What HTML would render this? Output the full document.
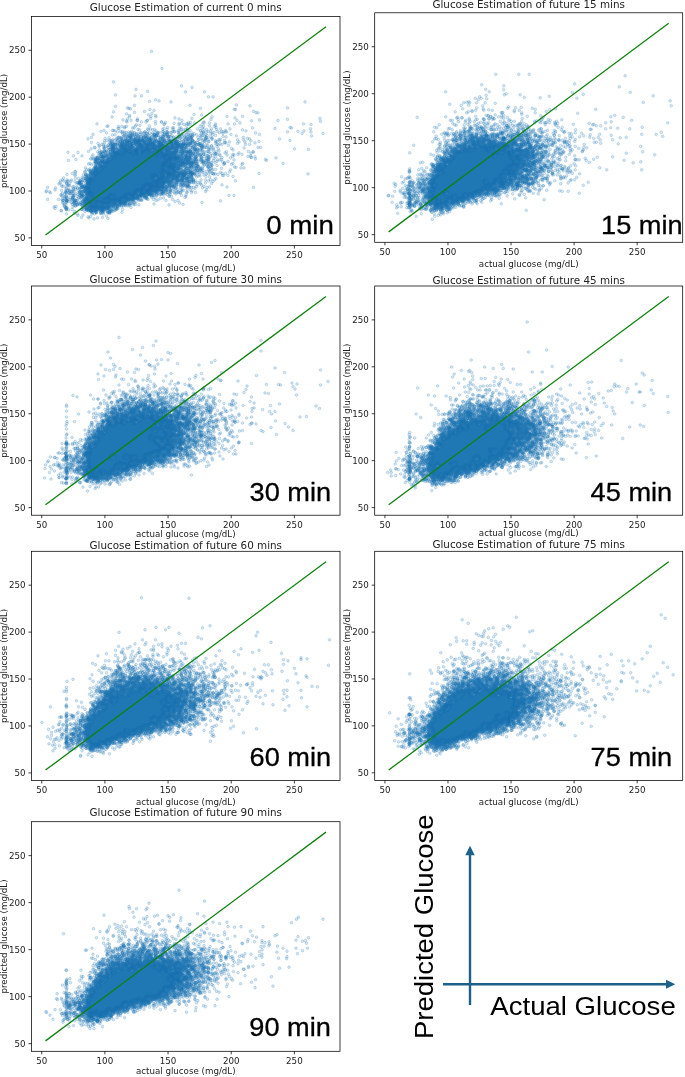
<!DOCTYPE html>
<html><head><meta charset="utf-8"><title>Glucose Estimation</title>
<style>html,body{margin:0;padding:0;background:#fff;width:685px;height:1077px;overflow:hidden}svg{display:block}</style>
</head><body>
<svg width="685" height="1077" viewBox="0 0 685 1077">
<defs><marker id="m" markerUnits="userSpaceOnUse" markerWidth="8" markerHeight="8" refX="4" refY="4" overflow="visible"><circle cx="4" cy="4" r="2.7" fill="#1f77b4" fill-opacity=".17" stroke="#1f77b4" stroke-opacity=".36" stroke-width="1.2"/></marker></defs>
<g transform="translate(31.5 16.4)"><path d="M132 165 131 165 130 170 131 170ZM135 155 136 158 138 159 138 157ZM136 149 138 152 142 152 142 150 141 150 140 148ZM139 141 135 142 134 140 136 139 136 138 132 138 129 136 130 133 129 133 128 131 126 132 122 131 122 133 120 135 116 132 114 132 111 134 109 137 107 137 106 136 106 134 104 134 104 136 102 137 99 135 97 135 95 133 93 133 93 136 91 138 89 137 83 137 83 141 74 146 74 149 72 151 70 151 70 153 68 155 65 154 65 157 63 159 63 161 58 164 57 166 57 170 56 171 57 173 57 177 60 177 61 178 60 181 58 183 56 183 56 184 59 186 59 191 66 191 65 189 65 186 66 185 70 187 78 187 78 185 79 184 87 184 89 185 89 183 92 181 95 181 95 179 96 178 99 178 102 180 106 174 109 174 110 175 110 177 111 177 111 173 113 171 113 169 114 168 116 168 118 170 118 172 117 173 115 173 115 175 120 174 120 171 121 170 123 171 127 170 126 167 130 162 132 162 132 158 131 157 132 150 137 144 139 144ZM73 184 74 183 77 183 78 185 77 186 74 186ZM78 182 78 180 79 179 82 179 83 180 81 183 79 183ZM121 168 122 167 124 167 125 169 124 170 122 170ZM123 159 125 160 125 162 124 163 122 163 121 162ZM126 137 127 136 129 136 130 137 130 139 129 140 127 140 126 139Z" fill="#1f77b4"/><g transform="scale(.5)"><path d="M240 70l21 34-97 27 136 8 21 3 25 9-38 0-76-1-12 9-11-13-2 13-39-2 68 13 12-3 7 2 24 2 75-10 9 0 184 10-35 12-68 7-7-11-27-2-2 9-2 0-68-2-21-6-72 10-8-2-11 4-20 2 0-14-8 7-3-1-3-1-24-3-4 11-3 10 22 6 7-12 2 10 4-4 0-3 16 7 22-8 4 7 1-4 2-6 7 4 1 3 38 2 8 2 26-1 4-8 15 1 19 9 2-5 30-1 16 3 15-3 27-8 4 1 3 14 37 1 19-2 65-2 1 6-19 6-15-1-24 8-3-1-75 1-2-14-23 4-6-5-5 7-13 0-24 7-1-4 0-3-2 5-10-7 0 6-11-8 0 2-1 7-2 3-1-7-4 4-11-7-8-1-1 5-3-4-1 3-2-2-1 4-5-2-4-8-1 6-1 9-4-9 0 3-10-3-1 9-2 0-10-1-4-10-2 3-1 1-5-5 0 0-12-1 0 5-12 4-4-11-1 0-2 3-9 0-3 7-5-10-1 0-1 9-2 2-3 4-3 0-3-15-8 3-1 9 0-11-3 12-1 2-5-3-6 4-1-4-21-1-2 1-20-5-8 21 16-6 6-2 5 5 12-5 0 9 2-9 3 1 0 8 5-6 1-7 5 6 3 2 1 3 0-5 2 10 1-1 0 0 1-7 1 3 2-3 1 6 1-1 3-6 1 7 1-4 0 6 0-1 2-6 0 6 1-4 1 2 0-7 1 7 1 1 0-6 0 7 1-2 3-4 0 0 0 4 2 3 2-3 0-2 2 3 1-4 0-8 3 1 1 9 1-3 0 7 2-7 3 6 1-5 2 0 0-3 1 0 1 7 1 0 1 2 0-6 2 1 0-4 0-6 1 12 1-11 2 7 0 6 2-14 3 11 1-9 0 6 1 6 2-3 1 0 0 3 0-2 0-11 0 11 1-5 1 8 1-11 0 9 0 1 1 0 1-1 0-1 0-3 1 1 1-3 0 1 2 6 1-7 6-6 0 9 1 5 0-9 0-1 2 7 0-13 1 9 0 3 2 1 1-6 0 9 2-8 0-6 0 12 0-2 1-1 0-4 0 6 1-4 4 7 1-1 0-7 2 0 1 6 2-12 0 4 3 1 0-1 7-1 1 3 0 8 1-4 0-2 0-5 1 11 0-16 0 16 3-14 1 10 1 1 0-7 3 7 0-10 4-1 1 7 1 3 0 4 1-15 0 4 1-4 1 3 2 6 0 2 1 3 1-11 2 10 2-5 0 7 1-4 0 4 1-2 3-3 4 2 2-12 5 13 1-9 0-1 2 10 0-5 3 5 0-5 1-1 0-1 0-5 2 13 3-3 1-10 0 5 1 7 2-8 5 4 0-5 2-4 1 8 1 4 3-5 3 6 2-12 2 4 4 3 2-8 2 5 3 4 0-3 5-3 0 3 2 0 7-6 2 11 11 3 12-12 7 2 19 4 8 3 31-12 25 7 21-1 8 4 4-5 13-4 1 6 1 8 23-5-66 14-21-3-41 5-8 3-8-4-3-4-4-1-5 7-3-4 0-5-9 9-3 3 0-7-16 4-7-10 0 12-2-1-1-4 0 5-3-13-2 16-3-10-1 9-1-6-1-3-4 4-2 1-1-2 0 5-7-10 0-1 0 3-4-5-2 9-1 1-1-4-2-4-2-1 0 0 0 2-1 1 0 3-1 2-1-1-2-3-2 2 0 5-3-8 0-4-1 14-1-1-1 1-1 0 0-9-2 2 0-6-2 10-3 1-1 1 0 1-1-4-1 0-2-2-1 4 0-5 0-1-1 0-1 6 0-10-1-1 0 2 0 6 0 3 0-6-1 7 0-1 0 0-1-10 0-2-1 14-1 0-1-10 0 3-1-2 0 1 0 4-1-10 0 5 0 4-1 4-1-11 0 12-1 0 0-12-1 6 0 5-1-8-1 9 0-7 0-7-1 8 0 6 0-12-1 12 0-5 0 5-2 1-2-5 0 2 0-7-1-5-1 2 0 13-1-8-2 4-2 2 0-4 0-8 0 9 0 4-1-9 0 7 0 2 0-12-2 10 0-4 0 2 0 1 0-11-1 11 0-5 0 7 0 2 0-5-1-2 0 5 0-9-1 10 0-7 0 7 0-2-1-6-1 8 0-7 0 4-1-10 0 7 0-7 0 12-2-9 0 4 0 7-1 0 0-8 0 2 0 1 0 3-1 1 0-2-1 1 0-3 0 4 0-1 0 0-1 0 0-3 0-1-1 0 0-2 0 3 0-2-2-8 0 9 0-4 0 9 0-10 0 4-1-8-1 0 0 9-1-8-1 6 0 5 0 3-1-1-1-2 0 0-1 0-1-6 0 2-1 0 0-3-1 4-1-8 0 8 0 5 0-15 0 7 0 6-1-9 0 5-1-3 0 9 0-5 0-10-1 15 0-12 0 9 0 4-1 0 0-2-1-7 0-2 0 10-1-10 0 0 0 8 0-12-1 15 0-1 0-2 0-1 0 0-1 2 0-3 0 1-1-2 0 5 0-8 0 8 0-13-1 11 0-4-1 3-1-1 0 1-2-2 0-2-1 3 0-3-1-3 0 0 0 11-1-8-1 3 0-9-1 11 0-5 0 7 0-4 0-10 0 12-1-7 0 7-1 2-1-6 0 4 0 2 0-7 0 6-1 0-1-9 0-3 0 13-1-12 0 11 0-7 0 4-1-1 0 4 0 2 0-4 0-6-1 5 0-3 0 7 0-11 0 1-1-2 0 10 0-5 0-3 0 5 0-3-1 8 0-8-1 0 0 9 0-1 0 0 0-2-1 3-1 0 0-14 0 6 0 2 0 2-1-9 0 6-1-5 0 2 0 5 0-7 0 8 0-9-2 9 0-12 0 9-1 6 0-1 0-2-1-1 0-10 0 10 0-2 0-4-1 7 0-5 0 7-1-1 0-11 0 1 0 3 0-5-1 7 0 2 0 0 0 5-1-7-1-1 0 2 0-5 0 4-1-2 0-6-1 9 0 1-1 3 0-7 0 9 0 1-1-6-1 4 0-6 0-4 0 7 0 4-1-9 0 4 0-7 0 5 0 6 0-6 0 4 0-3-1-9 0 3 0 7 0-9 0 7-1 2 0 1 0-1-1 3 0-2-1-3 0-3 0 7 0-5-1 9 0-8 0 5 0-1-1 3 0-1-1-5 0 3 0 2 0-4 0-5 0 7 0-2 0-2 0-8 0 4 0-2-1 10 0 3 0-9-1 2 0-2-1 3 0-2 0-2-1 10 0-4-1-2 0 5-1-4-1 4 0-9 0 5 0 5 0 0-1-2 0-10 0-1-1 2 0 5 0-3-1 10 0-14 0 3 0 11-1-14 0 11 0-1-1-8 0 4 0 4 0-1-1-2 0 1 0 3-1-4 0-7-1 7-1 6 0 1 0-8 0-7 0 9-1 3 0-12 0 6 0 7 0 1-1-5 0 0 0 2-1 3 0 0 0-11 0 11 0-8-1 0 0-3-1 7 0-2-1 2-1-1-1-4 0 9 0 0-1 1 0-3-1-5 0 4 0-2 0 6 0-7 0 6-1-10 0 10 0-2-1 3 0-1-1-11 0-2 0 2 0 3-1 4-1 1 0-1 0-1-1-8 0 14 0-1-2-13-1 5 0 1 0-6-1 14 0-2 0-5-1-5-2 2 0 7-2 3-1-2 0-6-3 6 0-7-1 5 0 3-1-1-1-6-1 3 0 5-1-8 0 6-2-6 0 5-1-10-4 5-4-4-1 9 0-4-5 7-8-2-13-2 0-10-7 3-20 27 21-2 5-5 7-3 1 1 5 8 3-11 1 7 0-9 4 13 0 0 4-14 1 3 0 9 0-6 0 2 1 5 0-7 0 7 2-10 0 12 1-4 1 2 2-11 1 3 0 9 1-8 0-6 0 11 3-2 0 5 0-13 0 8 1-9 0 9 0 5 1-12 2 7 0-2 0-2 0 0 0 2 0 3 0-6 1 5 0-6 0 9 0-10 1 11 0-9 1 6 0 3 0-14 0 2 0 4 0-1 0 6 0 5 0-10 1 2 0-7 0 2 0 5 1 4 0 4 1-3 0-3 1-4 0-4 0 8 0-4 0-6 2 9 0 7 0-16 1 7 1 4 0-9 0 11 1-2 0-4 0 6 1 2 0-6 0 5 2-3 0 2 1-4 0 6 0-12 0 9 0-10 0 14 1-9 0 5 0-7 1 8 0-8 0 6 0 5 0-5 0-8 0-1 0 2 0 11 0-13 1 10 0-4 0 3 0-5 1-2 0 0 0 3 1-3 0 4 0 4 1-6 0-3 0 3 0 2 1 6 0 1 0 0 0-7 0 2 0-5 0 3 0-2 0 10 1-1 0-4 0-9 0 8 0 1 0-9 0 8 0 2 1-10 0 13 0-5 0 5 0-4 1-7 0 2 0-3 0 7 1-4 0 1 0-3 0 0 1 7 0 1 0-4 1-6 0 9 1-5 0 2 0-8 0 11 0-6 0 7 0-2 0 1 0-7 1 8 0-1 0-4 0 6 0-12 1 5 0 5 1 2 0 2 1-12 0 9 0 3 0-11 0-2 0 7 0 4 0 0 1-7 0 0 0 4 0-7 0 0 1 5 0-8 0 8 1 2 0-4 0 4 0 3 0-6 0 7 0-1 0-2 1-4 0-1 0 8 0-3 0-9 0 2 1 1 0 9 0-12 0 13 0-9 0-4 1 9 0-6 0-1 0 8 1-6 0 8 0-4 0 6 1-14 0 4 0 10 1-8 0 6 0 2 1-1 0-13 0 9 0-3 0 2 1-8 0 9 0-2 1 6 1-2 0-2 0 3 0-9 0 8 0 0 0 1 0-3 0 3 0 1 1-11 0 8 0 1 0-1 0 1 0-3 1-6 0 7 0 2 0-3 0 5 0 0 0-1 0 1 0-5 1 5 0-14 0 14 1-9 0 3 0 1 0 3 0-3 0-1 0-3 0 9 0-5 1-1 0-4 0-2 1 7 0 4 0-12 0 2 0-3 0 8 0 5 0-4 1-6 0 5 0-8 1 0 0 13 1-13 0 6 0 8 0-14 1 0 0 12 0-9 0 1 0 6 1-5 0-5 0 6 0 5 0-5 0 3 0-2 1-7 0 11 0-9 0 12 0-7 0-3 0-2 0 3 0 2 0 8 1-5 0 4 0-13 0 14 0-2 0-11 0-1 0 5 0-7 1 11 0-7 0 4 0-1 0-3 0 10 0 0 1-14 0 14 0-10 0 2 0-2 0 5 2 2 1 0 0-9 0 7 0-1 1 1 0-5 0 3 0 2 0-1 1-5 0 4 0-7 1 6 0-5 0 8 0-1 0-6 0 5 0 0 1-6 0 1 1-2 0 10 0-5 1 4 0-3 0-2 0 2 0 1 0-6 0 8 0-6 1 5 0-7 0 2 0 0 0 10 1-4 0-2 0-2 0 5 1 1 0-1 0 1 0-8 0 5 1 3 0-1 0-4 0-1 1 7 0-9 0-2 0 12 1-3 0-9 0 2 0 10 0-4 0-8 0 10 1-8 0 6 1-3 1-5 0 8 0 0 0 1 0-4 1-6 0 6 0 7 0-12 0 11 0-7 0 2 0 3 1-10 0 4 1 2 0 1 1-7 0 4 0-2 0 1 0 5 0-4 1 2 0-1 0 2 1-6 0 1 0 6 1-2 0 2 1-3 0-3 0 1 1 1 1 0 1 12 0 0 0-10 0 0 1 9 0-13 0 6 0-2 0-2 1 11 0-10 0 9 0 2 0-14 0 14 1-3 0-8 0 6 0 2 1-7 0-5 0 4 0 10 0-9 0-5 0 13 0-9 0 4 0 3 0-11 1 8 0-8 0 1 0 1 0 12 0-1 0-2 1-1 0-1 0 4 0-7 0 3 1-5 0 6 0-8 0 7 0 1 0 0 0-6 1 10 0-14 0 13 0-2 0-2 1-7 0 4 0-5 0 1 0 6 0 5 0-5 0-7 1 5 0 3 0 1 0-4 0 8 0-2 0-4 1-6 0 7 1-4 0-3 0 1 0 12 0-13 0 0 0 11 1-8 0-3 0 12 1-9 0 3 1 1 0-3 0-4 0 10 1-3 0 0 0-6 1 2 0 5 0 0 1 3 0-7 0 4 1-2 0 3 0-10 0 4 0 6 0 1 0-8 0 4 0-4 1 5 0 5 0-11 1-3 0 15 0-12 1 7 0-6 0 10 0-3 0-5 0-3 1-1 0 11 0-5 0 0 0 1 0 3 1-7 0 8 0 2 0-8 1 1 0-5 0 3 1-3 0-2 0 5 0 3 0 0 1 2 0 1 1 0 0-9 0 3 1-2 1-1 0 3 0-5 0 8 0-3 1-2 0 3 0-1 0-6 1 2 0 12 0-4 0-6 0 2 1 1 0-4 1 11 0-4 0-6 0 9 1-5 0-7 1 13 0-2 0-7 0 9 0-3 1-1 0-5 0 6 0 2 0-13 1 13 0-6 0 0 0-6 0 6 1 2 0-9 0 15 0-11 0 0 0 10 0-3 0-4 0 2 0 2 0-11 1 5 0-4 1 2 0-1 0-1 1-2 0 0 0 15 1-13 0 13 0-1 0-8 0 2 1-3 0 2 0-5 1-1 0 3 1-1 0 0 1 12 0-15 0 13 0-5 0 2 0 4 1-1 0-11 0 5 0 3 1 5 0-10 0 2 0-2 0 1 1-6 0 4 1-2 0 10 0 4 0-3 0-11 0 7 1 0 0 6 0-15 0 8 1 5 1 3 0-7 0-4 0 7 1-8 0 11 1-14 0 6 0-6 1 14 0-12 0 7 0-4 1 0 0 8 1 0 0-8 0 10 1-14 0 13 1-3 1 3 0-15 0 1 1 9 0-8 1 13 1-2 0-11 0 12 1 1 0-2 0-6 1 4 0 4 2-13 0 13 0-9 1 2 1-3 0-1 2 6 0-7 1 6 0 1 0 3 1-6 0 1 1 2 0 0 0-7 1 10 0 1 0-12 1-2 2 9 0 2 0-2 0 6 2-15 0 11 1-10 0 11 2-10 0 0 1 7 1 4 1-7 0-3 0 4 1 6 0-5 0-5 1 9 0-7 1-4 0 1 0 3 2 10 1-9 2 0 1 9 1-15 0 6 2-4 1 12 1-5 0 5 1-8 1 3 2 1 2-7 0 0 3 4 1 2 0 4 6 1 1-10 0-4 3 9 0-8 1 12 15 2 4-13 6 6 3 3 22-4 3-7 6 14 2-14 7 15 1 0 9-9 5 0 68 3 28 1-65 17-19 5-2-2-20-1-1-4-7 1-1 0 0-8-1 5-5 1-12-4-6-3-2 3-8 11 0-10-2-1-1 4-4 3-7-6-4-4-6 9-1 4-3 1 0-9-1-2-4 11-1-11-2-2-1 0 0 7-1-5-1-2-1 10-3-6-3-4-1 6-3 4 0-11 0 8 0 5 0-4-1 4-1-7-1 7-1-8 0 1-1 5 0 0-1 4-4-8 0-4-1 12 0-13 0 1-3 8-1-2 0 4 0 1 0-12-1 6 0 0-1-5 0 10 0-9-2 1-2-3 0 12-1-14-1 2 0 2-1 3-1 7 0-6-1 0 0 6 0-2-1-12 0 10 0-4 0 4-1 4 0-1-1-2 0-8-1 9 0-11-1 5 0-1 0-4-1-1-1 4-1-2-1 7-1-8 0 13 0-3-1-1 0-7 0-2 0-2 0 6-1 1 0 0-1 7 0-7 0 6 0-4 0 1 0-7 0 7 0 2-1 2 0-4-1 5 0 0 0-15-1 0 0 3 0 7-1-4 0-4-1 14 0-2 0 0-1-1 0-4 0 2 0-4 0 0 0 1-1-1 0-2 0 3 0 4 0-2-1 5 0-9 0-3-1 11 0 1 0 0 0-3-1-3-2-2 0 4-1 1 0-9 0 11 0-10-1-3 0 1 0 6-1 0 0 2 0 2 0-9-1 1 0 12 0-10 0 6-1 1-1-10 0 6-1-3 0 4 0 5 0-12 0 11-1-2 0 0 0-4-1 4 0-7 0 10-1-7-1 1 0 4 0-7 0 5-1-1 0 0 0 6 0-10-1 4 0 4 0-2-1-2 0-6 0 8 0-1 0 3 0-11-1 7 0 2 0-1 0-6-1 9 0-11 0 6 0 3 0 1 0-7-1-5 0 14 0-2 0-4 0 6 0-3 0-9 0 6-1 6 0-8 0 5 0-5 0 5 0-7 0-2 0 3 0 0 0-6-1 12 0 2 0-10 0 7-1 3 0-5 0 4 0 0 0-13-1 10 0-2 0-7 0 0-1 2 0-2 0-1-1 7 0 2 0 6 0-10 0 3 0 1 0 2 0-8 0 2 0-5 0 0-1 2 0 2 0 11 0 1 0-13 0 9 0 3-1-4 0-1 0 5 0 0 0-5 0-9 0 7-1 5 0-13 0 7 0 7-1-4 0 0 0-4 0 0 0 7 0-1 0-2-1-9 0 6 0-2 0 3 0 4 0 0 0-11 0 1 0 3-1 10 0-2 0 2 0-13-1 6 0-3 0 3 0 3 0-1 0-3 0-1-1 7 0-4 0-3 0-2 0 12-1-6 0-9 0 5-1-4 0 1-1 1 0 0 0 4 0 1 0 2 0 5 0-15 0-1 0 10 0 3 0-11 0 5-1-5 0 2 0 4-1-2 0-4 0 3-1-2 0-2 0 4 0 0 0 4 0-1 0 1 0-4 0 4-1-1 0-1 0 4 0-4 0-6-1 5 0-1 0 2 0-3 0-1-2 0-1-2 0 1 0 0-1-2 0 3 0-1-1 2 0 2 0 1-1-3 0 1 0-1-1-3 0 4 0 0 0-4-1 5 0-6 0 1 0 7-1-1 0 1 0-7-1 7-1-6 0 6 0 0 0-1 0-6-1 7 0-5 0 2-1-2 0 2 0 0-1 0 0-4 0 0 0 0 0 0 0 5-1-1 0-5 0 6-1-3 0-3-29 1-1-1-1 0-1 0-2 3 0-1-2-1-1 0-1 0 0 0-1-1-1 1-1-1-2 1-2 1 0-1 0 2-3-3-1 1-15-1 0 1 0 2 0-2-2 1 0-2-2 2 0 1 0 0 0 1-1-2 0 3-1-3-1 1-1-2 0 0-1-1-1 2-1 0 0-1-1 0-1 0 0 1-1-1-1-1 0 1 0-1 0 2-1 0-1-1 0 2 0-2-1-1 0 9 0-1 0-7-1 4 0 4 0-6 0-1 0 0 0 6 0-2-1 3 0-6 0-3 0 4-1 4 0 0-1 3 0-11 0 8-1 1 0 0 0 4 0-10 0 2-1 6 0-6 0 1 0-6 0 11 0-11-1 9 0 4 0-2 0-5 0 5-1-6 0 7 0-4-1 6 0 0 0 1 0-14-1 2 0 1 0 0-1 6 0 0 0 3 0-6 0 6-1 0-1-3 0-7-1 11 0 2 0-2 0-9 0 10-1-10 0 9-1-1 0-4 0 0-1-4 0 7 0-4-1-2 0-1-1-5-1 9 0 7 0-10-1 1-1 4 0 0-1-1 0-2 0-5 0 6-1 2 0 2 0-11 0 14-1-14 0 7 0 7 0-7 0-9 0 10-1-1 0 7-1-10-1 2 0-3 0-1 0 4-1-7 0 11-1-11 0 12-1 2 0-9 0 10 0-4-1-11 0 11-2-5-1 4 0-1-1 3 0-2-1 3 0 0-1 0 0 1-1-5 0 2 0 4-2-2-2-1-1-8-2 4 0 4-3 0-17-6-12 7-5-7-10 9-1-16 35 31 6-8 3-1 3 3 5 7 0-10 2 6 0-9 0 12 0-2 1-10 0 8 0-8 1 3 0 8 0-9 0-2 0 9 1-8 0 10 0 1 1-14 0 10 0-3 1-2 0 4 1 6 1-10 0 10 0-11 0-1 1-2 0-2 0 8 0 4 0 3 1-8 1 0 0 5 0 4 0-3 0-1 0-4 0-1 1-2 0 6 0-6 0 10 0-9 1 6 0 2 0-12 1 2 0-3 0 12 0 0 1 0 0-11 1 11 0-3 0 0 0-8 0 7 0 3 0-9 1 7 0 3 0 1 0-10 0 8 0-8 0-1 1 10 0 0 1-11 0 2 0 0 0-1 0 3 0 6 0-10 1 10 0-5 1 1 0-3 0-5 0 1 0 5 0 2 1-4 0 6 0-2 0-1 0 3 1 0 1-8 0-1 0 2 1-2 1 2 0-1 0 0 1 1 0-1 0-1 108 9 0 0 0 4 0-5 1 7 0-2 1 0 0-3 0-1 0 5 0-8 0 4 0-4 0 4 1-5 0 8 0 2 0-8 0 1 0 1 0-1 0 4 0 0 1 3 0-5 0-6 0 1 1 2 0 1 0 5 1-3 0 2 0-3 0-4 0-5 0 5 1 5 0-7 0 10 0-9 0 1 0 1 1 0 0-3 0-2 0 8 0-7 0 9 0-7 0-4 1 0 0 10 0-7 0 7 0-6 1 4 0 4 0-7 0-4 0 10 0-8 1 2 0-6 0 16 0-15 0 13 0-6 1 3 0-2 0 0 0 3 0-3 1-6 0 9 0 3 0-15 0 12 0-3 0-6 0 8 0-10 1 15 0-12 0 2 0 8 0-12 1 13 0-7 0-3 1-4 0 2 0 13 0-15 0 4 0 5 0 5 1-8 0 1 0 2 0-1 0-6 0 3 0 3 0 7 0-8 0 0 1 1 0 1 0 4 0-1 0 2 0-7 0 6 0-13 1 6 0 1 0 7 0-7 0 7 1-13 0 4 0-5 0 6 0 2 1 6 0-6 0 6 0 0 1 0 0-6 0 7 0-11 0 4 0-7 0 2 0 7 1-11 0 16 0-9 0-2 1 10 0-3 0 2 0-3 0-6 0 7 0-5 0 5 1-7 0 7 0 1 0-6 0 5 0-5 0 1 0 5 1-3 0 1 1-11 0 3 0 8 0 5 1-11 0 1 0-4 0 14 0-6 0-1 0-6 0 12 1-14 1 3 0 6 0-5 0 5 0 3 0 3 1-1 0-9 1 8 0-14 0 16 0-6 1 1 0-10 0 1 0 9 0-7 0-4 0 5 0 1 0 0 1 10 0-1 0-3 0-2 0-8 1 9 1-4 0 1 0 2 1 3 0-11 0 2 0 6 0-2 1-6 0 13 0-5 0-7 0 12 0-8 1 3 0-6 1 2 0-5 0 4 0 3 1-5 0-2 0 4 1-2 0 8 0-6 0 4 0-2 0 6 0-5 1-4 0 7 0-11 0 9 0-3 1-1 1 1 1 8 0-13 0 1 1 5 0 7 0-9 1 2 0 1 0 2 0 3 0-1 0-11 1 4 1 0 0 1 1-3 0-2 0 15 0-11 1-4 0 6 0-6 1 2 0 10 0-6 1 9 0-11 1 2 0 5 0 3 0-10 0-1 1 6 0-6 1 6 0-7 0 7 0 6 1-11 0 5 1-4 0 6 0 2 0-14 0 2 0 3 0 7 0-5 1-1 0 1 0 8 1-12 0 7 1-4 0-6 1 4 0 9 0-9 1-1 0 9 0-5 0 4 2-6 0-3 1 4 1-4 0 13 0-5 1 5 0-9 1 1 0 6 0-3 0-6 0 8 2 0 0-1 0-9 0 7 2 4 0 2 4 1 0-15 1 3 2 11 1-12 0 3 0 6 0-10 0 2 1-1 2 6 1-4 1 3 1-5 2 6 0-8 1 12 1-7 0 7 1-7 0 7 0-10 0-2 0 11 2-5 1 9 2-4 0-3 0-4 1 10 0-11 1 6 0-1 3-9 3 4 4 6 0-8 9 14 2-13 2 5 2-1 0-2 0 0 7-3 7 6 3-2 3 7 3 1 10 1 2-7 1-2 3 9 78-9 50 21-98-1-52 6-5-13-2 4-3 7-5-4-4 4-2 0-1-4-3-2-5 4-5-1 0-9-3 9-1 0-2-9 0 8-1 0 0-6-4 3-1-1-1-3-1 8 0-8-5 4 0 4 0 5-4-3-2-9-1 4-1-6 0 4-3-5-1 2 0 12 0-11 0-3-1 11 0-5-3 8 0-11 0 4-1-4 0 0-2-4 0 7-1-6 0 4-1 8-1-9 0 7-1 0 0-10 0 10-1-5-2-3 0 7-1-1 0 1 0 2 0-2-1 2 0-7 0 7 0 0-1-3-1 7 0-7-1 4 0-5 0-3 0 4 0-3-1 7 0-7 0 5 0-1-1-4-1-6-1 4 0 0 0 4-1 4 0-5 0 5-2-2 0 0 0-6-1-4 0 0-1 10 0 1 0-6 0 3-1 2 0-7 0 8 0 3-1-10 0 9 0-10-1 3 0 3 0 3 0-4-1-1 0 8 0-1 0 0 0-4 0 2 0 2-1-1 0-9 0 7 0 3-1-3-1-5 0 10 0-5 0-5-1 6 0-3 0-6-1 0 0 9 0-3 0 5 0-5-1-7 0 7-1 4 0-7 0 9-1-5 0-1 0 0 0 0-1 6-1-5 0-7 0 6 0 7 0-6 0 1 0 0 0 0 0-8-1 11 0-4 0-10 0 14 0-14 0 3-1 5 0 7 0-15 0 15-1-12-1 12 0 0 0-10 0 3 0 6 0-6-1-8 0 10 0 1 0 5 0-10-1 4 0-2 0 6 0-11 0 3-1-2 0 10-1-9 0-5 0 4 0 3-1 1 0-2 0 6 0 2-1-4 0 3 0-10 0 3 0-2 0 9 0-2 0-6 0 5-1 3 0-10 0 3 0 7 0-5 0-5 0 1-1 10 0-9 0-3 0 4 0 9-1-14 0 10 0 3 0-11 0 8 0-9-1 6 0 0 0 5 0-10 0 9-1-1 0-6 0 7-1-10 0 8 0 4 0-4 0 2 0-5 0-7 0 10-1-4 0 8 0-3-1-1 0-8 0 2 0 12 0-13 0 3-1 8 0-4 0-5 0 5 0 4 0-5 0-1-1 5 0-13 0 15 0-5 0 4 0-7-1 7 0-7 0 5 0-3 0 0 0 1 0-7 0 9 0 0 0-4 0-7-1 14 0-3 0 1 0 0 0-6 0-7 0 9 0 2-1 3 0-12 0-1 0 4 0 6 0-1-1-5 0 5 0-4 0 1 0-1 0 5-1-4 0 0 0-3-1 5 0-9 0 6-1 1 0 8 0-7 0-8 0 11 0-8 0 2 0 6-1-7 0 6 0-4 0 0-1 6 0-8 0 12 0-8 0 2 0-7-1 1 0 11 0-11 0-3 0 5-1 8 0-3 0-11 0 8 0-6 0 13 0-12-1 12 0-1 0-1 0-1 0-11 0 13 0-8 0 1 0-3 0 10 0-4-1 5 0-13 0 10 0-9 0 1 0 4 0-2 0-3-1 2 0-5 0 12 0 0 0-2 0 0 0-3 0 1-1 3 0-3 0 0 0 0-1 0 0-1 0-2 0 3-9 6 0 0 0 2 0-1-1-2 0 2-1-1-1-1 0 1 0 2 0-2 0 0-1-3 0 2 0 0-1 2 0-3 0 2 0-1-1 1-1-1-1 0 0 2 0-1-1-1-100-12-1 0 0 1-1 1 0 0 0 0-3 1 0-2 0 3-1-3 0 4 0 1 0-5-1 3 0-3-1 1-1 2-1-1 0 0 0 0 0 6-1-1 0-5-1 3 0-6 0 1 0-1 0 0 0 6 0 5 0-1 0-1-1-5 0-1 0 5 0-3 0-5 0 9 0-7-1 4 0-3-1 9 0 3 0-6 0 4 0-7-1-4 0 7 0 5 0-2-1-3 0-9 0 1 0 9 0-5 0 8 0-3 0-2-1-4 0 4 0 2-1-4-1-2 0 2 0 4 0 5-1-3-1-4 0-1 0-3 0 9-1-5 0 6 0-2 0-2-1-10 0 3 0 2 0 4 0 2 0-7-3-2 0 12-3-2 0 2 0-2-1-10-1 10-1-1 0 2-1-7 0 0-3 6-16-1 0-5-1-1 0 8-5-4-11 2-16 19 2-2 1-4 4-2 2 2 0-6 5 8 1 4 0-2 1-6 1 3 2-1 2 6 3-5 1-3 7 4 1-7 3 8 2 1 1-9 1 8 0 3 1-4 0 2 0 1 0-1 1-5 0 7 0-5 0 2 1-3 2 3 1-10 0 9 0-5 1 3 2-5 2 5 1-8 0 3 1 10 0-6 1-4 0 1 1 2 0-5 1 4 0 4 0-1 1-4 0 9 0 2 0-2 0-2 1 2 0-12 0 13 0-6 0 5 0-11 1 12 0-14 0 8 0 1 0-2 0 5 0-9 0 8 1 3 0-6 0 6 0-4 0-4 0 2 1-4 0 0 0 3 0 2 0-9 1 5 0-1 0-2 2 1 0-3 0 6 0-1 1 0 0 1 0-1 0-1 1 0 0 1 0 0 0-2 0-2 1 1 1 0 1 0 0-3 2 1 1-1 0 2 100 14 2-3 0 2 0-1 0 0 2 1 2 0 0 0 6-1 0 0 0 1 1-14 0-1 0 14 0 1 0-13 1 0 0 2 1-2 0 1 0-1 0 1 1-2 0 14 1 0 0-11 0 9 0-6 0-4 0 1 1 9 0-7 0 6 0-6 0 7 0-9 0 2 0 7 0 0 0-9 1 2 0 5 1-9 1 14 0 0 1 0 0-15 0 12 1-2 0 3 0 0 0-9 0 7 0-8 1-2 0 12 1 0 0 0 0-4 0 0 0 2 0-1 1 1 0 4 0-6 0 4 0-4 0 2 0-6 1 5 0-5 0 3 0-3 0 9 1-5 0-3 0 2 0-2 0 1 0 6 0-5 1 2 0-7 0 7 0-2 0 5 1 1 0-12 0 8 0-6 0 0 0-1 0 7 0 4 1-9 0-1 0 4 0-6 0 13 1-7 0 6 0-11 0 11 1 0 0-3 0-6 1 4 0 3 0-10 0 1 0 2 0-4 0 10 0-1 0 4 1-6 0-1 0-5 0 4 0-3 0-1 1 6 0-7 0 9 0 0 0 1 0 1 0-6 0 4 1 3 0-14 0 14 0-10 0 10 0-2 0 0 0 1 0-9 0 10 0-6 1-2 0-1 0 10 0-12 1 6 0-7 0 4 0 7 0-4 0 3 1-2 0-3 0-2 1 2 0 0 0-6 0 10 1 2 0-10 1 5 0 2 0-3 0-5 0 1 0 8 0-10 0 9 1 0 0-7 0-2 0 0 1 7 0 0 1-5 0-1 0 4 0 3 0-8 0 13 0-2 0-7 1-2 0 7 0-5 0 10 0-14 1 0 0 7 0 5 0-11 0 6 0 0 1-7 0 9 0 5 0-13 0 12 1-1 1-11 0 6 0 4 0 0 1-9 0 3 0 4 0 2 0-3 1-3 1-6 0 9 0-8 0 11 0-6 1-2 0 12 0-5 0-5 0-2 0-1 1 1 1 10 0-11 0-1 0-2 0 16 0-11 0 2 1 3 0-2 0-7 1 3 0 11 0-14 1 4 1-2 0 1 1-3 0 11 0-1 0-10 0 13 0 1 1-12 0 9 0-4 0 0 0-6 0 3 0 1 1 1 0-4 1 0 0-2 0 0 0 10 0-3 1 1 0-1 0 0 1 0 0-8 0 12 1-7 0 4 1-6 0 0 1 3 1 2 1 7 0-3 0-7 0 6 1 5 0-8 0 1 1 0 0-8 0 7 0-2 1 9 0-12 0-2 0 4 0 0 0 0 1 1 0-2 0-4 0 1 0 8 1 7 1-4 1 1 0 1 0-4 0-2 0-6 1 1 1 1 0 8 1-8 1 4 0-7 0 4 0-1 0 0 1 6 1 2 0-5 0 3 1-2 0-3 0-1 0-2 0-1 1 9 0-8 1 11 0 0 0-11 0-2 1 6 0 8 1-3 0-1 1-3 1-6 1 6 0 3 0-3 0-5 1-1 0 11 0-11 0 2 2 4 0 0 1 1 0 5 0-7 0 5 3 1 1-3 2-8 3 11 4 0 1 3 1-8 9 6 0-6 6 2 2-8 2 6 2 7 3-4 3-3 3-3 39 5 36 13-53-1-10-4-25 4-5 1-1 5-2 3-3-10-3 3-2-6-9 0-1 3-3 4-3-2-3 7-1-7-3 5 0-5-2-3 0 2-2-3 0 1 0 1-2 12 0-11 0 4 0-8 0 0 0 14-1-12-1 0-1-1-4 10 0-11 0 3-1-2-2 8 0-6 0 9-3-13 0 3 0 3 0 6 0 4-5-16 0 15-1-5-2-8 0 11 0-13 0 5-1 3-2-4 0 3-2 8 0-12 0 2 0 5-1-3-1-3 0-1-1 0-1-1-1 2 0 0-1 8 0-2-1 4 0 2-1-15 0 10 0-6 0 6 0-8-1 0 0 11 0-13 0 4-1 1-2 10 0-15-1 3-1 7 0-1 0-3 0 0-1-2 0 8 0-13 0 4-1 1 0 5 0 1-1-6 0 8 0-7-1 3 0-8-2 1 0 0 0 8-1-3 0 7 0-1 0 3 0-7 0 5-1-8 0-4 0 9 0-6 0 0 0 0-1 0 0-2 0 0 0 8-1-9 0-2 0 15 0-1 0-8 0-1 0 3-1-6 0 2 0 2 0 8 0-10-1 6 0-6 0 6-1 1 0-3 0 3-1-8 0 0 0 1 0 2-1 6 0-6 0 2 0 2 0-6 0 0 0 8-1-8 0 4-1 3 0-6 0 4 0-6 0 10 0-10 0 1-1 4-1-6 0 6 0 5 0-10 0 8 0-4 0-3 0-3 0 8 0-5 0 6-1-3 0 7 0-4-1 1 0-11 0 1 0 2 0 0 0 6 0-7-1 12 0-12 0 10 0-7 0 11 0-12 0 5-1 5 0-11 0 0-1 10 0 1 0-9 0 9 0-8 0 2 0-2 0 2 0-2 0 7-1-9 0-2 0 5 0-6-1 9 0 3 0-8 0-1 0 5-1 3 0-3 0-3-1 1 0-7 0 4 0 7 0 4 0-4 0-7 0-1 0 0-1-2 0 4 0 8 0-9 0-2 0 1-1 0 0 8 0-8 0 11 0-2-1-12 0 9 0 4 0 2 0-12 0 3-1-3 0 3 0 3 0 0 0 2 0 0 0-5 0 7 0-8-1 9 0-9 0 7 0-4 0 2 0-1 0-5 0 3 0 5 0-6-1 5 0 0 0 2 0-9 0-1 0 2 0-2-1 3 0-2 0 5 0-8 0 11 0-9-1 8 0-9 0 11 0-13 0 1 0 0 0 5 0 1 0 5-1 0 0-6 0-1 0 8 0-12-1 14 0-14 0 4 0 7 0-11 0 8 0-7 0-2 0 11-1 0 0-9 0 11 0-6 0 6 0-1 0-10 0 6 0-8-1 1 0 14 0-7 0 1 0 7 0-3 0-1-1 4 0-6 0 0 0-3 0-5 0-1-1 15 0-1 0-7 0-5 0 11-1-3 0 5 0-4 0-11 0 2-1 7 0-8 0 1 0 12 0-10 0-5 0 6 0 3 0 5-1-11 0 6 0 2 0 2 0-6-1-2 0-1 0 2 0-6 0 3 0-1 0 4-1-5 0 1 0 9 0-7 0 7 0 3 0-9 0 1-1 0 0-3 0 3 0-3 0 2 0 4 0-4 0 10 0-2-1-3 0 4 0-3 0 5-1-7 0 3 0-2 0 4 0-6-1 1 0 4 0 3 0-6 0 6 0-5 0 5 0-4 0 1 0-5 0 5-2 0 0-2-1 5 0-1 0 0-1 1 0-3-1 2 0-4 0 1 0-1-1 1 0-2-1 4 0-3 0-1-1 2 0-2 0-1 0 6 0-2 0-3-1 1 0 0 0 3-1-1-1-1 0 3 0-1 0-2 0 0 0 1 0 2 0 1-1-2 0 1 0-1 0 0 0 1 0-4-1 4-1 0-88 1 0 0 0-1-1 1 0 0-1 0 0 0 0 0-1-7 0 3-1-8 0 7 0-7 0 11 0-6-1 6 0-8 0-2 0 3 0-8 0 12 0-9-1 1 0 4 0 2 0 0 0 0-1-5 0 1 0 1-1 0 0 8 0-13 0 6 0-4 0 6-1-4 0 4 0-4 0 8 0-14-1 8 0 4 0-3 0 6-1-1 0-8-1 6 0-5 0-4 0 1 0 10-1-6 0-4 0 0-1 3 0 0 0 6-1 1 0 1-1-1 0-9-1-5 0 1 0 5-1-4 0 3 0 9 0-11-1-1 0 5-1 3 0-3-1 7-1-5 0 6-2-2-2-6 0 0-1-7-3 7 0 3-3-6 0 9-1-5-1 2 0 3-1-8-1 9-1 2-1-2-3-1 0-10-1 7-1 2 0-10-1-2-1 12-1-9-1 4-1 8 0-6 0 6-1-2-4-9-3 0-1 8 0-11-12 6-1 4-11 4-4-9-2 7-1 2 3 15 6-13 16 13 5-8 0-2 2 10 0-6 1-6 3 6 1 2 0-7 1 10 2 1 0-13 0 0 0 8 1 2 0-3 0-2 1 10 0 0 1-5 3-11 0 2 1 13 1-12 0-1 1 8 1 4 3-8 0 6 0 1 0 1 1-5 0-6 0 7 1 5 0-6 0-2 1-4 0 3 2 9 0 0 2-13 0 14 2-8 2-4 1 7 1 0 1-11 0 2 1 4 0-1 0 1 1 5 1-11 0 0 1 8 0-4 0 9 0-7 0 2 1-4 0 5 1-4 1 1 0 5 0-5 0 0 2 9 1-12 0 6 0 5 1-4 0 6 1-4 0 2 0-1 0-13 1 7 0-2 0-4 0 0 0 10 1 4 0-2 1-4 0-3 0-5 0 5 0 6 0-3 1-5 0 11 0-2 0-3 0 3 0-12 1 3 0 8 0 2 0 1 0-10 1-5 0 0 0 8 0-5 0 0 0 5 1-8 0 14 0-6 0-7 0 11 0-8 0 6 0-9 1 2 0-1 1-2 0 12 0-4 0-6 0 3 0 7 0-7 0 3 1 4 0-3 1 3 0-8 0-2 0 6 0 2 0-7 1 5 0 2 0-1 0-2 1 3 0-7 0 7 0-8 0 0 0 2 0 2 1-2 0 2 0 0 1-5 0 6 0 0 8 8 12-1 0 2 1-2 0-1 1 1 1 1 0 0 0-2 1-1 1 0 0 0 0 3 1-2 0-1 0 2 1 0 0 2 0-3 0 0 1-1 0-1 0 2 1-1 1 3 0-7 0 3 0 1 1 3 0-5 0-1 0 4 0-2 0-1 0 0 1-4 0 2 0 1 0 0 0 6 0-6 1 5 0-5 0-2 0-1 0 8 0 0 1 1 0-6 0-4 0 3 0 5 0-4 1-3 0-1 0 9 0-9 1 5 0-5 0 3 0 0 0-1 1 7 0 1 0-8 0-4 0 11 0 0 0 0 1-8 0-2 0 9 1-1 0 2 0-1 0-4 0 3 0 4 0-2 0-8 0 8 1-9 0 9 0 0 0-7 0 2 0 5 1-1 1-6 0 8 0-7 0 0 0 3 0-2 1-1 0 2 0 6 0-2 0-8 1 8 1 0 1 0 0-1 1 1 1 0 1 2 0-2 2 1 1-3 1 4 0-4 2 1 1 2 0-3 0 2 0-2 0 3 1 0 0-1 0-3 0 5 1-5 0 2 0-3 0 2 1-2 0 0 0 1 1 0 0 0 0-3 0 5 0-4 0-1 1 5 0 3 0-1 2-4 0-3 0 1 0 2 0-1 1-1 0 0 0-1 1 3 0-6 0 6 0-5 0 2 0-2 0 2 0 5 0-9 1 6 0-6 0-1 0 12 0-6 0-1 0 3 0-7 1 11 0-4 0 1 0-7 1 1 0 5 0 4 0-13 0 2 0 10 0 0 1-13 0 1 0 10 0-5 0-4 1 1 0 0 0 9 0-11 0 10 0-2 0 1 0 4 0-4 0-2 0 2 1-6 0 2 0-6 0 1 0 0 1 12 0-10 0 12 0-3 0-1 0-1 0 4 0-2 1-7 0 8 0-9 0-3 1 10 0-9 0-1 0 10 0-8 1 11 0-6 0-5 1 2 0 0 0-3 0 10 0-1 0-7 1 4 0-2 0-1 0 3 0 6 0-6 1 4 0-9 0 3 0-3 1 1 0 5 0-4 0-1 0 10 0-7 0-4 1 3 0 0 0 5 0 2 0 1 0-9 0 7 1-9 0 2 0 8 0-4 0-4 0-1 0 1 1 5 0-9 0 8 0 3 0-3 0-10 0 1 0 4 1-5 0 6 0 6 1-9 0 9 0-10 0 4 0 6 1-11 0 2 0-2 0 4 0 3 1-6 0 9 0-10 0 3 1 7 0-11 0 4 0-2 0 9 1-3 0-7 0 0 0 5 0 5 0 1 1-4 0 5 1-6 0 0 0 1 0 5 0-2 0-6 0 3 1 6 0-7 1 3 1-5 0 2 0-1 1 8 0-9 0-2 0 0 1 1 0 4 0-5 0 1 0 1 1 10 0-15 0 3 0 2 0 4 0-6 0 4 1-5 0 5 0 0 0-1 0-6 0 16 0-12 1-3 0 14 0-15 2 4 0-1 0 6 0-6 1 2 0-4 1 1 0-1 0 1 0 6 0-3 0-3 1 9 0-5 0-4 0 7 1-2 0-1 1-5 0 9 1 0 0 2 1-6 0 1 0-1 1-3 0 9 0-11 0 12 0-4 1-4 1 9 0-11 0-2 1 2 1-1 0 2 1-2 0 2 0-2 0-2 0 5 1 0 1-4 0 2 1-1 0 3 1 2 0-4 0 7 1-9 0 2 0 4 1-2 1 1 1 8 0-14 1 3 0 4 1-7 1 10 0-8 2 14 1-15 0 4 0-1 1 3 2-5 0 13 0-14 3 1 1 3 1 7 1-9 1 1 1-2 1-1 0-1 1 3 1 8 1-7 3-2 2-2 1 4 4 3 1-5 0 6 1-4 3 4 2 6 4-13 3 2 2-3 2 16 2-15 3 0 2 5 7 4 2-5 0 3 11-8 8 0 67 6 10 0-27 11-37 3-38 4-7-3-9-3-12 7-6-9-24 7-30 2 0-9-6 3-1 5-2-4-1 5-1-9 0 5-1-2-1 4-2-6-1 6 0 7-1-12-1 5-1 3 0-3-1 1 0-5-2 8 0-11 0 7-1-3-2-1-1 8 0-9 0-1 0 6-1-4 0 0 0 5 0-7-1 8 0-3 0-3-1 0 0 2 0-4 0 1-1 3 0-4 0 5 0-5 0 8 0-8-1 6 0 4 0-10-1 3 0 0-2 3 0 3-1-4 0 6 0-8 0 2 0-3 0-1-1 3 0-2 0 2 0 0-1 1 0-4-1 6 0 2 0-8 0 1 0-1-1-1 0 4 0 1 0 4 0-3 0-4 0-2-1 1 0 9-1-9 0-2-1 16 0-12 0 3 0 1 0 3-1-11 0 0 0 0 0 12 0 3-1-13 0 8 0-9 0 1-1 8 0 4 0-5 0-4-1 2 0-4 0 5-1 5 0 0 0-12 0 2 0 7 0-9-1 6 0-3 0 1 0 1-1-1 0-2 0 5 0-6-1 3 0-4-1 6 0 3 0-3 0 5 0-9 0-3-1 2 0 9 0-4 0-5 0 10 0-7 0 9 0-7-1 3 0-9 0 0 0 11-1-11 0 6 0 0-1 6 0-3-1-5 0-2-1 2 0-3 0 1 0 9 0-1 0-6-1 3 0 4 0-2 0-10 0 6 0-2 0 0-1-4 0 3 0 2 0 9-1-2 0-8 0 1 0 1-1-3 0 6 0-9 0 5 0 3 0 8 0-3 0-11 0 10-1-4 0 5 0-4 0-7 0 10 0-9 0 10 0-8 0 9-1-7 0-6 0 3 0 8-1 0 0-3 0-2 0 6 0-5 0 7 0-3 0-8 0 1 0 11-1-1 0-11 0 10 0-9 0-2-1 10 0-1 0-11 0 0 0 7 0-2-1-2 0 10 0-10-1 2 0 3 0 7 0-12 0 9 0 1-1-3 0-8 0 2 0 0 0-2 0 1 0 0-1 2 0 5 0-9 0 11 0-13 0 7 0-1-1-6 0 15 0-1 0-2 0 2 0 1 0-9 0 2 0 4-1-6 0-4 0 12-1 1 0-9 0 8 0-3 0-4 0 9-1-9 0 5 0-9 0 0 0 4 0-2 0 6-1-4 0 5 0-3 0 1 0-6 0 8-1 1 0 0 0 3 0 0 0-11 0 7-1 0 0-7 0-1-1 5 0 6 0-10 0-3 0 0 0 4 0 7 0 2 0-3-1-10 0 9 0 0 0 5 0-5 0-8-1 3 0 7 0-4-1 2 0-8-1 12 0-12 0 2 0 6 0-2-1-2 0-7 0 3 0 12 0-6 0 0 0-3 0 6 0 2-1-11 0 1 0 7 0-11 0 13 0-7 0 7 0-12-1 13 0 0 0-1 0-1 0-1 0-6 0-3-1 7 0-6 0 4 0 4 0 3 0-12 0 0 0 1 0 1 0 2-1 5 0-4 0 3 0-1 0-2-1 4 0-8 0 1 0 10-1-2 0 0-1 2 0 0 0 1-1-3 0 3-1-2 0 1-1 0 0-2 0 1-1-1-1 1 0 2 0-2 0 3-1-4 0 1 0 1-1-9 0 3 0 1 0-2 0-2 0 6-1 0 0-9 0 8 0-4 0 3 0-7 0-1 0 15-1-4 0-10 0 13 0-10 0 8-1-10 0 6 0-8 0 4 0 11 0-12 0-2 0 10-1-5 0-7 0 14 0-1 0-4-1 0 0-6-1-2 0 1-1-2 0 8 0-2 0 7 0-9 0 4 0 7 0-5-1-9 0 2 0 12-1 0 0 0 0-10 0 5 0 6 0-14-1 4 0 1 0-4 0 6 0-7-1 1 0 2-1 1 0 2 0-1 0 5 0 1-1 2 0-14 0-1 0 2 0 8-1-8-2 12 0-12 0 9 0-4 0-5-1 8 0-3-1 1-1-4-1 0-1 4-1-2-2 1-2-7 0 8 0 0-1-7 0 8-1-5-1 1-1 6 0-3 0 3-1-11-1 5 0-2 0 1 0-3-1 9 0-4 0-3-2 10-1-5-1-4-1 1-6-3-3-1 0 14-1-15 0 2 0 2 0-4 0 14-1 2 0-2 0-10 0 5-1 6-2-7 0 4-1-1-1-11-1 6 0-6 0 4-1-4-13 12-2 4-2-3 14 7 1 1 9-3 1 9 0-8 0-2 4 2 7-1 5 8 0-4 6 5 1 3 6-12 2 0 0 0 2 11 2-11 2 4 3-3 0 0 0-1 1 0 1 0 1 2 1-1 0-3 0 5 1-4 1 3 1 0 1 1 0-1 0-1 0 13 1-9 0-5 0 3 0 0 1 1 1-5 0 3 0 4 0 3 0-9 1 6 0-4 0-3 0 3 0-1 1 4 2-3 0-3 0 2 1 8 0-10 1 0 0 3 0 1 1 0 0-2 0 0 1 1 0 0 0 5 0-2 0 1 1 0 0-7 0 5 1-3 0-1 2-2 0 2 1 1 1-2 1 1 0 2 1-3 1 0 0 9 0-7 0 4 1-5 0 8 0-2 2-3 0 0 0 0 0-2 0 1 1 5 0-7 0 0 0 5 1-4 0 2 1 6 0-5 1-3 0 4 1-6 0 1 2 0 1 1 1 0 0-2 0 14 2-8 1-7 0 9 0-2 0 1 2-7 0 6 1 3 0-6 0 3 1-5 0 7 0-8 0 7 0-2 1 0 0-4 3 2 0 1 1-3 1 4 2-4 2 2 1-1 1-3 1 2 1-1 10 7 1-6-29 18-11-2-10 1-7 2-10-2-2-2-13 1" fill="none" stroke="none" marker-start="url(#m)" marker-mid="url(#m)" marker-end="url(#m)"/></g></g><line x1="45.52" y1="235.09" x2="325.98" y2="26.81" stroke="#0e820e" stroke-width="1.3"/><rect x="31.5" y="16.4" width="308.5" height="229.1" fill="none" stroke="#000" stroke-width="0.75"/><path d="M41.73 245.5v3M31.5 237.9h-3M104.9 245.5v3M31.5 190.99h-3M168.06 245.5v3M31.5 144.08h-3M231.23 245.5v3M31.5 97.18h-3M294.39 245.5v3M31.5 50.27h-3" stroke="#000" stroke-width="0.75" fill="none"/><g font-family="DejaVu Sans" font-size="8.7" fill="#222"><text x="41.73" y="258.1" text-anchor="middle">50</text><text x="25.6" y="241.1" text-anchor="end">50</text><text x="104.9" y="258.1" text-anchor="middle">100</text><text x="25.6" y="194.19" text-anchor="end">100</text><text x="168.06" y="258.1" text-anchor="middle">150</text><text x="25.6" y="147.28" text-anchor="end">150</text><text x="231.23" y="258.1" text-anchor="middle">200</text><text x="25.6" y="100.38" text-anchor="end">200</text><text x="294.39" y="258.1" text-anchor="middle">250</text><text x="25.6" y="53.47" text-anchor="end">250</text><text x="185.75" y="270.5" text-anchor="middle">actual glucose (mg/dL)</text><text transform="translate(6.6 130.95) rotate(-90)" text-anchor="middle">predicted glucose (mg/dL)</text></g><text x="185.75" y="11" text-anchor="middle" font-family="DejaVu Sans" font-size="10.38" fill="#222">Glucose Estimation of current 0 mins</text>
<g transform="translate(374.7 12.8)"><path d="M144 143 141 143 141 146 140 147 138 147 137 146 137 141 139 140 139 139 138 139 137 141 134 139 132 139 131 138 131 135 133 134 133 133 129 133 129 135 128 136 123 136 121 137 120 136 121 132 115 132 114 134 112 134 111 133 106 134 104 133 103 135 100 133 100 135 98 138 91 138 89 137 88 139 83 139 80 143 78 144 78 146 76 148 74 148 74 151 73 152 72 152 71 151 71 149 70 149 70 154 68 156 66 156 65 157 65 158 67 158 68 160 63 162 62 164 58 167 57 172 59 177 58 178 56 178 56 179 58 180 57 184 62 187 61 189 61 193 63 194 65 191 71 191 72 190 72 188 75 185 76 185 78 187 78 189 79 189 78 187 78 184 79 183 81 184 81 187 83 187 84 186 89 186 89 182 90 181 94 183 95 182 98 182 99 180 108 178 109 176 111 176 111 174 112 173 114 173 115 175 116 175 116 173 118 171 120 171 122 167 124 167 127 172 128 172 129 171 128 169 128 165 127 165 126 163 129 161 129 159 130 158 132 158 133 159 133 161 140 162 140 158 138 158 137 157 137 154 139 152 144 152 144 151 141 151 139 149 140 147 145 148ZM62 188 64 187 65 189 63 190ZM70 180 72 179 73 181 71 182ZM58 172 60 171 61 173 59 174ZM110 169 112 168 113 170 111 171ZM133 155 135 154 136 156 134 157ZM119 142 121 141 122 143 120 144ZM125 139 127 138 128 140 126 141ZM112 136 114 135 115 137 113 138Z" fill="#1f77b4"/><g transform="scale(.5)"><path d="M501 126l-192-3-21 0-46 0-28 21 186-2 111 17-22-11-94 11-137-5 0-8-29 12-7-5-80 5 59 13 6 3 3-6 3 3 10-6 1 7 35-8 4-2 28 2 8 5 32 1 18-3 55 4 13-8 140 3 34 10 2 10-56-7-222 12-22-2-11 1-14-2-2 3-25-10-20-1-5 6-12-6 0 10-14-10-2-2 0 7-4-6-6 1-2 12-3-7-23-2-8 25 19-10 23 2 3-2 7-2 1 1 7-2 0 12 15-15 1 3 5 10 4 1 0 0 1-12 4 13 0 1 3-13 6 9 7 4 5-8 1 6 1-6 1-1 2 6 21-7 0-3 10 0 5 8 0-3 11 7 16-7 0-7 11 13 11-9 7-3 12-2 44 9 36-8 38 12 106 15-72-5-17-6-24 9-1-10-10 12-24 3-9-2-32 2-23-9-8 7-2-4-3 4 0 2-1-4-9-4-2 5-2-6-4 5-1 1-3 0-2-11-2 4-2 2-1 5-2-2-6-2-4 1 0 3-21 2-4-11-1 6-2 4-2 1-2 1-9-6-6 0-1 5-2-8-2 1-3 6 0-12-6 11 0-2-1-7-3 11-1-12-3 7-5 7-5-2-2 2 0-12-1 0-2-2-1 3-6-1-1 8 0-8-3 9-6-3 0-5-1 0 0 8-1-9-5 7-4 2-3 2 0-10-3 1-3 4-8-1-2-6 0 3 0 6-3 3-4-8-1 3-6-8-1 0-7 3 0 5-1-9-2 1-4 14-4-3-1-6-4 0-22 9-44-15 33 29 2-9 4 1 15 10 6-1 2-7 3-1 5 3 8 6 0-15 1 13 8 1 0-3 6 1 0-6 1 6 0-13 1 9 0 6 1-3 0 4 0-10 4 8 2 0 1-2 1-1 0 2 1 1 0-7 0-4 1 6 1-2 0-3 1 2 1 2 1 6 1-6 3-7 3 9 0-9 2 10 1-3 0-3 0-1 2 6 2 3 1-9 1 4 0-1 2-3 1 1 0 2 0 7 1-1 0-6 2 1 0 2 0 3 1 0 2-13 1 4 0 12 0-4 0-6 1 7 0 1 4-14 1 7 5 3 1-7 0 2 1 4 0 1 4 0 0-7 1 7 4-1 3-4 2 5 2-6 2 12 0-2 1-6 0 7 3 0 0 1 1-3 1-6 2 7 0-13 1 10 1-6 2-4 0 11 0-10 1 7 0-4 1-3 0 3 1 8 1-8 0-2 3 4 2 5 0-2 0 6 3-15 2 9 0-6 1 11 3-14 2 12 2-7 0-5 1 11 0 1 1-5 0-6 2 8 1 6 2-10 0-6 2 4 1 5 1 0 0 1 0 4 2-1 0-10 1 12 2-8 1 6 0-2 1-11 2 3 0 3 1 4 1-6 3 6 1 3 5 1 0-3 1-1 10 2 1-3 3 6 1-7 0 0 1 7 2-1 5-1 0-13 5 11 13 0 3 2 1-12 4 4 6 5 2-5 2 8 2 2 1-1 21 2 1-6 29-1 2 0 3-9 7 2 9 0 10 6 10-2 14 1 24 1 25-3 38 10 3 8-13-4-29 0-31 6-12 1-15 4-3-9-22 9-1-11-3 6-9 2-7-7-1 5-12-3-4-5-4 7-9 5-6-5-2-6-2 9-1-4-1-6-8 10-6 4-6 1 0-10-1 8 0 0-7-14 0 14-1-3-1-6 0 0-2-4-3 13-3-5 0 5-3 2-1-4-2-8 0 8-1 3-1-8-2 5-2 4-2-8-2-7-1 6-1 7-1-7-1 8 0-7-1 1 0 6-1-7-1 3-1 4-1-10 0 2-1 9-3-14 0 3-1 1 0-1 0 8-1 3 0-9 0-6-2 12-4-1-1-12-1 1 0 7 0 6-1-7-1 5-1 1-1-11 0 6-1-4-1-3 0 11 0 2 0-8 0 7 0 2-1-11 0 6-1 3 0-5-1-3 0-4-1 5-1-2 0 1-1 8-2-3-1-3 0-3 0 11 0-13-1-1 0 12-1-3 0-4-1 9-1-11 0 1 0 10 0-6 0 4-1 1-1-8 0 3-1-3 0 9-1-6 0-7 0 12-1-4 0-6-1 1 0 8-1-2 0-11 0 10 0-3-1 8 0-14 0 1-1 11 0-11-1 4-1 9-1-3 0-2-1-6 0 9-1 2 0-12 0 4 0 2 0 7-1-12-1 11-1-1 0-10-1 8 0-6 0 3 0 3-1-7-1 9-1-5 0-2 0-6 0 14 0-8 0 3-4-6 0 10-1-9 0 0-1 3-1 3-1-8-2 5 0 5-1 0-1-3-1 5 0-2 0-1 0 0-1 0 0 1 0-2 0-2 0-7 0 9-1 4 0-5 0 1-1-2 0 3-1-11 0 3 0 9-1-9-1 7-1-9 0 12 0-13-2 10-1-3 0 3-1-9-1 3-1 4 0-5 0 4 0-4-1-2 0 3-1 4-1-5 0 12 0-9-1 8-1 0 0-5 0-4-1 6 0-3-1-5 0 10 0-10 0-3-3 10 0-2 0-7-1 6 0-2 0 9 0-11 0 4-1-6 0 9-2-7 0 3-1 9 0-3-1-1 0 2 0-9-2 8 0 3-1-8 0 5 0-2 0-3-1 6 0-13 0 6 0 9-1-10 0 8-1-6 0 5 0-8 0 0-1 1 0 10 0-9 0-3 0 11-1-10 0-3 0 9 0 3-1-3-1-8 0 10 0 0 0-6-1 6 0 0 0-4-1 7 0-3 0-6 0 5-1-5 0 6 0-2 0 4-1-11-2 11 0-9 0 5 0-1 0-7-1 12 0-2 0-5-1 2 0 2 0-4 0 7-1-7 0 4 0-10-3 12 0-1 0-2 0-10-1 14-1-2 0 3 0-4-1-1 0 5 0-2 0-6 0 2-1-6 0-1 0-2 0 4 0 2-1-4 0 6-1 1-1-9 0 11-1-3 0-1 0 1-1 1 0 3-1-6 0 4 0 5-1-5-1-5 0-1 0-3-1 6 0 2 0 5 0-3-1-6 0 10 0-12 0 6 0 3 0-6 0-5-1 12-1-3 0-9 0 4 0 5-1 2 0 1-1-1 0-10 0 3-1 2-1 2-1-7 0 2 0 5-1 5-1 0-2-1-1-4 0-1 0-3-1 9 0 1 0-1 0-6-1 4 0-12 0 13-1-10 0 5-1-4-3-3-1 10 0-4 0-3-1 8-1-6 0-6-1 10 0-6 0 5 0-5 0 8-2-9 0 8-1-10 0 5-3 4 0 4-1 1-1-9 0 8 0-2-1-4 0 7 0-7-1-5-1 0-1 8-1-10 0 0 0 12-1 1 0-8-1 7-1 0-2-12-4 13-2-9 0-2-1-2-1 14-2-14-1 2-2-3 0 14-1-6-5-6-7 10-4-6 0 5-3 0-42 13 38-7 13 12 0-7 2 5 0-9 0 4 9 4 0-1 2-5 1-2 0 13 1-6 1-3 0 4 2-6 2 8 1-3 1 3 1 1 0-5 0 4 3 1 0-7 2 7 1 0 0-12 1 6 0-7 1 15 0-1 1-3 0 4 1-1 1-10 0 3 1 8 0-2 0-10 1 7 0-3 1 1 0-1 0 5 1-4 0 3 2-3 0-1 0 6 0-3 1-6 0 5 0 4 0-13 1 8 0 3 1 2 0 0 1-5 0 5 0-2 0-1 1-7 0-4 0 16 1-8 0 8 1-7 0-4 0 6 0-4 1-2 0 9 0-4 1 5 0-5 1 6 0-5 0-8 0 9 0-6 1 7 0-4 0 1 1 3 0-7 0 10 0-2 0-7 0 0 1-2 0 4 0 3 1-3 0 6 0-11 0 0 1 0 0 0 0 9 1 1 1-5 0 3 0-11 1 2 0 9 0-10 1 5 0 4 1-8 0 9 0-3 0-4 1-1 0 12 0-1 0-2 0-12 0-1 0 13 0-3 1 4 0-13 0 11 0 1 0-5 0 8 1-5 0-3 0 7 0 1 1-2 0-12 1 11 0-8 0 2 1-4 0 9 1-5 0-2 0 2 0-6 0 1 0-2 0 7 1-3 0 3 0-6 1 8 0-1 0 5 0-6 0 6 0-7 0 9 0-2 0-11 1 12 0-7 0-7 0 16 0-6 0 0 0-2 0 1 0-5 0 0 1 7 0 4 0-2 0-12 0 12 1-12 0 1 0 7 0 2 0-2 1 2 0-3 0-3 0 1 0-4 0 1 1-2 0 7 0 3 0-5 1 6 0 0 0 3 1-12 0 4 1 2 0 0 1-8 0 6 0-6 0 10 0-6 0-2 0 4 0 1 0 2 0-5 0 4 1-1 0-6 0 1 1-1 0 2 0 5 0-8 1 5 0 1 0 1 0 2 1-8 1 8 0-7 0 6 1 1 0 3 0-1 0-1 0-2 0 3 1-3 0 2 0-8 0-2 0 11 0-8 0-3 0 4 1 8 0-6 0 5 0-9 1 9 0-9 0 8 0-6 1 6 0-7 0-1 1 7 0-3 0-6 1 9 0-9 0 1 0 1 1 4 0 3 0-1 1 1 0-2 0-8 0 10 0-3 0 3 0 6 1-10 0 9 0-1 1-13 0 13 0-6 0-3 1 11 0-3 1-1 0-1 0 1 0 0 1 2 0-8 0 4 0 4 0-5 0-1 1-1 0-1 0 7 1-8 0 5 0-2 0-6 1 14 0-12 0-1 0 13 0-2 0-11 1 1 0 2 0-5 0 12 0-11 0 7 0 4 1-4 0 0 0 0 0 6 1-8 0-5 0 7 0-7 1 2 0-3 0 7 0-3 1 1 0-1 0 3 1 0 0-7 0 3 1 2 0 3 1-2 0 6 0 2 0-4 1 4 0-14 0 11 0-10 0 0 0 13 0-13 0 5 0-7 1 14 0 1 0-11 0-2 0 5 0 6 0-3 1-2 0 2 0-2 0-4 0 2 1 7 0-6 0 0 0 7 1-8 0 4 1-1 0 3 0-4 0 0 0 1 0-9 0 12 1 3 0-2 0-2 0-7 0 10 1-7 0 6 0-11 0 9 1 1 0-4 0-6 0 5 1 2 0 1 1 1 0 2 0-7 0 8 0-8 1 0 0-3 0 13 0-6 0-2 0 7 0-5 0 2 0-8 0 11 1-13 0 13 0-1 1-2 0 2 0-8 0-1 1 3 1-5 0 12 0 1 0-7 0-1 0-4 1 11 0-3 0 1 0-5 0 2 0-4 1-5 0 1 1 7 0 2 0-9 0 4 0 3 1 0 0 6 0-7 0-2 1-4 0 5 0 8 0-2 0-2 1 3 0-6 0 5 0 2 0-3 0-7 1 2 0 7 0-4 0 1 0-6 0 3 0-3 0 6 0 2 1-7 0 10 0-3 0-2 1-3 0 3 0-5 0 2 1 4 0 0 0-9 0 10 0-3 1 0 0 6 0-13 0 5 1 1 0 3 0-6 0 4 0-1 1 7 0-2 0-14 0 12 0-2 0 1 1 3 0 1 0-4 0-5 0 6 1-1 0-5 0-2 0 6 0 0 0-7 0 9 0-7 1-4 0 0 0 9 0 1 1-9 0 13 1-6 0-2 1 3 0 5 0-14 0 10 1 5 0-9 0 4 0-6 1-1 0 2 0 4 0 6 0-9 1-1 0 6 0-11 1 2 0 9 0-6 0 1 0 8 0 0 1-10 0 4 0-9 0 8 0-6 0 9 0 4 0-14 1 4 0-1 0 7 1-5 0-2 1-2 0 6 0-7 1 2 0 1 0 2 1-3 0 4 0 8 1 0 0-7 0 1 1 1 0-8 0 4 0 8 0-7 0-6 0 7 1 1 1 5 1-6 1 3 0 3 1-6 0-1 0 9 1 0 0-4 0-5 0 7 1-1 0 0 0-6 2-5 0 9 0 4 0 0 0-5 1 0 0-3 0-1 0 2 0-3 0 7 1-2 0-6 0 3 1 4 2-7 0 4 0-7 0 7 1-6 0 10 1-8 0 0 0-3 1 5 0 1 0 3 1-4 0 3 2-1 1 7 0 0 0 0 0-13 1 5 0-6 1 3 0 0 0 10 0-9 0-2 0 1 1-1 1 7 0-6 0 7 1-3 0 5 0 1 1-4 0 0 0-1 0 7 0-3 0-10 0 5 1 4 0 0 0 3 2-9 0 10 0-5 0 3 0-7 1 8 0-14 1-1 0 13 1 1 2-12 0 11 1 3 1-3 0-2 1-1 0 0 0 0 1-9 0 3 1 5 0-6 1 12 1-12 0 1 1 8 0-5 0 4 2-3 0 5 1 0 0 2 1-1 1 2 0-1 0-8 0 5 1-1 1 4 1-9 1 2 0 0 1 2 0-1 1 5 0-11 3 7 1 3 0-2 1 1 0-2 1-6 3-2 0 7 0 3 3-5 3 1 1-8 1 9 1 0 1-6 0 3 0-2 3-1 2 1 1 8 3 2 6-5 6 2 1-8 0-2 0 3 2-2 1 11 1-10 1-2 1 6 1 1 3-8 0 5 0 6 2-1 0 5 9-14 1 10 7 4 10-2 1-6 5 7 15-11 4 0 9 2 35 1 45 5 28 17-24-6-33 3-27 7-59-14-1 2-1 2-15 8-5-12-3 4-1-3-2 8-11-4 0-1-3-4 0 7 0-2-2 5-1-1-1-11-1 1-1 5 0 4-1-2-1-8-1 1-4 2-1 1 0 6 0-3-3 3-3 3-4-12-2 10-1 2 0-6-2 7-1-12-2 5-1 3 0-5 0 2 0-2-1 7-2-7 0 7-2-8 0 11-1 0 0-10 0 5-1 1-1 5 0-8-1 4 0 0 0-5-1 1-2 3-1 4 0-7-2 0-1-2 0-4 0 9 0 3-1-12 0 7 0-6-1 6-1 2 0 1 0 0-2 4 0-1-1-5 0-9-1 9 0-9 0 3-1 10 0-9 0 8 0 1-1 1 0-4 0-7 0 3 0-2 0 5-1-5 0 9 0-8 0 8-1-1 0-8 0 4 0-7 0 8-1-4 0 10-1-9-1 4 0 3 0-6 0 1-1-9 0 11-1 4 0-10 0 0-1 6 0-10 0 13-1-4 0-9 0 6 0 7-1-8 0-3 0 7 0 5 0-5-1-3 0 5 0-7 0 0 0 6 0-5 0-2-1 1 0 10 0-14 0 9-1 2 0 1-1-12 0 7 0 1 0 7 0-9 0-6 0 14 0-12 0 8-1-8 0 6-1 6 0 0 0-12 0 12 0-6 0 5 0-10-1-3 0 9 0-7 0-1 0 1-1 7 0 0 0-2 0-4 0 3 0 9 0-1 0-7-1 4 0 0-1-4 0 6-1 2 0-13 0 1-1 1 0 4 0 6 0-11 0 7 0-3-1 4 0-9 0 0 0 2 0 0 0 5 0 4 0-10 0 1-1 10 0-11 0 8 0-6 0-1 0 10-1 1 0-5 0-2 0 4-1-6 0-1 0-5 0 1 0 3 0 10-1-6 0 3 0 3 0-4-1-6 0 7 0-5 0-4 0 9 0-11-1 14 0-12 0-1 0-1 0 10 0-4 0 6 0-6-1-3 0-2 0 12-1-13 0 14 0-7 0-6 0 8-1-7 0 1 0 8 0 2 0-13 0 11 0 3 0-3-1-9 0 3 0 8 0-10 0 1 0-4-1 0 0 1 0 6 0-7-1 7 0 0 0 4 0 1 0 3-1-2 0-12 0 4 0 7 0 2 0 0-1-10 0 10-1-10 0 9 0-2 0-5 0 6 0-3 0 0-1 6 0-11 0 2 0-2 0-4-1 5 0 1 0 7 0-9 0-1 0 0 0 4-1-6 0 7 0 0 0 0 0 1 0 1 0-3 0 1 0-3 0-3-1 5 0 5 0-9 0 3 0-1-1 10 0-15 0 13 0-2 0 3 0 0-1-12 0-3 0 4 0 5 0 4 0-10-1 11 0-8 0 7 0 0 0-5-1 8 0-14 0 7 0 2-1-6 0 4 0-8 0 4-1-3 0 5-1 1 0-2 0-5 0 5-1 2 0-1 0-2 0 2-1-1 0 1 0-1-2-2 0-3 0 4 0-2 0 3-1-3 0 4 0-4 0 0-2-2 0 1 0-2 0 0-1 1-1 2-2 5 0 1-1-2-1 0 0-3 0 0-2 1 0-1 0 3 0 1 0-5 0-2 0 10 0-6-2-3 0 8 0-5 0 5 0-5-1-2-1-2 0 6 0-3 0 3-1-1 0-1 0 1 0 3 0-9 0 8-1-1 0-2 0 3-1-7-1 12 0-4-1 2 0 2 0-2 0-11 0 0-1 10 0 1 0 1-1-3 0 1 0 5-1-12 0 7 0-1 0 0-1 0 0 1 0 2 0-1-1-1 0-1 0-1-1 2 0-9 0 0 0 10-1 1 0 1 0 1 0 0 0 1-1-5 0 3-1-1 0 3-5-14-2 1-1-1 0 1 0 3 0 0 0-3-1 2 0 0-1-1 0 0-2-3 0 2 0-1 0 1-1-1 0 1-1-1-22 2-1-2 0 1 0 0-3-1 0-1 0 4-1-3-1 4 0-4 0 3 0-2 0 3-3-1 0-4 0 1-1 2-1-2 0 2 0-2-1 1 0 2 0-1 0 1-1-2-1-1 0 3 0 0-1-2-1-1 0 0 0-1-1 2-1 2 0-2-1 0-1 2 0-3 0 2-1-1-1 0 0 2-1-3 0 0 0 4-2-1 0 3 0-4-1 4 0-3-1 1 0-2-1 3-1-4 0 5 0-3 0 3-1-1 0-1 0 1-1 1 0-1-1 0-1-5 0 3 0 2-1-3 0 2 0 3-1-6 0 4 0 1 0 2 0-1-1 1 0-3 0-3-1 6 0 0 0-4 0 6-1-4 0-6 0 6-1 7 0-11 0 5 0-1-1 7 0-1 0-11 0 10 0-3 0 0-1-5 0 5 0 5-1-3 0-3 0 6 0-2 0-11 0 15-1 0 0-11 0-2-1 1 0 1 0 6 0-6-1 10 0 0 0 0 0 0-1-14 0 4 0-1 0 11 0-10 0 10-1-2 0 3 0-8 0 5-1-13-1 10 0 1-1-2 0-1-1 2 0 3-1-8-1-1-1-1 0-1 0-1 0 10 0-3-1 8 0-10-2 3-1-3 0 7 0-3-1 4 0-1 0-13-1 8 0-1 0-1-3 0-1-5-4 3-1 11 0-1-3-14-1 14-1-7 0 9-1-13-6 10-6-2-42-3 21 20 5-1 17 4 1-1 2 1 2 1 4-11 0-1 1 4 1 7 1-3 0-11 0 5 1 6 0 3 0 1 2-8 0 7 1-3 1 3 0-5 0-8 1 5 0-3 0 11 1-4 0-6 0-3 1 10 0-7 0 0 0 9 1-5 0-8 1 15 0-5 1-9 0 1 0 3 0 7 1-8 0-2 0 13 0-13 0 5 1-3 0 2 0 7 0-5 0 3 0-4 1 6 0 0 0-4 0-10 0 7 0 8 0-2 0-7 1 5 0 5 0-5 1-3 0 4 0-10 0 13 0-5 0-6 0 3 1 3 0-1 1-6 0 8 0-6 0 3 0 3 0-5 1 10 0-1 0-3 0-1 1 2 0-4 0 2 0-9 1 0 0 0 0 4 0 0 0-3 0 3 0 1 1 4 0 0 0-4 0 3 1 0 0-2 0-7 0 8 0 4 0-7 1 7 0-2 0-6 1 1 0 3 0-1 0-3 0 3 0-1 2-7 1 4 0 3 0-3 0 2 1 0 0 0 0-5 0 3 1 2 0-3 1 1 0-2 1 1 0 0 83-3 1 1 0 0 30-1 1 5 0-1 0 0 0-2 1-1 0 15 0-13 1 13 0-15 0 0 1 0 0 0 1 4 0 3 0-6 0 5 0 9 1-6 0-2 0-1 0-1 0-2 0 9 0-1 0 3 0-9 1-5 0 12 0 1 0 0 0 1 0 0 0-3 1 3 0-2 0-4 0 1 0 1 0-7 0 11 0-11 0 12 0-8 0-6 1 2 0 10 0 1 0-10 0-1 0 11 0-1 0-4 1 4 0 1 0-4 0 0 0-7 0 1 0 9 0-1 1 0 0-4 0-8 0 5 1-5 0 1 0 12 0-9 0-5 0 5 0 4 0-5 1 5 0-4 1 2 0 8 0-9 0-3 0-1 0 14 0-16 0 12 0 0 0 0 0 1 1-10 0-2 0 8 0-7 0 4 0 0 0 0 0 9 0-4 1 3 0 1 0-14 0 12 0-13 1 12 0-10 0 12 0-5 0-1 0-4 0 5 0-8 0 7 0 2 0 5 1 0 0-2 0-6 0 0 1 6 0 2 0-13 0 6 0-6 0 10 0-6 1-1 0-1 0 1 0 3 1-5 1 3 0-2 0 8 0-1 0-4 0 3 0 4 0-9 1-2 0 10 0-4 0-3 0 6 0 1 1 2 0-11 0 11 0-9 0 9 1-10 0 3 0 5 0-1 0-10 1 3 0-4 0 12 0-6 1-1 0 8 0-5 0 7 0-6 1 5 0-8 0 9 0-5 0-2 1-3 0 9 1-5 0 4 0-12 0 1 0-1 1 11 1-5 0 1 0 3 1-6 0-4 0 7 0-4 0 8 0 3 1-13 1 1 0 3 0-4 0-1 0 12 1 2 0-15 1 13 0-4 0 0 0-5 1 4 0 4 0-12 0 13 0-8 1 1 1 4 0 0 0 1 0-11 1 6 0-4 1 1 0 6 0-8 0 0 2 13 0-12 0 8 0 2 1 1 0-5 0-6 0 10 1-1 0 1 0-12 0 13 1-2 0-7 0 2 1-6 0 14 0-14 0 9 0 0 1 2 0 3 0-4 0-5 1-5 0 9 1-3 1 1 0 5 1-5 1 2 0-6 0 8 1-6 0 4 1-6 1 5 1-7 0 4 1 4 0 3 1-3 0-4 0 9 1-8 1-3 0 1 1 4 1-7 0-1 1 0 0 12 2 2 0-14 1 13 2-13 0 7 2 6 2-12 0 6 2 0 1 1 0 1 3 5 2 1 1-3 0-2 0-7 2-4 1 11 1-3 0 6 1-14 1 10 1 2 4-8 2 9 2-12 0 5 2 0 11-5 0 7 17 6 2-8 0-1 3 1 5 0 12-3 2 4 6 4 9-6 7-4 54 6 18 5 15-2 2 16-70 0-14-4-48-4-1 8-9 3 0-11-1 10-2 3-1-9-1 1-2 3 0 5-1-3-4-6 0-3-3 9-1-3 0-1-1 0-2-1 0-6-1 1-2 7-1 6-2-13-1 11-1-12 0 8-4 2 0-7-5 10-1-11-1-3 0 5-1 6 0-6-1 4-2-8-2 12 0-8 0 8-1-7 0 8-1-8 0 0-2-5 0 7-2-6-1 2 0 0-1-2 0 0 0 1-1 9 0-1-2-1-1 2 0-6-1 3 0-2-1 0 0-4-1 11 0-9 0 9 0-6-1-2-1 3 0-4 0 3 0-4 0 11-1-2 0-3-2-10 0 14-1-1-1 2-1-8 0-1 0 9-1-4-1 3 0-9-1 9-1-4 0-9 0 15-1-6 0-6 0-2 0-1-1 4 0 2 0 2-1 0 0 5-1-6-1-7-1 0-1 6 0 2-1-8 0 2 0 9 0-2 0-5 0 0-1-1 0-1 0 7 0 2 0 1-1-1 0 2 0-14-1 3 0 2 0 9-1-12 0 0-1 6 0-5 0 8-1 1-1-12 0 0 0 14-1-4 0 1 0-6 0 4 0-5 0 8-1-3 0 0 0 4 0 0-1-10 0 0 0-2 0 9-1-4 0 6 0 2-1-3 0-2 0 0-1 2 0-11 0 1 0 8 0 3-1-3-1-5 0-2 0-2-1 2 0 6 0-1 0 1-1-5 0 7 0-8 0 12 0-2-1 4 0-12 0 4 0-1-1-3 0 1 0 8 0-10-1 11-1-7 0 6 0-3 0-8-1 3 0 0 0 2-1-4 0 3 0 6 0-9-1 5 0-8 0 10 0-9-1 5 0 1-1 4 0 2 0-7 0-5-1 10 0 3 0-7 0-3 0 2 0-2 0-1-1 3 0 5 0 0-1-9 0-2 0 16 0-12 0 8 0 1 0-12 0 8 0-1-1-4 0 2 0-3 0 1 0 12-1-5 0-5 0-1 0 4 0 2-1 3 0-6 0 0 0-7-1 9 0-6 0 12 0-14 0 7 0 3 0 0-1-2 0 2 0-11 0 15-1-3 0 0 0-8 0 1 0 9 0-6 0-5 0 7 0 2-1 3 0-2 0-10-1 5 0-8 0 4 0-3 0 10-1 1 0-8 0 6 0-7 0 2 0 3 0-6-1-2 0 6 0 1 0-3-1-2 0 2 0 2 0 2-1 1 0 0 0-3 0-4 0 6-1-7 0 0 0 1-1 5 0 0 0-1-1 1 0 8 0-15 0 1-1 0 0 0 0 3-1 4 0-1 0 7 0 0 0-7 0 6-1-1 0-8 0 7-1 0 0-7 0 2-1 7 0-8 0-1 0 4 0-6 0 5-1-3 0 7 0-6 0 5-1-1 0 0 0 1-1 0 0 5 0-2-1-3 0-1 0 6-1-4 0-1-1 1 0 2 0 0-1-2 0 0 0 3-1-3 0 3-116-11 0-2 0-1 0 2 0 1-1 0 0 2-1 1 0-2 0-2-1 2 0-1 0 9 0-11 0 14 0-1-1-14 0 14 0 1 0-1-1-8 0 6 0-5 0 4 0-5-1-6 0 5 0 2 0 3-1-2 0-2 0 9 0-6 0-3 0-7 0 10-1 2 0-5 0-4 0 12 0-11 0-3-1 11 0-10 0-2 0 8 0 0 0-4 0 11 0-12 0 0-1 10 0-4 0 2 0-5 0 7 0-1 0 2-1-2 0 1 0-11 0 1 0 8 0-1-1-4 0-1 0 8 0-5 0-7 0 3 0 7 0-9 0 10-1 2 0-3 0 0 0-3 0 7-1-6 0-3 0-2 0 0 0 0-1 10 0-7 0-4 0 5-1 3 0 1 0-5 0 5-1 2 0 2-1-14 0-1 0 10 0 2 0-5 0-1-1 5 0-3 0-4 0 5-1-5-1 9 0-1 0 1-1 0 0-9 0 4-1-5 0-4 0 2-1 1 0 5-1 5 0-10-2 8-1-1-8-4-4 7-2-1-4-5-6 3-18-2 0 6 0-1-1 2 0-4-15 13 7 4 4-1 2-1 2-3 1 3 1 0 15-6 0 7 0 4 3 0 2-12 0 8 2-6 1 7 1-10 0 10 1 3 1 0 0-9 1 8 1-7 2 5 2-10 1 11 0 0 1-3 0-6 0 9 1-2 3 3 0-11 0 3 1-3 1 2 0 9 1 1 0-6 0 2 1 0 0 3 0-9 1-3 1 5 0 8 0-1 1 1 0-14 0 14 0-9 0 5 0 2 0-11 1 3 0 10 0-7 0 5 0-4 1-6 0 4 0 0 1 3 0 2 0 0 0 0 0-6 0 6 1-11 0 11 0-3 1 1 0-4 0 5 1-4 0 2 1-4 0 0 0 4 0-5 1-1 0 1 0 4 0-1 0-3 0 2 0-1 1 2 0 1 0 0 1-6 0-1 1 2 0 0 0-2 2 1 0 1 1-1 2-1 0 1 5-2 82 16 0-1 0 1 2-2 0 0 1 1 3 0 14-1 1 0 0 1 0-2 1 0 0 1 0 0 0 1 0-1 1 0 1-2 0 3 0-3 0 0 1 1 1 0 1-1 0 0 1 3 0-2 1 1 0 0 0 1 1-7 0 0 0 6 1-11 0 6 0 5 0-7 1 8 0-10 0 0 1-1 0 4 0-3 0 1 0-3 1 6 0-3 0-2 0 12 0-13 0 7 0 1 0-9 1 3 1 9 0-11 0-1 0 14 0-10 0-4 0 2 1 8 0-8 0 8 0 4 0-16 0 1 0 15 0-6 0-1 0 0 1-7 0 9 0-3 0 8 0-14 0 10 0-1 1-2 0-5 0-1 0 7 0-7 0-2 0 1 0 8 0 4 1-12 0 11 1-5 0 1 0 2 0-8 0-2 1 8 0-5 0 10 1-10 0-3 0 8 0 0 0 0 0-3 0 4 0-3 0-5 0 14 1-11 0 8 0-1 0-3 1 6 0-12 0-3 0 14 0-14 0 3 1 10 0-12 0 1 0 1 1 5 0-7 1 13 0-13 0 13 0-12 0 0 0 5 0 4 1-10 0 6 0-6 0 4 1 7 0-3 0-4 1 1 0 7 0-6 0 6 1-8 0 8 0-9 0 10 0-7 0 7 1-8 0-4 0 1 0 6 0 4 0-1 0-10 1 12 0-10 0 12 0-7 0 6 0-7 0-2 0-1 1-2 0 12 0-1 0-8 0 4 0-8 1 12 0-2 0-8 0 1 1-4 1 7 0 3 0-6 0-1 1 12 0-8 0 6 0-11 1 2 0 3 0-4 0 11 0-3 1-7 0-5 0 8 0-7 0 0 0 5 0-3 0-3 1 8 0 7 0-4 0-3 0-7 1 3 0 4 0 3 0-5 0-2 0 5 0 2 0 1 0-10 1 11 1-11 1 9 0-2 0-3 1 3 0-7 1 1 0-2 0 1 0 13 0-4 1-5 0-2 0 10 0-1 1-1 0-2 0-8 1 0 0 1 1 10 0-10 0 8 0-11 1 13 0-3 0-3 0 1 1-2 0-6 1 0 0 5 1 2 0 7 0-6 0 0 0 3 1-8 0 13 0-9 0 2 0 2 0 2 1-6 1 5 0 0 1-3 0-4 0 1 2 0 0 8 0-4 1 3 0-4 1-6 0 1 0 7 0-1 0-4 1 9 0-7 0 4 1-5 0 3 0 1 0 1 1-8 0 9 0 1 0-10 0 10 1-13 1 7 0-6 0 0 1 2 1-1 0 9 0 2 1-4 0 1 0-5 2 6 0-10 1 10 0 0 1 3 0-8 1-5 1 11 0-9 0 8 0-10 1 9 0-9 1 1 1 2 2 6 0-2 0-4 0 8 1-4 0 1 0-9 0 5 1 4 1-6 0 3 2-1 0-4 1 14 2-10 3-2 0 9 2-8 0 8 1 0 1-4 2-8 1 10 1 0 2 0 2 1 0 0 0 4 0-11 2 2 8-6 0 0 0 3 1-3 2 3 7 0 6 2 1 2 0 4 1-1 4-1 1-2 3 2 3-4 7 9 2-1 2-13 5 13 4-5 6-7 17 17-10 6-30-5-15 2-12-6-8 4-2 4 0-3-3-2-10 7 0 0-1-10-5 10-3 0-1-5-3-1-2-3-1 0-2 14-1-11 0-3 0 7-1-5-1 3 0 7-1-9 0-3 0 4 0 1-2 1-2-2-1 2-1-1 0 1-1-7 0 14 0-5 0-5-1 5 0-4-1 2 0 6-1-10-1 3-1-5 0 1 0 1 0 12-1-10-1 10-1-14 0 4 0-1-1 0-1 8 0-10-1-1-1 3 0 0-2 9 0-11 0 4 0 3-2-7 0-1-1 9 0 0-1 3 0-11 0 8 0-10-1 9-1 1 0-6-1-1 0 2 0 2 0-4-1 0 0 7 0-7 0 0 0 11 0-7-1 2 0-1 0 8 0-5 0 0 0-2 0 6 0-6-1-2-1 0 0-4 0 3 0 1-1 1-1 5 0-2 0 4-1-13 0 3-2-1-1 6 0-1 0-8-1 10 0 1-1-1 0-6-1-1 0 7 0-7 0 1 0 2-1 1 0-4-1-3 0-1-1 0 0 4 0 0-1 4 0-2 0-1 0 6-1-7 0-1-1 11 0-12 0 5-1 3 0-2 0-4-1 11 0-5 0 0 0-3 0 6-1-11-1 1 0 4 0-4 0 4-1-7 0 1 0 14 0-4 0-6-1 4 0-6 0-3 0 3-1 6 0-6-1 11 0 0 0-10 0 6-1-1 0 7 0-9 0 8 0-14 0 11 0-8 0 2 0 8 0-13-1 7 0-4 0 5 0-5 0-3 0 13-1-8 0 9 0-3 0-8 0 7-1-5 0 0 0 3 0-8-1 14 0-9 0 0 0 6 0-11 0 14 0-9 0 3 0 6 0-14 0 4-1 1 0 4 0-6 0-1-1 3 0 5 0-1 0 1 0 0 0-6 0 4-1-5 0-1 0 6 0-2 0-5-1 1 0 9 0-3 0-7 0-1 0 9-1 5 0-10 0 5 0-8 0 1-1 7 0-6 0 4 0 5 0-9 0 0-1-4 0 11 0-10 0 11-1-9 0 13 0-9 0 8 0-8 0-4-1 13 0-7 0-3-1 5 0 0-1 1 0-8 0 0 0 12 0-14 0-1-1 4 0 0 0 4-1-7 0 10 0-11 0 0 0 5-1 5 0 5 0-12 0 10 0 0 0-12 0-1 0 0 0 8-1-2 0-3 0 1 0 8 0-13 0 8 0-5 0 11 0-12 0-2-1 4 0 3 0-6 0 14 0-9-1 10 0-14 0 9 0-9 0 13 0-13-1 1 0 1 0 6 0-5 0 2 0-3 0 1-1 0 0 0 0 9-1-5 0-1 0 7 0-7 0 4-1 4 0-5 0 0-1-2 0-2 0 2 0 5-1-7 0 4-1 3 0-1 0-4 0 5 0-7 0 3 0-2 0-1-1 4 0 2 0-1 0 3 0-3 0-3-1-1 0 1 0 6-1-5 0 3 0-2 0-2-1-8 0 9-1 2 0-4 0-1 0-3 0 1 0 0 0-2-1 9 0-3 0-1 0 6 0 0-1 0 0-12 0 7 0 6 0-11 0 5 0 1-1-5 0 11 0-5 0-7-1 8 0 2 0-8 0-2-1 1 0 6 0 4 0-5 0 4-1 2 0-5 0 1 0-1 0-8 0 8 0 4 0-4 0-7 0-2 0 10 0-10-1 13 0-12-1 1 0-4 0 1 0 3 0 9-1 0 0-11 0 13 0-12-2 12-1 1-1 0-90-9-1-1 0 5 0-4 0 0-1 3-1-1-1-4 0 3-1 4 0 2 0-2 0-7 0 0 0 9-1-9 0 9 0 0 0-2 0-4 0 4 0-11-1 7 0-6 0 13 0-2 0 3 0-6-1-1 0-6 0 3 0 3 0-1-1-3 0 2 0 7 0-6 0-4 0 6 0-4 0 7-1 2 0-11 0 8 0-11 0 2 0 5 0 3 0 3-1-9 0 0 0-4 0 8-1-1 0 5 0-12-1 4 0 1 0 10-1-2 0-11 0-1 0 2 0 2-1 8 0-2-1 1 0-9-1 11 0-9 0 7 0-6-1 7-1-5-1-7-1 8-1-3 0 8-1-5 0-9-1 15 0-15 0 4 0 3 0 6-1 1 0-11 0 5-1 7-1-11-2-1-1 3 0 3 0 5 0-4-1-5 0 4-1-4 0 8-1-12-1 13 0-3 0 1-1-7 0-3-1 2 0 8-2 3 0-8-1 1-3 6-2 0 0-12-2 3 0 7 0-9-1 3 0 4-1-11 0 10-2 1 0-8-2-1 0 11-1-11 0 1 0 6-1 2 0-4 0-4 0 5-1 2-1 5-3-3-3-3-3-7-2 13-1-11-13 3-1 4-2-6-12 25 1-1 8 2 4-10 11 1 0-3 4 6 3-1 1 3 0-2 2 3 1-9 0 13 3-16 0 6 0-5 1 6 1 2 0-7 0 8 1-1 1 2 0-2 1-7 0 11 0-4 0-7 0 1 0 6 1 6 0 1 0-2 0-1 1-10 0 2 2 5 2-7 1-1 0 10 1 2 0 0 0 1 1-9 1 0 1 0 0 5 2 2 0 1 1-5 2-4 2 8 0-7 1 2 3-7 1 4 0 0 2-3 0 8 1-4 0-3 0 5 0-4 0-1 2 2 0-4 1 5 1 8 1 2 0-11 0 0 0 4 0-1 0 4 1 2 0-2 1-12 0 2 1 14 0-6 0 4 1-12 0 2 1 6 0-3 1-5 0 7 0 2 0-2 0-1 1 7 0-4 0 4 1-11 0 10 0-10 0-3 0 13 0-8 1 0 0 9 0-8 0 8 0-7 0-1 0-6 0 3 0 11 0-9 0 9 1-6 0-3 0-4 0-2 1 5 0 0 0 5 0-4 1 1 0-3 0 1 0 8 0 0 0-8 1 1 0 6 0-11 0 12 0-1 0-2 0-1 0 6 0-10 1-3 0 9 0 1 1 1 0-7 0 2 0 5 0 0 0-2 1-11 0 3 0 7 0-2 0 7 1-13 0 0 0-1 0 0 0 1 1 1 0 0 0-3 18 9 0-3 1 4 0 1 0-2 0 1 0-1 1 1 0-4 0 1 0 2 0-3 0 4 0-4 0 1 1 1 0-2 0 4 0-4 0-1 1 3 0 0 0-2 0-1 0 8 0 0 1-9 0 9 0-8 0 1 0 5 0-7 1 1 0 4 1-3 0 3 1-1 1-3 0 3 1 2 0-3 6 9 1-2 0 1 1-2 0 1 1 2 0-1 1-2 0-1 1 1 0 1 3 0 0-1 0 2 0-2 1 3 1-3 0 2 13-5 0 4 1-2 0 4 0-1 0-2 0 0 1 3 0-2 1 0 0-1 0-3 0 0 0 4 0-2 0-3 1 3 1-3 1 1 1 0 0 5 1-5 0 5 0-4 0-1 0 2 1 2 0-3 0 4 0-3 1 2 0 1 1-1 0 1 0 0 1 0 0-4 0 3 1 1 0 0 0-4 1 2 1 1 1-3 0 3 0 1 0-5 0 0 0 5 0-6 1 2 0-1 0 0 1 0 0-2 1 5 0-4 0 0 0 4 0 2 0 0 0-5 1 1 0 1 0 0 1-5 0 2 0 5 0-8 0 4 1 3 0 0 0-4 1 2 0-2 0-2 0 1 1 6 0 2 0-9 0 0 0 6 0-8 1 1 0 8 1 0 0-8 0 0 0 5 0-1 1-4 0 0 0 2 0-2 0 2 0 0 1-5 1 10 0-1 0-5 0 2 0 5 0-10 0 2 0-1 1 2 0-2 0 0 0-2 1 1 1 8 0-3 0 2 0-6 0 5 1-5 0 9 0-8 0-1 0 3 1 2 0-6 0 2 0 5 0-1 0-6 1 0 0-1 0 5 1-4 0 7 0 2 0-7 0 3 1-7 0 13 0-13 1 6 0-6 0 11 1-11 0 11 0-8 0 3 1-2 0-2 0 6 0-9 0 3 1-2 0 1 0 3 1 2 0-5 0-2 0 6 1 4 0-8 0 9 1 0 0-10 1 8 0-10 1 7 0 3 0-9 1 9 0-9 0-1 0 10 0-9 1 5 0 7 0-7 0 6 0-9 0 6 1-1 0-5 0-3 0 3 0-2 1 3 0 1 1 0 0 5 0-9 0 3 0 8 1 0 0-4 0-7 0 0 1 3 0 4 0 6 0-14 1 0 0 1 1 9 0-2 1-6 0 1 1 4 0-7 0 4 0-4 1 4 1 8 0-11 0 0 0 10 0-2 0-6 0-1 1 4 0-2 1-3 0 13 0-13 1 0 0 0 1 2 0-1 0 4 1 2 0 0 0 1 0-1 0 5 1-12 0 1 0-2 0 13 1-6 0-5 0 4 0-1 1 10 0-10 1-4 0 0 0 5 0-3 0 9 0-4 1-4 0 10 1-12 0 1 1 4 1-4 0 9 0-7 1-5 1 13 0-2 0-7 2-1 2 4 0-4 6 5 1-1 2-2 1-4 1 13 0-13 1 5 6-4 4 8 0-8 0-1 1-1 3 3 2-2 3 0 4 11 1 1 3-9 0 3 2-4 4 8 5-10 2 2 1 2 3-1 0 1 2-1 5 5 5-8 5 9 2-6 0-2 4-2 11 3 26 1 5 1 12 0 22 4-70 13-37-4-22 2-27 10-4-11-15 2-1-3-1 6-10-7-3 2-2 0-2 2-1-4 0 10-2-3-4-7-1 0-2 13-1-7 0 0-1 1 0 3-1-7-1-1 0 6-1-1-2-5-1-1 0 2-1-3 0 1 0 8-1-6 0 10-1-13 0-1-2 11-2-7 0-2 0 4 0 2 0 2-2-7 0 2-1 0 0-1 0 7-1-9 0 3-1-4 0 2 0 6 0-7-1 6-1-6 0 3-1-4 0 13 0-9-1-4 0 2 0-2-1 5 0 0 0 8 0-11 0 0-1-1 0-2-1 4 0-3 0 3 0 3 0 2-1-1 0-5 0 9 0-9 0 5 0-5-1 6 0-7 0-1 0 1-1 7 0 0 0-5 0 7-1-8 0 2 0 2-1-2 0 0 0-3 0 2 0 0-1 4-1 0 0-3-1-4 0 4 0-1 0 5 0-7-1 1 0 4 0 3 0-7-1 0 0-2 0 2-1 12 0-6 0 6 0-2 0-1 0-8-1 5 0 3 0-6 0-2 0 8 0-8 0 7-1-1 0-5 0-2 0 2 0 0-1 3 0 1 0-2-1-2 0-2 0 10-1-2 0-5 0-3 0-2 0 7 0-5-1 7 0 5 0-5 0-9 0 5-1 2 0 2 0 0 0-2 0 5 0-10-1 0 0 2 0 10 0-9-1 0 0 2 0-1 0-6-1 6 0 6 0-11 0 7 0 4 0-12-1 0 0 11 0-4 0 3 0-3 0 1 0-4 0 6 0 0 0-10-1 3 0 0 0 3 0 5 0 2 0-12-1 4 0-3 0 7 0 1 0-3 0 5-1-9 0 0 0-3 0 5 0-1-1 0 0 9 0-13 0 7 0 6-1-9 0-2 0 11 0-3 0-10-1 11 0-10 0 8 0-7 0-1 0-1 0 12-1-12 0 1-1 7 0 0 0-5-1 1 0-2 0 9 0-4 0-6 0 10 0-4 0-5-1 1 0-1 0 2 0-1 0 11 0-14 0 7 0-2-1 4 0-4 0 4 0-7-1 8 0-1 0 3 0-7 0 6 0 3-1-5 0-1 0-3-1 5 0 3 0 1 0-5 0 1 0-4 0 3 0 1-1 1 0-6 0 9 0-1 0 0-1-2-1 0-1 3 0-1 0 2-1-2-1 1-1-3 0 0 0 3 0 0-1-1 0-2 0 0-1 3 0 0-2-3 0 0 0-7-1 8 0-7 0 9 0-8 0-1-1 8 0 0 0-2 0-3 0 4 0-6-1 3 0-2 0 7-1-5 0 5 0-3-1-5 0 8 0-2-1-8 0 3 0-2 0 2 0-4-1-1 0 2 0 2 0 4 0-4-1-2 0 0 0 6 0 1 0 3 0-3 0 2 0-11-1 11 0-6 0 7 0-5 0 4 0-3 0 3 0-4 0-2 0 2 0 4-1-6 0 4 0 0 0-7 0 3 0 1 0 7 0-15 0 14 0-12-1-1 0 14 0-13-1 1 0 7 0 0 0-8 0 0 0 12 0-13 0 9-1 4 0-11-1 2 0 6 0-3 0-3-1-4 0 2 0 4 0 1 0 4 0-11 0-1-1 12 0 1 0-12 0 8-1 4 0-7 0 2 0 0 0-9 0 8 0 5 0-13-1 11 0 3 0-13 0 1 0-2 0 1 0 4-1 5 0-9 0 5-1 4 0-9 0 10 0 4 0-1 0 0-1-5 0-3 0-2 0 10 0-10-1 6 0 3 0-8 0-5 0 14 0-5 0 0-1-8 0 4-1 0 0 6 0-10-1 2 0 10 0 1 0-14-2 11 0 3 0-8-1 7 0-2 0-11-1 1 0 15-1-11 0-4 0 15-1-4 0-8 0 6-2 1-1-9 0-2-1 6 0-1 0 3-1 4-3 2 0 1-1-1-2-4 0-9 0 6-2 1-1-5-1-1 0 7-1 2-1 3 0-5 0 3-1-8-1 7 0 1-1-5-1 7-2 1 0-11 0-3-2 14-2-13 0 4 0 0-2 8 0-3 0-7 0 4 0 5 0-8-1 11 0-5 0 4 0-8 0 8-1-13 0 1 0 13 0-5 0 0 0-3 0-7 0 14-1-3-1-8-1 7-1 2-1-11-5-1-4 10-3 2 0-2-17 0 9 11 0-6 2 4 7 0 11 2 1-5 3 5 1-1 1-5 0 6 0-3 0-1 1 12 1-10 1 6 1 2 0-11 1 11 1-10 3 0 1 1 0 0 7-3 3 8 0-2 1-6 1 6 1 0 0 4 0-9 2 1 0 2 2 3 2 0 2 2 1-7 1 7 0-3 0-5 1 7 1-8 1 4 1-3 4 10 1-11 0 10 0-9 0 9 1-5 0 9 0-3 1 4 0-8 1-1 0-4 2 7 1-1 0 0 1 3 0-8 0 9 0-8 1 2 0 3 0-7 0 10 1-10 0 3 1 1 0-5 0 6 0-1 0-1 1-3 0 2 1-3 0 2 0 7 0-1 0 3 1-11 0 2 0 2 0-3 0 7 1-6 0-1 0-1 0 2 0 4 1-5 0-1 0 1 0 5 0-2 2-5 0 5 0 0 1 0 0-2 0 6 1-8 0 4 1 5 0 0 0 4 0-12 0-2 0 0 0 9 0 2 1-7 0-3 0 5 1 3 0-5 0 0 0 11 0-8 1-1 0 3 0-3 1-3 0-1 0 2 1 4 0 6 2-3 0-9 0-2 0 7 2-1 1-2 0-1 1 2 0-3 0 2 0-3 1 4 0 5 0 0 0-9 0 1 1-1 0 3 0-2 0 9 1 1 0-11 1 7 0-7 0 5 1 1 0 2 0-6 1-1 0 7 0-4 1 4 0 5 1-6 0-6 0 2 1 5 2-9 0 6 1-3 1 0 2-3 0 6 4-1 0-4 6 0 2 1 4 0 0-1 4 2 0 2 0-2 125 8-158 5-7 2-2-2-4 4-2-3-3 4-7 2-1-5-4 11-22-11-10 5-37-6" fill="none" stroke="none" marker-start="url(#m)" marker-mid="url(#m)" marker-end="url(#m)"/></g></g><line x1="388.7" y1="231.87" x2="668.7" y2="23.23" stroke="#0e820e" stroke-width="1.3"/><rect x="374.7" y="12.8" width="308" height="229.5" fill="none" stroke="#000" stroke-width="0.75"/><path d="M384.92 242.3v3M374.7 234.69h-3M447.98 242.3v3M374.7 187.7h-3M511.04 242.3v3M374.7 140.71h-3M574.11 242.3v3M374.7 93.72h-3M637.17 242.3v3M374.7 46.73h-3" stroke="#000" stroke-width="0.75" fill="none"/><g font-family="DejaVu Sans" font-size="8.7" fill="#222"><text x="384.92" y="254.9" text-anchor="middle">50</text><text x="368.8" y="237.89" text-anchor="end">50</text><text x="447.98" y="254.9" text-anchor="middle">100</text><text x="368.8" y="190.9" text-anchor="end">100</text><text x="511.04" y="254.9" text-anchor="middle">150</text><text x="368.8" y="143.91" text-anchor="end">150</text><text x="574.11" y="254.9" text-anchor="middle">200</text><text x="368.8" y="96.92" text-anchor="end">200</text><text x="637.17" y="254.9" text-anchor="middle">250</text><text x="368.8" y="49.93" text-anchor="end">250</text><text x="528.7" y="266.5" text-anchor="middle">actual glucose (mg/dL)</text><text transform="translate(349.8 127.55) rotate(-90)" text-anchor="middle">predicted glucose (mg/dL)</text></g><text x="528.7" y="7.7" text-anchor="middle" font-family="DejaVu Sans" font-size="10.38" fill="#222">Glucose Estimation of future 15 mins</text>
<g transform="translate(31.5 286.0)"><path d="M140 135 137 135 133 132 130 132 126 134 122 134 121 133 121 131 116 131 115 132 113 132 112 130 110 129 109 130 110 133 108 135 106 135 104 132 102 133 99 132 99 134 98 135 95 135 93 138 91 137 91 135 89 136 85 136 82 140 78 137 74 144 74 146 73 147 71 147 71 149 70 150 66 151 67 155 63 157 64 160 61 162 58 161 59 165 57 166 57 167 58 167 59 169 57 171 57 177 58 178 57 183 58 183 59 185 58 186 55 185 55 186 57 187 59 191 66 192 67 190 63 190 62 189 63 184 64 183 66 183 67 184 66 187 68 187 69 189 71 189 71 186 72 185 76 188 79 188 81 185 84 183 84 180 85 179 87 179 88 177 93 178 95 180 94 182 91 182 91 184 92 184 93 183 95 183 99 180 104 180 104 179 100 179 99 178 99 177 102 175 105 175 106 176 109 176 112 174 115 175 115 172 114 171 115 169 119 169 123 166 128 166 131 163 134 163 134 161 129 161 128 159 123 155 123 153 124 152 128 152 130 155 133 153 135 153 136 154 135 159 138 159 137 154 135 153 136 147 135 147 132 143 133 142 138 142 138 140 140 138ZM102 170 104 171 104 173 103 174 101 174 100 173ZM96 169 97 171 94 173 93 171ZM80 170 82 169 83 170 83 172 81 173 80 172ZM119 151 121 150 122 152 120 153ZM122 144 123 143 125 143 126 145 125 146 123 146ZM130 141 132 140 133 142 131 143ZM131 139 131 137 132 136 134 136 135 137 133 140ZM127 136 129 137 129 139 128 140 126 140 125 139ZM102 135 103 134 105 134 106 136 105 137 103 137Z" fill="#1f77b4"/><g transform="scale(.5)"><path d="M175 103l74 7 210-1-215 10-22 4-20 4-49 5 65 6 55-5 5 2 181-5-92 19-7 4-25 5-43-3-19-7-13-1-7 9-3-8-11 12-3-2-1-1-7-7-64 7-6-13-19 14-6 18 15-9 8 2 8-2 3-6 10 4 15 7 14 1 3-7 5 1 32 9 0-15 1 5 32 9 61 0 40-2 107-9 19 9 72-5 15 23-143-12-37 11-34-1-1 0-5-3-30 0-14-7-2 4-11 3-36 4-11-10-5 10-26 1-4-12-1 6-2 4-8-1-15 3-1-2-7-3-16 1-4-1-11-8-1 4-23-2-11 7 41 11 19-1 9 8 10-5 0 1 1 3 0 4 7-2 2-2 1 2 7-1 2-6 3 6 9-3 0-6 3 4 8 7 2-2 5-2 2 3 6 0 6-10 5 10 5-9 1 7 3 3 2-13 1 0 13 3 8 1 0 2 3-1 2 5 3 2 20 0 1-1 0 3 1-5 9 4 4-2 71 2 2-7 39-3 24 0 4 1 23-4 2 7 4 5 4-10 47 2-48 20-56-3-7-1-27 8-15-9-15 4-5-1-29 1-12 5-6 0-3 2-2-4-8 1-1 3-4-8-5 5-5-1-3-3-1-1-2-2-1 5-12-1-2-5 0 3-6 0-1 0-2 7 0-3-1 0-6-4 0 3-2 5 0-8 0-7-4 8-3 4 0-7-2 7-3 1 0 1-1-7-3 3-4-8-1 2 0 10 0-1-2-7 0-7-2 5-1 9-3 1-1-9-2 9-1-11-1 11-3-1 0-7-1 2 0-2 0 3 0 4-3-9-2-2-3 7-3-6-5 10 0-4 0 6 0-8 0 2-1 1 0 1-2-2-1 3-1-10-2 6 0-3-1 9-1-11 0-1-3 8-1 2-2-12-1 12-3-6-1 6-6-5-1-4-1 12-1 0-2-14 0 10-1-8-4 10-1-11-2 12 0-1-1-12-1 8-5-2-1 3-1 2 0 3-1-1 0-7-1 1-1 5-2-9-1-1-1 5-2 2-4-10-7 12-3-10-2 5-1-4-3 3-3 7-2 0-6-4-5-10-26 10-27 4-8-3-13 19 54-12 9 0 0 0 5 10 0-2 7-5 1 6 5-1 1 6 1-1 2-14 4 9 1-2 1 8 0-7 7 4 3-5 0-4 1 4 0-1 1 6 0 3 1-10 1 1 1 2 1 5 1-11 0 0 2 0 0 0 1 0 0 3 1 6 0-1 0 3 1 1 0-1 0 1 2-3 0 1 0-6 1 3 1 6 1-9 1 6 0-1 0-8 1 10 1-2 0-3 1 2 1-4 0-1 0-3 0 5 0 1 1 7 0-2 1 1 1-4 1 2 0-12 1 14 0-15 1 7 1 4 0 0 2-4 0-3 0-1 0 9 1-9 1 4 0-4 1 0 1 5 1 4 1 2 0-13 1 15 1-6 0-1 2 6 0-4 0 0 1-1 2-10 0 7 0 0 0-1 2 10 1-2 0-1 0-1 0-1 0-7 0 0 0 11 1-1 1-5 0-6 1 7 0-1 0 6 0-1 0 0 1-4 2 4 0-5 0 2 0-6 2 11 0-3 0-8 1-1 0 10 0-4 1-1 0 4 0-1 0 1 0-8 0 10 2-1 0-7 0-4 1 3 2 2 2 0 0 7 2-1 0 1 0-11 0 0 1 7 0-5 1-4 0 4 1 2 1-5 1 9 0-5 0-5 1 8 0 0 0-2 0 6 0-2 0-2 0 0 1 5 2-7 0 6 1-9 0 3 0 7 2-12 0 6 0 6 1-2 1-3 2 1 0 3 1-8 0-2 0 11 1-10 0 9 2-11 1 2 0 5 1 2 0 0 1 0 0 2 0-9 1 6 0-8 0 5 1 5 0-7 1 5 1 1 0-11 1 8 0-6 2 5 0 2 0-1 1 5 1 0 0-10 1 5 1 4 2-4 0-1 2 8 0-4 2-9 1 6 0-5 3 8 1-3 1-6 2-2 2 6 0 9 3-12 0 11 1-12 1 6 5-3 1 4 1 2 1-1 1-7 1 0 3 2 0 7 0-6 1 5 1-9 0 4 1 5 1-4 1-1 1 5 2-5 1 6 0 0 2-10 2 9 2-2 0 4 1-13 2 0 1 8 4-8 2 14 2-5 1 4 1-9 2-2 1 12 1-13 0 3 4-1 2-4 5 13 0-2 1 2 0-8 1 1 4 6 3 4 5-10 0 6 1-9 0 5 3-7 0 10 1 3 8-8 9 5 11 2 4-2 0 2 1 2 1-9 1-1 2 9 3-4 15 5 14-8 8 3 33 5 18-3 80 9-7-5-82 11-7 5-4-5-14-4-17-3-4 1 0 6-32-7-10 4-8 3-3-3 0 3-4-7-3 9-2 2-7-6-4 7-2-13-4 1-1 3-1 2-1-4 0-4-1 12 0-1 0-9-1 5 0 2-2 3 0-2-1-4 0-6 0 7-1-5 0-1-1 7 0 1-3-6 0 1 0 4-1 4-4-1-1-11-1 2 0 7 0 4-2 2-2-3-1-6 0-3-2-1 0 5-1 7-4-7-1 7 0-15 0 5-2 4-1 5 0-12-1 11 0 2 0-11-1 11-1-13 0 11 0-10 0 6-1-6-1 12-2-13-1 7 0-7 0 5-1 2 0 5-1-14-1 12 0 2 0-12-1 7 0-4 0 10 0-4 0-6-1 1 0 3-1 2 0 3 0-13-1 5 0 10-1-3 0-3 0-2-1 5 0-8 0-3-1 1-2-1 0 6-1-4 0 4-1-1-1 9 0-7 0-5 0 3-2-6 0 1 0 8-1-6 0-1-1 9-1 2 0-9 0 5-1-5 0 9 0-4 0-2 0-6 0 4 0-5-1 1-1 13 0-13 0 14 0-1 0-3 0 3-1-4-1-3 0 5 0-11 0 9-1 3-1-4-1 3 0-6 0 4 0-6 0-1-1 4 0 3-1-1 0 2 0-9-1 3 0-1 0 0 0 1-1 4 0 5-1-7-1-4 0 8 0 4-1-11-1 3 0-6 0 7-1-6-1 4-1-2-1-4-1 7 0 3 0-11-1 10 0-8 0 8-1 1 0 4-2-5 0-9 0 11-1 2 0-9-1 6-1-5-1 1 0 0 0 3 0 1 0 0-1 3 0-10 0 0 0-1 0 1-1 7 0-5 0 8 0-5-1-1 0 0-1-4 0 5 0-5 0 6-1 2 0-1 0-9-1 12 0-1-1-1 0-10 0 10 0-9 0 11 0-3 0 0 0-1-1-2 0 7 0-1 0-10 0-3-1 13 0-5-1-2 0 2-1-3 0 2-1 6 0-1 0-2 0-4 0 6 0-4-2 0 0 5 0-6-1 4 0 0 0-6 0 8-1 0 0-14-1 0 0 16 0-2-2-5 0-4 0-4 0 11 0-2 0-3-1-5 0 2 0 8 0 4-1-3 0-1 0-2-1 6 0 0 0-10 0-5-1 10-1 2 0-8 0 1 0 5 0 0-1-7 0 11 0-13-1 9 0-2 0-4 0 0 0 5-1-3 0 0 0 3 0 1-1-5 0 9 0-10-1 6 0-9 0 13 0-6 0 1 0 5 0 0-1-2 0 1-1-1 0-1 0-8 0 2 0-5 0 9-1 2 0 2 0-3 0 2-1-11 0 8-1 0 0-6 0 2 0 8 0-6 0-7 0 3-1 9 0-9 0 5 0-6 0 3 0 1-1 0 0-2 0 6 0 0-1-1 0 5 0-13-1 11 0-8 0 2 0 3 0 5-1-2 0-11 0-2 0 14-1-6 0-2-1-5 0 5 0 7-1-4 0-2 0 5 0-9 0 1-1-2 0 5 0-1 0 4 0-10-1 3 0 12 0-3 0-5 0 3 0-4-1 3 0 4 0 0 0-5-1 1 0 1-1-4 0-4 0 11 0-11-1-1-1 13 0-8 0 9-1 1 0-2 0-3-1 3 0 2-1-3 0-12 0 1 0 3-1-5 0 11 0 0-1 1 0-10 0 10 0-10 0 10-1-3 0-5 0 6 0 1 0-3-1-3 0-2 0 1 0 11-1-3 0-7-1 2 0-6 0 15 0-15 0 13-1-12 0-2 0 9 0-5-1 1 0 7 0-5 0-4 0 5-1 4-1-3 0-1 0 5 0-2-1 2 0-6 0 1 0-7 0 5-1 5 0-10 0 11 0-5 0 9 0-4 0-9-1 0 0 7 0 5 0-9 0 3-1 3 0 2 0 0-1-8 0 3 0 1 0 2 0-6 0 1-1-2 0 9 0-8 0-5 0 11-1 2 0-4 0 0 0 0 0 3-1 0 0-4 0 5 0-8 0-2 0 11-1 0 0-6-1 3 0-5 0-1 0 5-1-7 0 1 0 10 0-4 0 3 0-3-1 5 0-1 0-13-1 1 0 9 0 1-1-8-1 10 0-1 0-6 0-3-1 4-1 3 0 0 0-4-2 0 0 7 0-4-1-9 0 10 0-5 0 4-1-10-1 14-1-8 0 5 0-11 0 9-1 5 0-10-1-1 0 2-1 1 0-4 0 13 0-1-1-6 0 3-1 2-1-8 0 9 0-7 0-2-1 3 0-1 0-1 0-4-1 3 0 8 0-1 0-5 0-2 0-5-1 2-1 13-1-1 0-5-1-1 0-4-1 10 0-1 0 0-1-14-1 14 0-4 0-5-1 7 0-6 0 2 0 7-1-5 0 3 0-7 0 2-1-3 0 11 0-16-1 5-1 11 0-13 0 4 0 5 0 3 0-8-1 8 0 0-1-4 0-7 0 7-1 1 0-8 0 9 0 1-1-3 0-5-1 8 0-1-1-7-2 9 0-2-1 0-2-7 0 3-1 7 0-7 0-5-2 12-1-4-2 4 0-9-6 8-6 1 0-13-2 1-5 10-3-8-1 10-9-4-45-2 0-9 0 21 1 9 15 0 8-15 30 7 4 0 1 7 2-11 7 2 2 3 0 6 1-14 0 13 0-9 2 11 0 0 0-1 1-1 0 3 0-1 1-11 1-1 0 9 1-8 2-4 0 10 0 4 0-11 0 7 0-6 1 1 0 8 0 3 0-7 1 4 1-1 0-1 1 4 0-2 0 2 0-6 0-4 1 5 0 6 0-2 0-9 0 10 0-10 0 9 1-8 0 4 1-3 0 7 0-7 0 3 0 2 2 3 0-5 0 0 1-5 0 0 0 9 0 1 1-13 0 13 1-10 0 3 1-3 0 3 0 7 0-3 0-10 0 6 1 3 0-2 1-5 0 5 0 4 0-7 1 0 0 5 0 3 0-6 0 3 0 4 1-4 0-4 0 0 1 1 0-1 0-1 0 1 0 1 0 7 0-4 0-1 1-7 0 6 0-3 0 1 0 7 1 2 0-2 0-1 0-1 0 0 0-10 0 4 1 5 0 3 0-5 0 6 1-6 0-7 0 13 0-11 0-1 1 7 0-2 0-6 0 9 0-7 0 2 0-1 1 9 0-10 0 6 0-5 0 9 0-14 2 2 0 4 0 3 0 2 1-6 0 0 1 5 0-1 0 6 0-2 1-11 0 6 0 6 0-3 0-10 1 13 0-5 0 2 0 2 0-7 0 6 0-3 1 3 0 3 0-11 0-3 0 11 0 3 0-14 1 12 0-8 0-3 0 4 0-5 1 7 0 1 0-2 0 7 0 1 0-9 0 0 1 5 0-4 0 6 0-2 1-4 0 7 0 0 0 2 0-13 1-1 0 8 0-8 0 3 0-1 0 7 0 2 0-8 1 5 0-9 0 12 1-11 0 2 0 7 0 2 1-9 0 11 0-15 0 5 0 10 0-1 0-8 0 4 1-3 0 2 0 1 0-8 0 0 0 4 0-3 0 4 1 5 0-6 1 1 0 8 0-1 0 1 0-3 0-10 0 6 0-8 0 6 0 4 0-6 1 0 0 0 0-3 0 7 0 5 1-8 0 8 0-8 1 3 0 7 1 0 0-13 0 6 1 2 1 2 0-3 0 0 0-6 0 7 0 2 1-7 0 7 0-8 0 7 0-2 0 0 1-4 0 3 0 3 0-2 0-5 1 3 0-1 0 0 1-1 0 5 0 3 0 2 1-12 0 0 0 9 0-11 0 13 1 2 0 0 0-12 0 2 0 7 0 2 1-1 0-3 0-10 0 6 0 6 0-11 1 6 0 0 0 2 0-1 0 2 0-3 1 3 0-4 0 5 0-12 0 10 0 4 0-7 0-4 1 8 0 4 0-9 0 3 0-2 0 6 1-12 0 5 0-1 0-1 0 6 0-9 0-1 0 8 0-1 0 4 1-6 0 4 0 3 0 0 0-1 1 0 0 1 0-10 0 13 0-5 0 5 1-7 0-1 0 3 0 1 0-8 1-2 0 12 0-9 1-3 0 9 0 5 0-12 0 11 1-2 0-9 0 10 0 1 0-11 0 5 1 5 0-8 0 10 0-12 0 0 0 1 1 5 0-1 0-1 1-1 0-1 0 1 0-3 0 10 1-11 0-2 0 4 0 8 0-2 0-1 1 1 0-6 0 2 0-4 1 4 0 2 0-7 0 7 0-5 0 6 1 0 0-6 0-2 0 0 1 0 0 3 0-2 0 3 1 1 0 0 1-6 0 1 0 0 0 5 0-6 0 2 0-2 1 6 0-3 0 6 1-4 0 2 0 0 0-1 1 3 0-5 0 5 0-2 1-6 0 0 0 7 1-6 0 2 0-1 1 3 1-5 0 3 0 0 0 0 1-3 1 5 0-1 0-2 0 3 1 1 0-2 0-2 1 1 1-3 0 4 0 1 1 1 0-4 1 2 1-3 0 6 0-3 1 3 0-2 0 0 0 1 1 0 0 1 0-2 0-3 0 6 0-8 0 8 0-1 0 2 0-7 0 6 1-1 0-4 0 4 0 3 0-3 0 0 0-4 0-2 0 1 1-3 0 10 0-2 0-4 0 8 0-10 1 2 0 9 0-8 0 6 0 1 0-8 1 4 0 5 0-9 1 8 0-10 0 10 0-3 0 2 1-4 1-2 0 6 0 1 0-7 0-2 0 7 1-6 0 11 0-3 0 3 1-15 0 10 0 6 0-12 0 1 0 1 1 6 0-4 0 3 0-7 1 1 0-1 0-4 0 1 1 10 0 4 0-7 0-6 0 3 0 5 0 4 1-6 0-1 0 4 0 3 0-8 0 8 1-4 0-10 0 7 0 6 0-4 1-2 0 9 0-5 0-5 0-5 0 4 1 2 0 8 1-13 0 4 1-2 1 4 0-7 0-1 1 7 0-7 0 4 0 3 0-3 0 5 0-4 1 2 0 1 0 7 0-7 0 7 1-8 1-6 0 8 0 7 0-13 1 12 0-7 0-1 0 8 0-1 0-10 1 0 0 6 0 5 0-5 1-5 0-1 0 7 0-8 1 7 0 6 0-13 0-3 1 3 0 8 0-11 0 6 0-1 0 3 0-3 0-4 0 11 1-4 0 0 0-2 0 4 1 2 0-9 1-1 0 1 0 9 1 0 0 0 0-5 1-3 0 9 0-5 0 2 0 2 0 2 0-11 0 0 1 10 0 2 0-1 0-2 1 2 0 1 1-10 1 10 0-13 0 13 0 0 0-13 0 0 0 1 0 0 0 9 0-2 1-7 0 12 0-1 0-10 0 0 0 6 0-3 0-1 0 0 1 8 0-7 0-1 0 3 0 5 0-9 0 10 0-12 1 10 0-1 1 2 0 2 1-15 0 11 1 0 0-5 1 7 0-5 0-7 0 10 0-11 0 0 1 3 0 2 0 9 0-12 1 3 0 1 1 6 0-5 1-2 0 3 0 7 0-12 0 8 1 0 0 3 0-15 0 6 0 8 0-2 1-8 0 6 0-10 1 7 0 2 0-1 0 2 0-6 0-2 1 3 0 0 0-4 0 5 0-5 0 1 1 6 1 1 0 5 1-1 0-5 1-7 0 9 1 6 0-12 0-2 0 0 1 7 0-3 2 2 0-2 1 5 0-7 0 6 0-5 1 0 0 1 0-5 0 4 1 4 0 4 0-12 0 6 0 1 0 2 0-1 1-4 0 1 1 4 0 5 0-7 1 0 0 8 1-7 1 3 0-7 0 3 0 1 0 2 1-7 0 11 0-12 0 3 0 10 0-14 1 11 0-5 1 4 0-5 0 9 0-16 0 4 1 9 1-12 0 10 0-6 1-5 0 14 0-4 1 3 0 2 0-1 1-6 0 0 0 4 1-11 0 6 1-3 1 2 0 0 1-3 0 11 1-4 1-7 1 0 0 8 1-10 1 4 0 7 1 1 0-1 0-12 1 12 0 3 1 0 0-4 1 2 1-6 0 4 0-1 2-1 1 4 1 2 3 1 0-12 0 11 1 0 1-5 0 0 1-4 0-4 0 10 1-11 2 13 1-2 0-1 1 0 2-2 2-8 0 6 2 9 3-3 2 0 0-8 0-5 1 8 2 4 1-6 0-1 2 10 1 1 3-13 1 9 2 0 0 2 3-3 1 4 2-15 2 1 2 11 1-7 1 4 4 3 1 0 0-4 1 1 1 5 1 2 5-11 2 4 4-6 1 11 0-8 3 9 1-2 1 3 1-9 4 8 3-12 0-3 15 8 10-2 48 8 49-8 13-1-36 21-7-7-28 8-30-7-8-2-1 1-3 2-15-3-15-1-6 5-7 6-4-8-1 8-1-1-1-5-12 9-3-7-1 2-1-4-1 3 0-8-3 9-2-7 0 10-1-3 0 1-2-11-1 9-3-2-1-6-1 0 0 10-1-3-1-4-1 0-1 8-3-4-1-3-1 0-1-2-2 8 0-3-1 4-1-1-2-5-1 4-1-7 0 7-1 1-1-2 0 5-1-6-1-6-1-1-1 3-2 4 0-8 0 7-1 6 0 0-1-2-1 3 0 0 0-13-1 9 0 2 0 2-1-12 0 12 0-8 0 3 0-3-1-1 0 0 0 7-1-5 0-3 0 8 0 1-2-5-1-8 0 2 0 1-1-2 0 13-1-1-1-7 0 4 0-3 0-4 0 11-1-13 0 0 0 13-1-12 0 4 0 2 0 6 0 0 0-11-1 12 0-13-1 5 0 0 0 9 0-6 0-4-1 8 0-8 0-2 0 6-1-7 0 2 0-2-1-1 0 9 0-5 0 0-1 4 0-2 0 6 0-13 0 10-1-1 0 2-1-8 0 0 0 9-1-9 0 5-1-1 0 0 0 3-1-4 0 0 0-3-1 1 0 0 0 7 0-9-1 1 0 9-1-8 0-3-1 13 0-10 0 2 0-6 0 2-1 2 0 5 0-8 0 9 0-8-1 5 0-4 0-2-1 8 0 2 0-10 0 3 0 7-1-5 0-6 0 13 0-7 0 1 0-1 0 6 0 0-1-10 0 12 0-9 0 7-1-11 0 4 0 0 0-4 0 1-1 7 0-7 0 8 0-11-1 10 0 0 0 2 0-9-1 3-1 7 0-5 0-1-1 8 0-12-1 13 0-5 0 4 0-13 0-2 0 16 0-3 0-5 0-1 0 8 0-3-1-5 0-2 0 5-1-4 0 6 0 0 0 3 0-4 0-3-1 1 0-4 0-1-1 3 0 4 0 4 0-4 0 0-1-10 0 15 0-3 0-8 0 7 0 2 0-13-1 12 0-11 0 4 0-1 0 1-1 9 0-3 0-10 0 13 0-4 0 4 0-15 0 6 0-2-1 8 0-10 0 2 0 3 0 8 0-2 0-2 0-3-1 7 0-7 0-4 0 0 0 12 0-8 0-6-1-1 0 1 0 3 0 2-1 1 0-5 0 4 0 0 0 2 0 3 0-4-1 6 0-7 0 4-1 0 0 3 0-3 0-3 0 3 0 3 0-6 0 3-1 3 0-5 0 2 0 4-1 0 0-2-1-2 0-1 0 1 0 2 0 0 0 1-1-3 0-10 0 2 0 7-1 3 0-12 0 1 0 9 0-4 0 0-1-3 0 2 0 4 0-8 0-1 0 9 0-5 0-5-1 9 0-7-1 14 0-8 0-3 0 7 0 2-1-1 0 0 0-3 0 5 0-4-1-11 0 14 0 2 0-12 0 2 0-1 0 10 0-9 0 9 0-6-1 5 0 0 0-12 0 4 0 2 0 6-1 0 0-2 0-10 0 5 0 9 0-15-1 1 0 0 0-2 0 7 0 1 0 2-1-10 0 7 0-1 0 0 0-3 0 2 0-3 0 2 0-3 0 7 0-1 0-6-1 3 0-1 0 1 0 4 0 4 0-4-1-5 0 6 0-1 0-5 0 9 0-3 0 1 0 2 0-5 0-3 0 1 0 4 0 1-1 2 0-6 0 0 0-3-1-1-1 1-1 2 0-5 0 1 0 7-1-8 0 5 0 11 0-13-1 13 0-14 0 7 0 5 0-9 0 2-1-5 0 13 0-12 0 11 0-11-1-3 0 13 0 1 0-7-1-2 0-4 0 0 0 2-1 12 0-9 0-2 0 8-1-10 0 1 0 2 0 1 0-2-1 9 0 0 0 2-1 0 0 0-1-1 0 0-1 1 0-2 0 3 0-3-1 1 0 0-1 2-33-14 0-2 0 2-1 1-1 0 0 0-1 0 0-3-1 1-15-1 0 2-1-1-1-1-1 3 0 0-1 2-1-1 0 1-1-1-1-2 0-1-1-1-1 2 0 0 0-1 0-1 0 0-1 1-4 0-1-1-1 0-2 1 0 0-1 1 0-1-1 1 0-1 0 4-1-2 0 1-1-1 0 1 0 1-1-1 0 2 0 1-1-7 0 6 0-6 0 7 0-1-2-2 0 4-1 0-1 0 0-1 0-4 0 3 0 2-1-4 0-3 0 1 0 1-1 2 0-1 0 1 0-5-1 7 0-2-1-5 0 1-1 2 0-2 0 2-1 3 0 1-1-5 0 1 0 3 0-3-1 2 0-2 0 2 0 3-1 1 0 1 0-8-1 7 0-3 0 7 0-8-1 1 0 6 0-2-1-2 0-7 0 8 0-1 0-2 0 10-1-3 0 3 0-1-1-3 0-1 0 4 0-2-1-1 0 1 0 0-1-2-1-10 0 2 0-3-1 6 0 8 0-5-1 1 0-5 0 5 0 1 0-6 0 9-1-7 0 3-1-8 0 3 0 6-1-2 0 7-1-5 0-7-1 5 0 1-1 5-2 0 0-14 0 13 0-10 0 9-1 0 0-1 0 3-1-9 0-1 0 5-2 6-1-7-5 1-2-6 0 11-1-14-1 6 0-6-1 4-3 5-1 5-44-12-1 11-1-7 1 19 1-2 10 7 26-15 1 9 4-2 1 5 1 2 1-8 0-3 0-1 1 14 2-6 1 0 0-6 1 7 2-2 0 5 0-12 1 8 0 5 1 0 0-4 0-10 0 14 0-9 1 1 0 8 0 0 1-9 0 1 0 4 0 0 0 4 0-13 1 9 0 1 1 3 0-15 0 2 0 12 1-4 0 4 0-5 0-4 0 10 1-6 0-2 1 2 0 6 0-4 1 4 0-10 0-3 0 5 0 7 1-1 0-9 0 10 0-1 0-2 0-10 0 3 0-2 1-1 0 6 0-2 1-2 0 1 1 7 0-1 0-5 0 5 0 3 0-10 0 2 0 5 0 0 0 0 0-4 1 2 0 4 0-8 0 8 1-11 0 4 0 0 0-5 0 9 0 3 1-4 1-8 0 5 0 1 0-2 1 2 0 0 0 3 0-3 1-2 0 2 0 3 0 0 0-6 1 6 0 1 0-7 0-2 0 9 0-8 0 0 1 2 0 2 2-2 1 1 0-3 0 3 1-2 0-2 1 2 0-2 86 15 1-1 1-3 0 3 0-4 0 4 0 0 0-1 0-2 0 3 1 0 0-2 1 0 0-2 1 5 0-6 0-1 0 5 1-4 0 2 0 1 0-12 1 1 0 9 1 3 0-13 0 12 0-12 2 14 0 0 0-1 1 2 1-12 0-2 0 1 0 13 0-12 1 1 0-4 1 3 0 11 0-15 0 13 0 2 1 0 0-14 0 13 1-11 0 12 1-12 0-1 0 0 1 12 0-14 0 15 2-1 1 2 1-1 0 0 1 1 6-14 0 1 1 0 0 12 0-12 0 13 0-14 2-2 0 3 0 2 0 0 0 11 0-4 1-8 0 10 0-10 0 7 1-1 0-7 0 10 0-8 0-3 0 10 0 1 0-3 0-7 0 11 1-13 0 11 0-6 0 3 0 1 0-10 1 9 0 5 0-7 0 3 0-6 0 3 1-2 0 4 0-1 0 0 0 2 0-7 0 10 1-5 0 5 0 0 0-6 0-5 1 7 0 4 0-11 0 8 1 2 0 1 0-8 0 4 0-5 0 0 1-2 0 10 0 3 0-13 0 7 1-2 0 1 0 6 0-2 0-11 1 13 0-2 0 2 0 1 0-14 0 1 1 2 0 0 0 5 0-4 0 0 0 8 0-8 0 8 1-7 0 3 0 1 0 2 0-4 0-5 0 5 0-1 1 6 0-3 0-5 0 9 0-12 1 5 0 3 0-10 0 10 1-2 0 2 0 1 0-1 0-10 1 10 0-3 0 8 0-2 0-10 1 3 0-5 0 5 0 4 0-2 1 4 0-1 0-3 0 0 0-5 0 13 0-11 0 3 1-3 0 9 1-3 0 1 0-10 0 9 0 1 0-11 0 0 0 10 1-2 0-8 1 3 0 11 1-13 0-1 0 15 0-3 1-4 0-8 0 8 0 3 0-2 1-7 0-1 0 6 0 8 0-4 1-2 0 2 0-8 0 9 0-3 1-1 0-1 0 2 0-1 0-8 0 7 0 8 1-7 0-3 0 6 0-8 0 2 0-4 1 1 0-3 1 3 0 5 1-5 0 4 0 7 0-1 1-1 0-10 0 12 0-7 0-7 0 11 1-7 0 4 0 5 0-5 0 1 1-1 0 4 0 3 0-13 1 0 1 2 0 3 0 0 0-6 1 6 0 2 2-2 1-5 0 3 0-4 1 8 0 5 0-7 1-1 1 6 0 2 1-1 0-1 1 0 0-11 0 13 0-3 1 4 0-10 0 6 1-2 0 5 3-11 2 2 1-4 0 9 0-7 0 9 2 4 0-14 0 6 1-7 1 12 1-1 0-1 0-4 1-1 1-2 0 0 0 11 2-2 1 1 1-6 0 1 2-8 1 8 1-4 1 11 0-13 0 7 0-6 0-3 0 12 1-3 0 3 1-3 0-5 1 7 0-2 0 1 1-1 0-9 0 3 2 11 1-10 0 5 2-2 1 5 0 0 2 3 1-11 1 6 2-7 0-3 0 13 0-13 1 5 3-5 1 6 0 4 1-8 2 7 3-10 1 13 0-9 11 4 2-2 13-6 0 0 4 10 2-5 0 2 3-6 1 12 1-9 2 10 7-1 5-11 6-1 37 0 4 2 27 6 33-8-83 26-25-2 0-1-1 2-10 6-11-9 0-2-6-2 0-1-5 13 0-9-6-5-1 10-5-4-3-6 0 13-1-12-1-2 0 12 0-5 0-4-4-2-1 8 0-9-1 14-1-12-1 1-1-3 0 12 0 2 0-7-2-7-1 15 0-12-1 10-1-2 0-4-1 8 0-11-1 4-1 0-2 6-2-5-1-3-1 9-2-9 0 9 0-15-1 4-3 9-1-8 0 10-1-8-1-3-1 6 0 4 0-8-2-5-1 14 0-5 0-2 0 1-1-2 0 2-1-8-1 13 0 2 0-4 0-3 0-5-1 2-1-3 0 3-1 0 0 7-1-8 0 7-1-10-1 4 0 7 0-1-2-11 0 5-1-4 0 6 0-7 0 1-1 1-1 2 0 5-1-2 0-3-1 0 0 6 0 3-1 1-1-11 0 6-2-7-1 0 0 5-1-8 0 15 0-9 0 8-1-1 0-1 0-4-1-3 0-4-1 1 0 4 0 3 0-5-1 4 0 0 0-6 0 9-1 0 0-3 0 3-1-7-1 3 0 7 0-4-1 1 0-9 0 6 0 0 0-5 0 7 0 3 0-11 0 11 0-6-1 5 0-10 0 2 0 6-1-8 0 8 0 4 0-3 0 2 0-6 0-3 0 12-1-12 0 3 0 5 0-11 0 3 0 5-1 3 0-12-1 10 0-4-1 0 0 4 0 1 0-6-1 2 0 0 0 3-1-9 0 1-1 10 0-11 0 8-1 2 0 2 0-6 0-5 0 9 0-3 0-7 0 5-1-2 0 1 0 9 0-10 0 0-1 7 0 5 0-10-1 3 0 3-1-5 0-3 0 1-1 8 0-13 0 5 0 8 0-4 0-5-1-2 0 8 0-1 0-8 0 13 0-9 0 9-1-13 0 14 0-5 0-3 0-5-1 0 0 6 0 1 0-2 0 1 0-3 0 3-1-4 0 11 0-1 0 1 0-7-1 7 0-3 0-10 0 8 0-7-1 12 0-6 0 6 0-8 0 8-1-7 0-3 0-3 0 14 0-1 0-7 0-7 0 0-1 4 0 1 0 5 0-1 0 4 0-14 0 12 0 2-1-2 0-5 0-4 0-2 0 11 0-5 0 7 0-4-1 0 0-1 0 0 0-6 0 10 0-8 0 6-1 2 0-5 0 6 0-10 0 7 0 3 0-8 0-1 0 0 0-3 0 4 0-3 0 0-1 13 0-13 0 1 0 3 0 9 0-8 0-2-1 7 0-11 0 13 0-3 0-3 0-5-1-4 0 8 0-6 0 0 0-1 0 7 0 2-1-5 0 9 0 0 0-14 0 14 0 0 0-3-1-6 0 3 0-4 0 6-1-5 0 8 0-3 0 1 0 1 0-10-1 5 0 9 0-1 0-4 0-8 0 8-1-3 0-1 0-4 0 1-1-2 0 7 0-3 0-2 0-3-1 1 0 8 0 5-1-6 0 0 0-4 0 1 0 0 0-1 0 4 0 2-1-9 0 13 0-12 0 8 0-6 0 1 0 2 0-2 0-2-1 0 0 11 0-14 0 3 0 2 0 3-1-6 0 11 0-6 0-3 0-1 0 1-1 9 0-10 0-3 0 4 0 1 0 6-1-12 0 14 0 0 0-3-1-10 0 15 0-3 0-7-1 3 0 1 0 5 0 1 0-2 0-11 0 12-1-14 0 10 0-6 0-4 0 10 0 4 0 0 0-6 0 3-1-6 0-5 0 12 0-7 0-6 0 12 0-1 0 0-1-5 0 5 0-10 0 9 0 3 0-4 0-8 0 2 0-3 0 0-1 0 0 3-1-2 0 0 0 10 0-1-1 0 0-2 0 3 0-1 0-3-1 0 0 0 0 0 0 1-1 1 0-4 0-1 0 0-1-2 0 7 0-6 0 3 0-4 0 0 0 5 0 1-1-7 0 5 0-5 0 0-1 1 0 3 0-4 0 4 0-3-1 2 0 1 0-2 0-1-2 0 0 1-1-2 0 1-1 1-2-2-1 0-101 2 0 4-1-3 0-3 0 5 0-4 0 4-1 0 0-6-1 5-1-1 0 0 0-3-1 6 0-4 0 1 0 4-1-1 0-4 0 11-1-1 0-5 0 5 0 0 0-1-1-5 0 9 0-8 0-2 0-6 0 12 0 0 0-12-1 11 0-8 0 7 0-1 0 1 0 5 0-11 0 12 0-5-1-5 0 6 0 2-2-7 0 3 0 5 0-3 0-1-1-10 0 7 0-5 0 13-1-8 0 3 0-11-1 1 0 8 0 4-1-8 0 9 0-2 0-5-2 4 0-10 0 13 0-14 0 10 0-5 0 6 0-7-1 6 0 6 0-3 0 3 0-16 0 1-1 2 0 8-1-5-1-6 0 4 0 4-1 4 0-1 0-5 0 6-1 3-1-5 0-8 0 1-1 3 0 3-1 3-1-10 0 13 0-1 0-2-6-7-2 10-1-12-3 6-4 2-4-4-1 4-4 2 0-2-8 2-3-1-1 0 0 1 0-5 0-1 0 3-1 3 0-2 0-11 0 10-8 1-8 19 3 0 5 1 0-11 2 4 4 8 1-2 0 0 0 1 1-7 0-4 1 0 0 11 0-3 0-10 2 8 6 1 7-6 3 5 0-5 0 0 3 9 1 0 0-10 0-3 1 4 0 4 1 4 1-5 1 5 1-5 2 3 1 3 0-6 1 2 1-7 1 13 1-10 0-5 1 11 0 1 0-9 1-4 0 1 0 13 0-9 1-4 0 2 0 13 0-4 1-3 0-4 1 3 0 5 0 1 0 2 1-10 0 8 0-7 0-6 0 15 0-12 0 10 1-1 0-9 0 11 0-6 0 3 0 1 1 0 0-2 1-8 0 9 0 1 0-7 1 10 0-3 0 1 0-7 0-4 0 7 0-8 0 9 1-4 0-3 0-3 0 14 1-11 0 1 0-4 0 9 0-7 0 5 0-7 0 4 1 3 0-8 0 13 0-3 0-9 0 6 0 7 1 1 0-12 0-1 0 14 0-6 0-4 0 3 0 6 1-7 0 2 1-7 1 0 0-2 0 3 0-3 4 1 0 0 0-1 104 15 1 0 4-1 0 1 3-3 1 2 1-2 0 3 0-2 1 0 0 2 1-2 0 1 1-4 0 1 1 3 0-3 0 1 0 0 0 0 1-2 1 0 0-2 0 2 0 2 0-2 0-1 1 5 0-1 1-1 0 0 0-4 1 2 0 0 1 3 0-3 0 0 1-1 0 4 0 1 1-2 0-3 1 2 0-3 0 3 0-2 1-1 0 6 0-3 1 0 0-2 0 1 0 0 0 3 1-4 0-9 0 11 1 3 0-3 0 4 1-3 0 2 0-7 0-8 1 2 0 14 0-10 0 2 0 0 0 0 0-2 1 8 0-7 0 6 0-4 0 2 1-5 0 1 0 4 0-10 1 12 0-13 0 11 0-10 0 9 0-4 0 0 0-1 1-1 0 12 1-13 0 11 0-7 0-7 0 1 0 12 0-4 1-8 0 14 0-12 0 3 0-1 0 2 0-2 1 7 0-6 1 7 0-7 0-4 0 0 0 0 0 6 0-6 0 3 1 1 0-1 0 9 0-3 0-11 0 10 0-2 1-8 0 3 0-1 0 10 0-11 0 7 1-6 0 4 0-1 1 10 0-14 0 11 0-6 0 1 1 2 0-3 0 2 0-6 1 10 0 1 0 1 0-5 0-5 0 9 0 1 1-7 0 4 0-9 0 5 1-2 0 1 0 3 0-3 0 5 1-1 0-4 0-3 0 11 0 1 0-3 0-3 1-2 0 5 0 0 0-3 0 6 0-2 0-7 0-5 0 4 1-1 0 7 1 3 0-12 0 10 0-6 0-4 0-1 0 10 1-8 0 4 1-1 0-5 0 0 0 4 0 3 1 0 0-7 0 3 1 0 0-1 0 0 0 7 0-7 0 1 0-1 0 12 1-10 0 7 0 4 0-14 0-2 1 9 0-7 0 4 0-1 0 11 1-2 0-10 0 6 0-9 0 8 1 5 0-8 0-6 3 1 0 6 0 6 1-5 0 2 0 5 0-11 1-3 0 2 0 9 0-9 1 7 0 3 0-13 1 4 1 1 0-4 0 2 0 1 1 9 0-11 0 8 0-7 1 2 0 7 1 2 1-6 0-3 0-5 0 9 0-7 1 2 0 2 1-1 0 0 0 2 0-1 1 3 0 3 0-6 0 2 2-2 1 3 0-6 1 3 0 9 1-3 1-3 0-4 1 10 0-10 0 4 1-7 0 8 0-2 1-6 1 1 0 9 0-1 1 4 0-14 0 3 0 9 1-8 1-2 0 5 3-6 0 0 0 0 1 9 0-11 1 10 0-5 1 6 4 4 0-2 1-10 2 13 1-14 0 3 3-3 1 6 0 0 5 6 0-4 2-7 1 4 2-4 2 7 1 1 2 2 3-7 3-4 1 1 0 11 1-1 2 0 1 2 2 1 0-13 2-1 4 4 0 8 2-8 7 6 5-8 5 3 4-1 6 5 5-7 7 5 2 7-5 0-21 10-6-6-15 8-1-4-9 8-3-14-1-2-2 8-1 4-6 1-9-5-2 1-1 4-1-11-1 10-1 2-1-6-1-2-1-6-1 6-1-3 0-3-2 7-1-7 0 10-1-6 0 12 0-14-1 10-2-9 0-3 0 8-1-3 0-3 0 0-1 0-4-2-1 11-1-7-1 6 0-3 0-4-4 9 0-7 0-5 0 8-1-6 0 0 0-2-1 7 0 4-3-7-1 1-2 11-1-4 0-11-1 0 0 0 0 11 0-8 0 11 0-13-2 0 0 3-1-2 0 10-1-9 0-2-1 0 0 2-1 11-2-13 0-1-1 0 0 13-1-7 0 3 0-7 0-1 0 3-2-1 0-3 0 7-1-6-1 0 0 10 0 0 0-9-2 1 0-1 0-2 0 13-1-9 0-3 0 0 0-2 0 16-1-7 0 1 0 0-2-9 0-1-1 2 0 3 0 6 0-3 0-5 0 6-1-6 0 9-1 4 0-3 0-11 0-1 0 1 0 1 0 11 0-7-1 9 0-10 0-3 0 0 0 2 0 1-1 2 0-6 0 1 0 6-1-7 0 0 0 5 0 5 0-10 0 11-1-5 0-4 0 0 0 0 0 9-1-1 0-6-1 9 0-1 0-2-1-2 0-9 0 13 0-14-1 8 0 5 0-1 0-6-1-2 0-2 0 12 0-8 0 3 0-4 0 7-1 1 0-4-1-6 0 3-1-2 0-2 0 2 0 1 0 11-1-4 0 2 0-3 0-8 0 0 0-1 0 9 0-3 0-1-1-5 0-1 0 3 0 3 0 4 0 2 0 0-1-11 0 3 0-3 0 8 0-7 0 7-1-7 0-3 0 12-1-6 0 8 0-11 0 1 0-1 0 5 0-3-1 5 0-1-1-2 0-1 0-5 0 6 0 1 0-3 0 10-1-1-1-10 0-2 0 10 0 1-1-9 0 1 0-3 0-1 0 11 0-1 0-3 0 5-1-7-1-4 0 6 0 0 0 8 0-10 0 1-1-7 0 15 0-9 0-3 0 11-1-9 0 7 0-1 0 4 0-8 0 7-1-13 0 10 0 2 0-8 0 8 0-5 0 8-1-15 0 13 0-7 0 8 0-9 0-4-1 10 0-2 0-6 0-3 0 13 0-3 0-7 0-4-1 6 0-6 0 9-1-6 0 5 0-4 0 0 0 7 0 1 0 1 0-5 0 5 0-5 0 7 0-12-1 0 0 12 0-13 0 4 0 10 0-1 0-15-1 14 0-11-1 6 0-3 0-5 0 11 0-12 0 2-1 12 0-2-1-5 0 7 0 0 0 2 0-11 0 6 0 0 0-1-1-10 0 3 0 3 0-2 0 4 0 4 0-4 0 4 0 1-1-1 0-10 0 12 0-8 0 0 0 8 0-2 0-5 0 3 0-3 0-4-1 7 0-2 0 6 0-12 0 10-1 4 0-15 0 4 0 2 0 8 0-12-1 4 0-3 0 6-1-1 0 3 0 2 0-2-1 0-1 0 0 1 0 2 0-2-1 1 0-1-1 3 0-3 0 1-1 1 0-1-1 1 0 0-1 1 0-1-1 0 0-1-1 1-1-1 0 0-2 1 0-1 0-1 0 3-2-3 0 0-1-2 0-7 0-1 0 9 0-6-1 3 0-3 0 6 0-2 0-5-1-2 0 11 0-3 0-2 0 3 0-1 0 5 0-11 0 7 0 3-1-2 0-1 0-3 0-5 0 2-1 5 0-9 0 10 0 0-1 0 0 2 0 2 0-8 0-4-1-1-1 5 0 5 0-9 0 10 0-10 0-1 0 2 0-1-1 2 0 1 0-3 0 8 0-6 0 2 0 5 0-7 0 9 0-7-1-2 0 3 0-5 0 1 0-1 0 12 0-9-1 8 0-9 0 8 0-4 0-5 0 10 0-9-1 4 0-1 0-3 0 3 0-1 0 2 0-4 0 5-1-4-2 8 0-10-1-3 0 5 0-2 0-1 0 1-1 2 0-6 0 1 0 0-1 3-1 2 0-2 0-1 0 1 0-2 0-3-1 8 0 0-1-6 0 0 0 0 0 6-1 2 0-2-1 3 0-4 0-2 0-1-1 5 0-2 0-2 0-2 0 1 0-2-1-1 0 5 0 1 0-3-1-1 0 4 0 1 0-2-1 2-6 7-1 0-9-12 0 3 0-1-1 1 0 1 0 1 0-5 0 0-1-2-1 1 0 2 0 4-1 1 0-6 0 2 0-5 0 6 0 4-1-10-1 8 0 1 0-6-1 0 0 4 0-4 0 3-1 3 0-3 0-2 0 3 0-6 0 0 0 8-1-7 0 5-1-4 0-1 0 6-39-7 0 0-1 1 0-1-1 4 0-3 0 1-1-2 0 14 0 0 0-5-1-3 0 4 0 5 0-4 0-8 0 12-1-2 0-8 0 7 0-1 0 2 0-1 0-8 0 0 0 1 0 2-1 2 0-8 0 8 0-4 0 0-1 10 0-9 0-5 0 10 0-9 0-2-1 15 0-12 0-3 0 10-1 5 0-12 0 4-1-5 0-2 0 14 0 0-1-14 0 3-2 3 0-4 0-2 0 9 0-1-1-6 0 12 0-11 0-3 0 11-2-2-1 0 0-3 0 1-1 4-1 3-1-6-1-2 0 6-1 1-1-10 0-2-1 14-1-1 0-6-1 6 0-10 0 4-1-6 0 9-1-10 0 5-1-1-1 2 0-6-1 9-1-4-1 9 0-3-1 0 0-3-1 1-1-6-1 3-1 6-1-11-1 3-1 2-1-6 0 9 0-8-5 9 0-8 0 2 0 4-1-3 0 6 0-8 0 4 0-5 0-2 0 13 0-4 0-1-1-4 0 0 0 0 0-1-2 7-1-2-1-2-2 4 0 0-12-3-4-2-1 0-8-1-4 8-2 2-5 13 1-7 9 3 3 5 4-8 3-1 5-4 0 7 2-2 1 1 0 1 1-4 1 9 2-2 1 1 3-6 3 6 2-6 0 7 0-12 1 13 1-2 1 3 0-3 0-3 0 1 0-6 1 6 1-7 1 0 1 13 1-5 0-6 1 7 1-6 0 5 0 4 1-14 1 5 0-2 1-3 0 10 0 1 2-5 0 9 2-11 0 2 4-6 1 14 0 0 0-4 1 3 1 1 0-7 0 5 0-11 0 11 1-9 2-4 1 2 0 10 0-4 0 1 1 0 0 7 1-6 0-10 0 1 1 12 0-2 0 4 1-2 1-5 0-4 0-1 1 6 0 1 0-2 0 2 0 3 1-12 1 14 0 1 1-13 0-2 0 9 0-6 0-2 0-1 0 14 0-2 0-6 1 3 0-8 1 5 0 4 0-8 0 8 1-4 0 1 1-8 0 9 0 1 1-7 0 10 0-8 1 11 0-13 0 11 0-13 0 10 0 5 1-2 0-4 1-3 0-1 0-3 0 6 0-7 0 11 0-1 1-8 0-3 0 7 0 2 0 3 0-2 1 0 0-8 0 9 0-5 0 7 0-6 0 6 0-6 0-1 0-1 1 8 0-8 0-5 0 1 0 6 0 7 0-9 1-1 0 2 0-2 1 9 0 2 0-2 1 0 6 1 1 1 0-3 0 2 1 0 0-2 0-1 1 2 1-2 0 2 0-1 1-1 0 0 1 0 0 4 1 0 1-1 0-1 0 1 1-2 0 1 9 2 16-1 1 1 1 0 0-2 0 0 3 0 0-1 0 1 1-1 0 2 1-5 0 4 0-7 0 1 0 5 0 3 0-7 1 7 0-7 0 5 1 0 0-3 0 5 0-3 0-3 0-3 0 5 0 1 0-1 0 0 1-7 0 0 0 1 0-2 1 8 0-3 0-4 0 10 1-10 0 8 0-9 0 7 0-8 0-1 0 1 0 2 0-3 1 7 0-3 0 7 0-12 1 2 0 3 0 9 0 0 0-9 0 4 0 1 0 1 0-3 0-4 1 6 0 1 0-7 0 10 0-12 0 1 1 11 0-6 0 4 0-3 0-1 1-3 0 8 0 1 0-2 0-13 0 13 1-9 0 11 0-9 0 10 0-15 0 5 0 4 1-6 0 4 0-7 0 7 0-7 0 12 0-5 1 0 0-6 0 8 0-9 0 1 0-1 1 10 0-2 0-5 0 1 0-2 0 8 1-7 0 3 0 6 0-3 0 0 0 1 1 2 0-1 0-2 0-6 1 10 0-8 0 9 0 0 0 0 0 0 0-12 1 1 0 0 0 4 0 1 0 2 0-8 1 2 0 8 0 0 0 2 0-10 0 8 1-7 0-2 0 0 0 9 0-1 0 1 1 3 0-12 0 9 0-9 1 4 0 1 0-3 0-2 0 10 0-5 1 2 0-4 0 6 0 0 0-1 0-5 0-4 0 11 1-8 0 6 0-5 0 4 0 1 1-3 0 3 0 4 0-11 0 11 0-3 1 3 0-2 1-4 0 1 0 0 1-3 0 7 0-6 0 2 0 1 1 3 0-6 0 5 0-6 0 0 0 5 0-11 0 5 0-7 1 2 0 1 0-1 0 8 0 1 0-2 0-2 0-5 0 1 0 2 0 0 1 1 0 4 0-10 0 4 1 0 0 0 0 4 0 1 0 4 0-10 0 3 1-2 1 5 0 2 0-4 0 1 0 0 1 4 0-11 0 7 0 0 0 0 1-8 0 2 0 9 0-7 1 8 0-7 0 4 0-8 0 13 0-11 1-1 0 3 0 10 0-9 0 0 0-2 0 9 1-3 0-2 0-7 1 6 0-1 0-5 0 8 0-1 0 3 1-6 0 5 0-3 0 8 0-12 1 6 0-6 0 5 0-3 0 10 0-11 0 3 1-6 0 10 0 5 0-9 0-7 0 13 0-12 1 6 0 0 0-2 1-2 0 1 0-4 1 2 0 2 0 2 0 5 1 1 0-5 0 0 0 8 0-8 0-6 1 1 1 2 0 12 0-16 0 0 1 10 0-7 0 5 1-7 0 2 0 0 0 12 0-5 0 0 1 1 0-7 0 4 0-2 0 7 1-12 0 11 0-4 1 3 0-10 0 10 1-11 1 5 0 0 0 1 0-2 2-2 1-2 0 2 0-1 0 10 0 0 1-7 0 4 1 5 0-11 0 10 1-12 0 1 1 0 2 5 1-1 0 0 1 2 0-6 0 2 1 2 0 11 0-10 1 7 0-8 1-2 1 1 0 1 0-1 0 0 0-3 1 1 0 2 0 8 0-2 1-3 0 3 2-8 0 1 0 9 1-9 0 0 1 8 0-10 1 8 0-4 1-2 2 2 1 3 1-7 0 4 4-3 0 6 1-8 2 9 1-7 1-1 0 2 1-2 2 2 0-1 2 5 0 3 0-2 1-7 0-1 1 5 4 4 0-5 3-3 4 0 2 1 1 8 1-8 5 4 1 4 7 2 12-4 0-4 3 0 3 3 2 3 3-2 13-5 1-2 4-1 16 9 5-3-35 20-78-3-5-5-12 5-7-5-3 0 0 8-4-7-2 3 0-4-1 5 0-7-2 12-1-9-3 0-2 1 0 4-1 5 0-12-1 8 0-2-2-5 0 6-1-6 0 7-1 0 0 2-1-8-1 2-1 3 0-7-1 9 0-8 0 1 0 0-1 6 0-3-1-6 0 13 0-5-1-6 0-1 0 0-1 6 0-7 0 9-1-9-1 1-2 0 0 12 0-12 0 2 0 3-1 8 0-8 0-3 0-3 0 1-1 7 0-5 0-2 0-1-1 5 0 10-1-13 0 14 0-7-1 3 0-2 0-5 0 1-1 7 0-11 0 6 0 2-2-10 0 1 0 2 0 4-1-4 0 5 0-1 0-2 0 4-1-7 0 6 0 5 0-7-1 4 0-3 0 8 0-10-1-2-1-3 0 8 0-5 0 8 0-7 0 3-1 2 0-6 0 9 0-2-1-6 0 7-1-6 0 5 0-6 0 6-1 6 0-6 0 0 0-4-1 2 0-7 0 1 0 2-1 1 0 1-1-2 0 3 0-6 0-1 0 6 0-1-1-5 0 2 0 9 0 5 0-13-1 3 0 5 0-9 0 6-1 7 0-9 0 3 0-4-1 4 0 3 0-4 0 6 0-7 0 0 0-1-1 10 0-10 0 7-1-4 0-2-1 1 0 1 0-3-1 6 0-3 0 4-1-5 0 1 0 2 0 1-1-3 0 3 0-4 0-3-1 11 0-10 0 5 0 3-1-7 0 0-1 2 0 4 0-9 0-2 0 2 0 12-1-5 0-10 0 1 0 3 0 2 0 2 0 7 0-9 0 9-1-11-1 2 0 4 0-3-1-4 0 10 0-9 0 6 0 5 0-7-1-7 0 11 0-6 0-6 0 2 0 5 0-6 0 10 0-3-1-9 0 11 0-1-1-1 0-5 0 1 0 11-1-3 0-11 0 1-1 6 0 3 0-7 0 1 0 1 0-4 0 0 0 4 0 1 0-4 0 3-1 7 0-5 0-1 0-6 0 0 0 6 0 3-1-1 0-1 0 2 0 4-1-3 0-7 0 2 0 5-1-3 0 1 0 3 0-7-1 5 0-8 0 12 0-11 0 11 0-7 0-6-1 4 0-3 0 0 0 1 0-1 0-1-1 4 0 5 0 3 0-1 0-3 0 6 0-2 0-11 0 13-1-3 0-5 0-4 0 0 0 9 0 1 0 2 0-8-1-6 0 12 0-9 0 7 0-3 0-3 0 0 0 7-1-3 0-5 0 0 0 0 0 8 0 0-1-1 0 3 0-7 0-5 0 9 0-5 0 4 0-2-1 1 0 2 0-1 0-7 0 12 0-9-1 2 0-9 0 15 0 1 0-6 0-3 0-3-1 11 0-1 0-11 0 3 0-1 0-4-1 14 0-4 0 3 0-10 0 0 0 10 0-13-1 3 0-2 0 3 0 11 0-11 0-4-1 9 0-8 0 3 0 5 0-5 0 8 0-2-1 0 0-3 0-3 0 5 0 4 0-1 0-8 0 5 0 0 0 4 0-5 0-3-1 3 0 0 0-4 0 6-1 2 0-1-1 4 0-1 0-12 0 8-1 1 0-1 0 4 0-5 0 4 0-12 0 11-1-3 0-2-1 2 0 1 0 4 0-7 0 0 0 0 0 7 0-5-1 5 0 1 0-2 0-14 0 6 0 2 0 2 0-7-1 3 0-1 0 2 0-3 0-4 0 7-1 7 0-6 0 4 0-4 0 2-1-7 0 10-1-11 0 3 0-3 0 3 0-4 0 3 0 5 0-5 0 0-1-2 0-2 0 0-1 10 0-7 0 4-1-6 0 1 0-2 0 8-1-3 0-1 0 4 0-1-1 0 0-6 0 10 0 2 0-12 0-1-1 11 0 3 0-4 0-3-1 7-1-7 0-6-2 5 0 2-1 0 0 1-4-3 0-3-1-1 0-2-1 6 0 2-1-7-1 14-2-11 0-1-2 3-2-4-1 1 0-3-3 14-3-9-2 9-3-13-2 4 0 3-1-2 0 9 0-2 0-10-1 1 0-3 0 11 0-6 0-5-1 0 0 1 0 5-4-3-2 8-1 2-4-7-3 8 0 0-1-5-8-8-10 3-10 11 13 2 21 7 4 1 4-9 1 0 0 0 0 10 0-9 1 6 0-8 0 10 0 1 0-10 2 0 9 11 0-9 6 6 1-5 1-3 1-1 1 3 3-2 2 8 1 0 1 0 7-5 3-1 1 3 1-2 0 2 0-2 1 2 0 0 1-2 1-1 0 4 1-6 2 7 0-7 0-1 1 2 3 6 0-2 0-6 2 3 1-2 0 11 0-5 0-4 0-1 2-2 1 3 0 0 0-1 1-2 0 1 1 0 0 0 1 7 0-3 0 6 2-10 0 3 1 4 0-2 0 4 0-9 0 3 1-4 0 2 1 1 0 4 0-2 0-3 1 4 1-5 0 1 1 10 0-7 1 0 1 4 0-8 1-1 1 1 0 1 1-1 0 2 0 5 2-6 1-2 1 5 1 1 0-4 0 10 2-10 1 1 0-3 1 3 1 3 1-4 0 0 0 3 1-3 0-1 2 12 1-13 0 12 1-12 0 10 2-3 1-7 3 4 1-1 2 0 4-1 0-1 0 7 0-2 2 3 3 4 1-9 1-3 3 5 3-6 4 4 9-2 1 1-64 15-5 0-2 3-10-4-5 9-9-8" fill="none" stroke="none" marker-start="url(#m)" marker-mid="url(#m)" marker-end="url(#m)"/></g></g><line x1="45.52" y1="504.78" x2="325.98" y2="296.42" stroke="#0e820e" stroke-width="1.3"/><rect x="31.5" y="286" width="308.5" height="229.2" fill="none" stroke="#000" stroke-width="0.75"/><path d="M41.73 515.2v3M31.5 507.6h-3M104.9 515.2v3M31.5 460.67h-3M168.06 515.2v3M31.5 413.74h-3M231.23 515.2v3M31.5 366.81h-3M294.39 515.2v3M31.5 319.88h-3" stroke="#000" stroke-width="0.75" fill="none"/><g font-family="DejaVu Sans" font-size="8.7" fill="#222"><text x="41.73" y="527.8" text-anchor="middle">50</text><text x="25.6" y="510.8" text-anchor="end">50</text><text x="104.9" y="527.8" text-anchor="middle">100</text><text x="25.6" y="463.87" text-anchor="end">100</text><text x="168.06" y="527.8" text-anchor="middle">150</text><text x="25.6" y="416.94" text-anchor="end">150</text><text x="231.23" y="527.8" text-anchor="middle">200</text><text x="25.6" y="370.01" text-anchor="end">200</text><text x="294.39" y="527.8" text-anchor="middle">250</text><text x="25.6" y="323.08" text-anchor="end">250</text><text x="185.75" y="536.5" text-anchor="middle">actual glucose (mg/dL)</text><text transform="translate(6.6 400.6) rotate(-90)" text-anchor="middle">predicted glucose (mg/dL)</text></g><text x="185.75" y="283.4" text-anchor="middle" font-family="DejaVu Sans" font-size="10.38" fill="#222">Glucose Estimation of future 30 mins</text>
<g transform="translate(374.7 286.0)"><path d="M134 135 135 137 138 137 139 138 139 140 140 140 141 138 143 138 143 137 138 137 136 135ZM138 147 136 147 131 142 131 139 129 137 127 137 124 135 123 133 122 133 119 138 117 137 117 134 116 134 116 136 114 138 110 138 109 137 109 135 105 135 104 136 102 135 98 135 96 138 91 138 89 135 87 135 86 137 90 137 93 143 91 144 89 141 85 141 85 142 83 143 83 147 82 148 80 148 79 146 75 147 74 151 73 152 71 152 70 154 68 154 68 156 67 157 65 157 66 161 65 162 63 162 60 166 57 167 58 172 57 173 57 176 55 178 55 180 58 182 58 184 60 184 61 185 60 187 58 187 58 189 60 189 66 192 69 192 69 189 70 188 75 188 76 186 82 181 84 182 84 183 82 184 82 187 83 187 85 185 85 183 86 182 89 184 91 184 90 181 92 179 96 182 96 178 97 177 99 177 101 182 103 182 105 179 109 179 109 177 111 175 115 176 116 171 117 170 118 170 119 172 122 172 124 169 127 170 127 168 128 167 130 167 128 164 130 162 134 163 134 162 132 162 131 161 133 157 133 155 136 153 138 154 140 153 140 152 138 152 137 151ZM65 189 67 188 68 190 66 191ZM61 179 63 178 64 180 62 181ZM77 178 78 177 80 177 81 179 80 180 78 180ZM100 172 103 170 105 173 104 174 101 174ZM116 164 117 163 122 164 123 166 121 168 119 168ZM84 143 86 142 87 144 85 145ZM112 142 114 141 115 143 113 144ZM103 137 105 136 106 138 104 139Z" fill="#1f77b4"/><g transform="scale(.5)"><path d="M305 72l3 60 36-4 149 21-239 8-61-9-39 14 19 7 15 2 2-2 4 4 26-11 17 3 20 0 20 1 38 6 20 0 20-11 32 1 148 12 20 15-16-11-105 14-168-5-13-1-11-3-3 8-18-6-8 0-17-5 0 7-17-1-20-10-3 6-70 22 40-4 32 4 10-10 12 8 7-3 3 6 1-13 1 15 0-11 5 2 5 5 9-2 6-1 6 8 2-8 4 7 2-8 8 0 9-3 1 3 2-6 9 12 11-12 14 4 7 0 20 10 7-4 13-9 0 3 2 10 38-1 19-8 36-5 2 12 50-4 1-5 4 4 5 1 17 4 17-9 63 25-29-6-4-7-22 4-2 0-25 0-31-3-6 1-19 5-10 6-4 2-5-7-19-2-36 6-6-2-4-2-9 5-7 1-21-12 0 3-2 9-6-7-6 3-12 3-3-2-2 3-2-10-5 11-7-3-5-8-1 10-6 0-4-1-2-4 0-7-9 6-6 1 0-3-6-5-6 4-1 1-1 9 0-4-2 1-3-11-5 5-3-6-1 9-3 4-1 1-2 0 0-1-4-13-1 11-2 0-2 0 0-11-1 15-8-5-1-1-8-4-3 8-4-9-11 6-19 5-8-3-23 0-13-2 6 20 39-10 2 10 3 0 4-8 2-3 0-1 2 13 1 1 10-2 0-7 1 0 4 7 1-6 0 6 2-2 1-3 0 4 2-7 2-2 0 9 1-2 0-2 0 0 1 2 0-9 1 0 1 11 2-11 0 11 1 0 2-11 0 13 5-2 1-4 1 0 1-5 0 8 1 4 0-2 1-7 2 8 0 0 0-9 1 7 2 1 0-1 1-2 2 3 2-6 1 1 1 1 0 2 1 3 1-12 1 12 1-1 0 2 0-6 2 0 1 4 0-6 0 8 1-3 3-10 0 9 0-7 0 6 1-5 0 4 1 1 1 2 1-2 5 0 1-1 1-3 2-5 1 11 2 1 0-8 1-2 1 9 0-6 2 1 0 5 6-1 1-1 1 1 2-1 1-3 1 7 1-8 1 2 1 4 0-10 1 11 0-6 2 4 0-5 0-2 0 5 1 0 1-5 0 1 1 10 0-14 1 9 0 3 2-1 2-3 0-9 1 12 1-10 3 5 1 7 2-4 0-1 2-7 1 6 10 5 0-1 1-2 4 4 0-12 4 8 2 3 1-4 3-5 3-1 1 8 0-10 0 12 1 0 1-10 0 4 1-1 0-3 1 3 1 5 0-11 5 3 1 11 1-6 5 3 7 3 3-3 2-2 5 1 3 4 0-12 1 7 8 4 1-8 2-3 9 8 5-10 5 3 10 9 7-2 8 4 9-13 14 6 7-6 1 11 16-13 2 10 56-1 24 6 48 14-107 3-3-6-2-7-11-2-28 11-4 2-7-7 0 1-1-5-10 13-3-10-6-2-9 9-2-6-3-5-9 9-3 1-1-4-2 0-10 3-3-6-3 6-2-5-8 6-4-5-1-4-2 0-2 9-2 4-1-1 0-11-2 2 0-2 0-3-2 3 0 4-2 2 0-2-1-5 0 10 0-1-1-7-1 1-2 6-1-9-3 8 0-2-1 7-1-4-1-1-1-1 0-1-1 0-1 2 0 4-1-14-1 14 0-8-1-5-3 11 0-10-2-1-4-2 0 7-1-3 0-3-2 15-1-6-1-3 0 3 0-7-1 8 0-3 0-7-1 11-1 2-1 0 0-13-1 8 0 0-2-3 0-2 0 12 0-1 0-9 0 1-3 4 0 1-1-4-1 3-2 0 0-11-1 11 0-3-1-4 0 8 0 2-1-11 0 13-1-2-1-12 0 0 0 11 0 1 0 1-1-15 0 9-3-1 0-6 0 7 0 4 0-5-1 7-1-13 0 0 0 13-1-9-1 0-1 6 0 1 0-11-2 2 0 5 0-4 0 8-1-8-1 9 0-13-1 7 0 0 0-4 0 4 0-3-1-3 0 13 0-5-1 3 0 0 0-13 0 8-1 7 0-1-1-12 0 10-1-4 0-3 0 8-1-6 0 0-1 7 0-1-1 1-1-13-1 15 0-15-1 12 0-10-2 7 0 4 0-6-1-8 0 4-1 4 0-3 0 4 0-1 0-1-1 6-2-6 0-2-2 4 0 7 0-9-1 7-1-7-1 7 0-6 0 4-2 0 0-2 0-10 0 6 0 7 0-8 0 5 0 5-1-7 0-6 0 9-3 2 0-5 0 6 0 0 0-3-1 1 0-3-1-6-1 4 0 7-1-3 0-3 0 3-1-4 0-1 0 10-1-10 0 3-1-8-1 10 0-2 0 0 0-5 0 0 0 10-1-8 0 9-1-6 0-1 0-2 0 7 0-12-1 12 0 0 0-10 0 3 0 9 0-2-1-5 0-1 0-1-1-2 0-1-1 8 0-8-1 6 0 6-1-9 0 9-1-2 0 0 0-5 0 3 0-8-2 10 0-11 0 12 0-1-1-7 0-3 0 12 0-13 0 5-1-6 0 12 0-1 0 0-1 1 0-13 0 12 0-3 0 0-1 5 0-4 0-8-1 6 0 4-1 0 0-12 0 7 0 7-1 0 0-8 0-6 0 1 0 2-1 11-2-4 0-7 0 5 0-2-1 4-1-6 0 5 0 6-1-5 0-2-1 4-1-9 0 9-1 4-1-7-1-2-1-6 0 14 0-14-1 8 0-3 0 1-1-5 0 11-1-6 0 7 0-9-2 7 0-12 0 11-1 0-1 5 0-10-1-4 0 9-1 3 0 0 0-7 0 5 0 2 0 2 0-6-1 5 0-14 0 7 0-2 0-4-1-1 0 13-1-7 0 7-1-1 0 0 0 1 0-3 0-2-1 3 0 3 0-10 0-3 0 10-1 4 0-5 0 3-1-9-1 6 0 3 0-6-1 3 0-8 0 7 0 1-1 2-1 0 0-11-1 12 0 0 0-8-2 2 0 8 0-8 0 1 0-6-2-2-2 0 0 14 0-12-1 10 0-5 0 8-1-9 0 9 0-8 0 2-1 1 0-3-1-6 0 1-1 10 0-1 0-3-1 5-4-6-1-1-1 7 0 2-2-2 0-5-4-3-4 6-1 1 0-2-3 5-1-1-7 1-12-6-5-5-39 11 9 7 36-6 7 0 1 15 1-5 2 0 1-10 0 14 6-2 2-4 0 1 0-6 1-4 1 12 0-2 0 2 1-1 1 0 0 2 1 1 0-2 1-6 0-5 1 1 0 11 0 2 0 1 1-8 0 1 0 2 1-1 0-2 1 6 1-9 1 10 1-8 0-3 0 3 1-5 0-1 0 15 0-10 1-6 1 11 1-1 1 1 1 4 0-8 1-7 0 3 0-2 0 13 0-10 1 4 0-5 0 11 0-10 1 3 1 4 0 0 0 4 1-5 0-3 0 5 0 3 0-8 0 8 1-10 0-3 0 11 1-12 0 14 0-8 0 8 0-13 0 12 0-4 1 1 0-6 0 11 0-2 1-2 1-1 0 2 1-7 0 7 0-4 0-6 0-1 0 3 0 5 1 3 0-12 0 10 0 2 0 0 0-4 0 6 1-9 0 6 0 1 1-13 0 6 0 9 0-13 1 5 1 6 0-7 0-1 1 11 0-15 0 14 0-2 1-4 0-5 1 5 0 0 0 0 0-8 1 1 0 11 0-8 0-3 0 3 0-2 0 9 0-10 1-2 1 0 0 3 0 6 0 0 0-8 0 4 0 0 1 3 1-5 0 3 0-1 0 0 1 2 0 5 0-10 1 11 0-12 0 6 0-6 0 11 0 2 1-4 0 4 0 0 0-13 0 13 1-2 0-2 0-3 0 2 1-6 0-2 0 1 0 8 0-3 1 8 0-4 1 2 0-2 0 2 1-12 0 2 0 4 0 5 1-12 0 11 0 4 0-11 1 1 0 7 0-5 1 5 0 1 0-1 0-5 0 7 0 0 1 0 0-2 0 2 0 1 0-4 1-2 0 2 0 0 1 2 0-12 1 5 1 2 0 7 0-13 0 13 0 0 0-11 1 10 0-7 0-1 0 9 0-11 0 5 1-6 0 9 0 4 0-5 1 1 0 3 0-3 0 3 0-5 1-6 0 11 0-9 0-2 1 12 0-2 0 1 0-5 1-5 0 11 0-9 0-4 1 2 0 7 1-8 0 9 0-6 0 2 0-4 0 3 0 4 1 3 0-5 0-9 0 1 0 8 0-5 0-2 0 12 0-1 1-5 0-6 0 12 0-5 0 6 0-3 0 2 1-2 1-12 0 5 0-3 1 10 0 0 0 1 0-11 0 6 0 3 0 2 1-1 0-3 0-7 0-1 0 5 0 7 1-10 0 2 0-1 0 4 0-1 0-1 1 4 0-8 1 2 0 4 0 2 0-8 1 5 0-8 0 7 0 0 0 2 0 2 0-10 1 11 0-10 1 12 0-13 0 11 0-1 0-3 1-7 0 10 0-5 0-4 0 8 0 4 0-6 1-6 0 14 0-6 0-1 1-4 0 8 0-6 0 6 1-2 0-5 1 5 0 2 0-8 0 5 1 3 0 0 0-7 0-1 0 7 0-9 0 11 1-8 0 6 0-2 0-8 0 11 0-3 1-5 0 1 0-1 0 5 0 1 0-6 0-3 0 6 1-3 0 7 0-2 0-1 0 6 0-2 0-12 0 10 1 2 0-12 0 0 0-1 0 9 0-3 0 4 1-5 0-1 1 3 0 6 0 3 0-15 0 3 0 5 1-4 0 7 0 3 0-2 0-11 0 12 0-7 0-5 1 13 1-4 0-9 0 4 0 2 0-7 1 8 0-6 0 3 0 6 1 0 0 1 0-5 0 0 0 4 0-6 0-5 0 10 0-1 1-5 0 0 0 5 0-8 0 7 0-3 0-3 1 8 0-8 0 6 1-3 0 0 0 6 0-5 0 1 1 7 0-14 0 11 1 0 0 0 0 2 0-4 1 5 0-2 0-3 0 2 0-6 1-3 0 1 0 3 0 1 0 2 1-2 0-4 0 12 1-1 0-1 1-13 0-1 0 14 0-10 1 7 0-4 0 2 0 5 0 0 0-7 1 3 0-1 0-5 0 7 0-2 0 4 1-2 0-10 0 9 0 4 1-13 0 0 0 8 0 4 0-1 0 2 0-4 0 1 1-5 0 0 0-1 0 4 1 3 0 3 0-9 0 6 0-5 1-1 0-3 0 7 0 0 1-1 0-3 0 6 1 1 0-8 0-4 0 3 0 11 0-15 1 15 0-1 0-1 0-6 1-6 0 6 0 6 0 2 1 0 0-4 0-2 0 6 1-5 0 2 0-4 1 8 0-1 0-8 0 8 0 1 0-5 1 2 0-10 0-2 0 7 0 6 1 0 0-11 0 4 0 8 0-8 0 5 0-6 1-1 0-3 0 0 0 7 0 4 0-2 0 4 0-4 1 2 1-10 0 2 0 9 0-13 0 5 1 3 0-8 0 0 0 13 0 0 0-1 1 3 0-9 0-1 0 3 0-5 1 9 1 2 0-6 0-8 0 6 0-7 0 14 1 1 0 1 1-10 0-5 0 4 1-4 0 4 0 10 1-3 0-1 1 3 0-10 0 1 0 8 1-1 0-10 0 14 1-13 0 8 0-9 1 12 0-11 0 5 0-6 0 10 1-8 1 10 1-11 0 9 0-5 0 6 0-7 1 1 0-3 0 7 0-1 0-4 0 2 0-3 1 2 0-7 1 9 0-4 0 4 0 6 0-4 0-7 0 4 1 6 0-4 1-9 0 7 0 0 0 6 1-8 1 7 0-5 0 7 0-11 0 2 1 9 0-7 0 6 0-6 1-1 0 3 0 3 1-2 1 2 0 0 0-2 0 5 1-7 0-8 0 6 1-5 0-1 1 11 1-5 0 1 0 6 1-7 0 4 0-10 1 13 0-3 1-2 1-4 0 10 0-3 0 1 1 2 1-3 0 0 1-9 2 2 1 10 1-8 0 0 1 8 1-15 0 12 0-3 0 0 0-2 1-5 0 3 1 7 2 1 0-6 1 5 0 1 1-2 0 3 1-12 1 3 2 1 1 4 0 4 0-8 2-1 0 6 1 2 1-13 0 3 0 13 1 0 1-14 1 2 1 1 1 10 0-14 2 5 0 4 0-3 0 4 0-4 1 6 1 2 0-8 0 5 3-3 1 6 1-15 0 16 0-15 2 9 1 4 3-10 0 4 1 6 0-4 2-5 2-3 5 2 1 6 0-8 3 5 8 4 3 1 3-6 4-2 0 7 2-5 3-1 1-2 0 8 60-4 89 18-7-3-21 4-36-4-17-3-4 4-13 7 0-14-5 5-2 10-6-11-2-3-7 10-1-10 0 3-5 1-2 5-3-2-5-7-7 0-12 15-5-4-3-11-1 2-3-1-3 0-2 11-1 0-2 0 0 0 0-12-1 3 0 0-4-3-1 9-1 2 0-3-1-4 0 3-1-3 0 3-3-3-1 11-1-11-1-1 0 2 0-1-3 1 0-4-1 7-1 5-1-9 0-5-2 3 0-1-1 6 0 6-1-4 0 1-1 3 0-1-1-3-1 5-1-11-1 7-1-11 0 16-1-10 0 5 0-8 0 6 0-6-1 0 0 12 0-12 0 1-1-4-2 15 0-9 0 7 0-10-1 5 0-3 0-3-1 9-1-4 0 7 0-3-1 3-1-12 0 6 0 6-1-8-1 7 0 0 0-2 0-5-1 9 0-9 0 3-1 0 0 3 0-11 0 9-1 1 0-3 0-6 0 3 0 1 0 0 0 8-1-13 0 6 0-2 0 6 0-10 0 8-1-5-1 3 0 2 0 6-1-1 0-10 0 2-1 7 0-8 0-1 0-3-1 7 0-3 0-3 0 2 0 0 0 8-1-5 0 5 0 3 0-4 0-8 0-1-1 4 0 1 0 7 0-1-1-11 0 0 0 4 0-2-1-3 0-1 0 2-1 10 0-8 0 11 0-6-1 6 0-9 0-6 0 14-1-11 0 3 0 4 0 0 0 2 0-3 0-8 0 1-1 2 0 11 0-13 0 9 0 1-1 3 0-1 0-10 0 8-1-8 0 11 0-10 0-1 0 6-1-1 0-6 0 5 0 6 0-5-1 2 0-3 0 6 0 2 0-10-1-5 0 14 0-7 0-6-1 2 0 6-1 1 0-3 0-2 0 6-1-8-1 3 0 4 0-9 0 6-1 4 0-3 0 4 0-9 0 0 0 11 0-2 0-9-1 11 0-11 0 3 0 7 0-10 0 9 0-11-1 9 0-9 0 7 0-5 0 9-1-1 0 3-1-7 0-3 0-2 0 2 0-3-1 13 0-5 0-10 0 3 0 12 0-9 0 7-1-1 0-11 0 15 0-14 0 10 0-3 0 1-1-2 0-3 0 6 0 4 0-14 0 2 0 9 0 2 0-5 0 6 0-12 0 1-1-1 0 9 0 0 0-11 0 8 0-1 0 3 0-5-1-6 0 2 0 7 0 3 0-9 0-1-1-2 0 7 0-7 0 2 0 12 0-10-1 3 0-6 0 13 0-13 0 15 0-10-1-5 0 6 0 1 0 7 0-5 0-5 0-3-1 9 0 4 0-14 0 6 0-3 0 2-1-3 0 3-1 4 0-3 0 2 0-7 0 8 0-2 0-6 0 2 0 9 0-3-1 2 0-4 0-3 0 11 0-14 0 10-1 4 0-1 0-11 0-3 0 15 0-2-1-5-1-2 0-3 0-3 0 3 0 6 0 4 0-3 0-1 0-4-1-3 0 10 0-11 0 7 0 1 0-6 0-1-1 6 0-8 0 0 0 2 0 7 0 1 0-6 0-2-1 4 0-6 0 10 0-10-1 4 0 1 0 9 0-14 0 9 0-1-1-4 0 8 0-8 0-3 0 11 0-7-1-1 0-1 0 9-1-10 0 12 0-1 0-5 0 1-1 0 0 4 0 0 0-13-1 7 0-3 0 4 0 5 0-6 0-2-1-2 0 1 0 10 0-6 0 1 0-1 0 6-1-9 0 8 0-10 0-1-1 8 0 4 0-9 0 8-1 1 0-15 0 3 0 11 0-4 0-1 0-2 0 6 0-9 0 6-1-5 0 7 0-6 0-1 0 4-1 2 0-5 0-5 0-1 0 4 0-1 0 2 0-2 0 2-1-2 0 0-1-2 0 1-1 1-1-1 0-2-1 2-3-2 0 0-10 0-1 1-1 0 0 1-1 0-1 0 0-1 0 0 0 3-1 0 0-1 0 1 0 1-3-2 0-1 0-2-1 3 0-2 0 1 0 0-1-1-1 10 0-1 0-9 0 9-1 5 0-1 0-4 0-8-1 12 0 0 0-13-1 14-1-7 0-6 0 8 0 0 0-7 0 1 0 0-1 6 0-5 0 6 0-4 0-6 0 8 0 5 0-3-1 4 0-3 0 1-1-9 0 11 0-1 0 0 0-4 0-5 0 7 0-3 0-4 0 7-1-1 0 1 0-10 0 0 0-1 0 10-1 1 0-12 0 14 0-2 0-2 0 2 0-9 0 2 0-3-1-1 0 0-3 1 0 1-4 1 0-2-2 1-1 2 0 0-1-1 0 3-1-6 0 4-1-3-1-1-1 2 0-2 0 1 0 0-1 0-1 3-9-5-1 2 0-1-1 1-1-1 0 0 0 0 0 2-1-2 0 3 0 1-1-1 0 0 0 0-1 0 0 1 0-4-1 1 0 12 0-4 0 4 0-2-1-8 0 6 0 3 0-3 0-7 0-2 0 8 0 1 0 0 0 1 0-1-1-9 0 9 0-1 0-4 0 4 0 2-1 1 0-9 0 8 0 3-1-1 0-7 0-4 0 8 0-5 0-1-1-4 0 2 0 7 0-3 0-4 0 3 0 10 0-7-1-6 0 5 0-1 0-2-1 4 0 3-1-8 0 9 0-2 0 3 0-6 0-6 0 1 0 12-1-2 0-4 0-6 0 3 0-4 0 10 0-8 0 12 0-2-1-1 0-10 0 10 0-12-1 4 0 7 0 0 0-1 0-4 0-3-1 5 0 3 0-5 0 4 0 2 0 0 0 1 0-10-1 13 0-5 0-2 0 5 0-4 0-8 0 10 0-8 0 8-1 0 0-1 0-10 0 0 0 12 0-5 0-8-1 7 0-2 0 2 0 2 0-5 0 11 0-15-1 5 0 3 0 1 0-5 0 0 0 10 0-8 0 3 0-3 0 7-1-3 0 3 0-4 0 2 0 0 0-7 0-2-1 7 0-9 0 9 0 1 0 5-1-1 0-5 0-8 0-1 0 12-1-4 0 5 0-1 0-7 0 8-1-2 0 0 0 3 0 1 0-9 0 8-1 2 0-7 0 4 0 1 0-3 0-10 0 1 0 13-1-12 0 3 0-1-1-3 0 9 0 4 0 0-1-6-1-5 0 4 0 5 0-6 0-5 0 0-1 13 0-5 0-9 0 1-1 4 0 3 0 5 0 2 0-14 0-1 0 6-1-2 0-1-1 12 0-16 0 15 0 0 0-10 0 11-2-1 0-11 0 4-1-8 0 4 0 0 0 9 0-13-1 12 0-2-1-2 0-4-1 8 0 3 0 0-1-3 0 1 0-2-1 3 0-4 0 4 0-10-1 6 0 2 0 2 0-5 0 5 0-2-1-9 0 4-1 5 0-3-2-8-1 1 0 9 0 1 0-11-1 6 0 7 0-13-1 15 0-8 0 6-2-2-1-4 0 6 0-1-1-8-1-2 0 2 0-2-1 12 0-4-1 3 0-5-2 1 0 4 0-12-1 13-2-1-1-1-1-8 0 11-7-13-1 5-50 17 1 5 0-9 1 9 32 2 5-6 5-5 5 6 2 4 2-2 1 1 1 1 2-5 2 0 1-7 1 6 1 1 0 1 1 5 0-15 1 3 0 5 0 4 1 0 0-2 0 2 0-3 0 5 0-6 1 6 0-13 0 7 0-5 0 4 1-1 0 8 0 1 0-4 1-1 0-3 0 6 0-5 1 2 0-8 0 4 0 3 0 2 0-7 1 11 0-2 0 0 0-9 0 7 0-5 1-2 0-3 0 10 0 0 1 4 0-5 0 4 1-5 0-3 0-6 1 1 0 13 1-13 0 13 0-1 0 1 0-8 1 9 0-1 0-3 0-2 0 0 1-5 0 1 0-5 0 8 1 2 0-4 0 5 1 2 0-8 0-4 0 12 0 1 0-7 0 5 0 2 0-11 0 9 1-1 0-8 0 6 0-6 1-4 0 2 0 4 0 5 0-3 0-4 0 0 0 4 0 0 0 1 1-7 0-1 0 9 0-6 1-1 1 2 2 1 0-2 0 2 1-1 0-1 0 2 0 0 1 1 0-3 0-1 0 2 0 1 0-3 0 1 1-1 0-2 0 1 0 0 1 4 0 0 0 2 1 0 0-6 0 6 0-6 1-1 0 7 1-3 0 0 0-1 1 5 0-1 1-3 0-5 1 3 0 4 0 0 1-5 0 3 0 1 0-4 0 3 0 0 0-5 1 4 0-3 1-1 2 3 3-2 0 0 0-1 0 1 1 0 7-1 2 1 0-1 0 1 42-1 2 1 38 0 1 0 1 0 0 2 0 2 0 0 1-3 0 2 1-2 0 2 0-2 1 3 0-2 1 12 0-9 0 6 0 4 0-15 1 13 0-1 0-10 0 9 0-3 0 4 0 3 0-14 0 4 1 7 0-3 0 2 0-6 0 4 0-4 0 1 0 2 1-6 0 0 0 8 0 0 0-5 1-1 0 1 0-4 1 1 0 11 0-6 0 7 0-10 0 9 0-1 1 2 0-6 0-3 0 0 0 2 0 7 0-13 0 6 1 3 0-3 0-6 1 10 0-4 0 3 0-5 1 9 0-10 0 9 0-12 0 13 1-10 0 1 0 1 0-5 1-1 0 13 0 0 0-3 1-4 0 3 0-6 0 9 0 1 1-8 0 2 0 1 1-2 0 5 1-4 0 6 0-1 0 1 0-3 0-11 0 16 1-2 0-12 0 3 0 5 0 3 0-9 0-1 0 6 0 1 1-5 0 5 0-5 0-3 0-1 0 7 0-3 0 4 0 1 0-2 1 3 0-4 0-7 0 12 0-9 0 2 1 11 1-13 0 4 0 2 1-9 0 14 0-2 1-4 0 2 0-6 0 4 0-4 0 1 0 0 1 8 0-3 0-5 0 1 0 8 0-9 0-2 1-3 0 7 0 6 0 2 0 1 0-2 0-13 0 3 1 8 0 0 0-12 0 4 1 11 0-10 0 0 0-4 0 2 0 9 0-2 0-3 2-2 0 7 0-4 0 0 1-8 0 5 0 3 0 3 0 1 0-7 0 1 1-5 0 8 0-5 0 11 0-12 1 5 0 0 0-1 0 1 0 5 0 2 1-3 0-9 0 0 0 1 1 10 0 0 0-5 0-2 0-5 0 2 0-1 1 6 0-8 0 13 0-9 0-1 0 6 1 5 0-11 0 5 0 6 1-15 0 7 0-2 1 4 0 5 0-7 1 1 0 3 1-4 0 8 0-11 0 11 0-1 0-4 0-3 1 5 0-3 0 1 0 0 0-3 0 2 1-8 1 8 0 1 0 5 0-9 1 4 0 3 1-4 0-4 1 7 0-10 0 7 1-2 0 5 0-6 0 4 0-7 0-1 1 10 1-11 0 0 1 7 0 6 0-11 0 8 0-2 1-5 0 9 0-4 0-2 0 2 0 1 1-6 0 6 0-8 0 1 0 5 0-7 1 8 0-3 0 1 1-2 1 9 1-2 0-7 1 8 0-12 1 12 0-4 0-3 0 3 1 0 0-3 1 2 0-8 0 0 1 4 1 1 0-2 1 6 0 4 0-6 1 5 1-6 0 0 1 5 0 4 2-3 0-10 1 4 1 4 0-3 0-3 0 9 1-5 2-1 3 7 0 0 0-1 1-4 1-7 0 11 0-7 1-5 2 5 3-3 1-2 1-1 0 8 2 8 1-12 1 6 5-9 4 11 3-9 0 4 1-1 1-3 1 9 2-9 0 7 1 1 4 2 4-3 1-9 0 2 4 10 1-13 3 4 0-3 6 12 1-2 1-9 4 10 14 4 3-5 0-6 4 5 5 1 6-8 2 6 7-8 6 15 42 1-69 11-2-10-6-1-19 12-21-5-1 5-4 1 0-4 0-9-1 4-1 10-3-5-1-1-4-7 0 5-2 8-3-13 0 0-1 11-1 3-1-11-2 0 0 7 0-10-1 11-1-11-1 4-2-1-2 5-1-4 0 4 0-4-3 2-1-5-1-3-3 0-1 10-2-7-1 7 0-1-1-5 0 10 0-10 0 10-1-6 0 3 0-7 0-1-1 8 0-8-1-1-1 13 0-12-1 7-1-8-1 3 0 1-1-4 0 8 0 6-1-13 0 5-1 2 0-6 0 3 0-7-1 0 0 4 0 9-1-11 0 14 0-3-1-5-1-5 0 8 0 2-1-12 0 10 0-3-1-1 0 7-1-7 0 3-1 3 0-3 0 1 0-1 0-3-1 0 0 3 0 6 0 0 0-15-1 14-2-14 0 0 0 3 0 4-1-8 0 15 0-4-1 4 0-13 0 6 0-8 0 1 0 1-1 1 0 12 0-3-1-1 0 3 0-7 0-6-1 3 0-4 0 8 0-1-1-3 0-1 0 0 0-1 0 1-1 3-1 1 0 4 0-10-1 12-1-12 0 9 0-2 0-6 0 7-1-8 0 0 0 10 0-3 0 8 0-10-1 0 0-6-1 14-1-10 0 9 0-4 0-3 0 2-1 3 0-11 0 12 0 0 0 3 0-13-1 9 0-9 0 13 0-2-1-11 0 13 0-11 0-3 0 7 0 2-1 1 0 2 0-3 0-7-1 10 0 2 0-15 0 0 0 9-1-4 0 7-1-5 0-5 0 5 0 2 0 2 0 3 0-3 0-3 0-4 0-2 0 0-1-2 0 14 0-6 0-6 0 6 0 6-1-3 0 5 0-14 0 0-1 3 0-4 0 4 0 7 0-7 0-4 0 1 0 6 0-3-1 10 0-2-1-2 0 2 0-7-1 7 0 2 0-13 0 14 0-15 0 14 0-5-1 1 0 0 0 2-1-1 0-11 0 10 0-2 0-2-1 3 0-10 0 14 0-13 0 5-1 0 0 0 0-4 0 1 0-1 0-1 0 14 0-1 0-7-1-6 0 7 0-7 0 1-1 14 0-13 0-1 0 9 0-2 0-7 0 2 0-1 0 0-1 10 0-4 0 1 0-1 0-8 0 2-1 2 0-2 0 1-1 6 0-4 0 1 0-5 0 3-1 7 0-2 0 0 0 1 0-7 0 5 0 3-1 0 0 1 0-9 0 8 0 2 0-10 0 11 0-12-1 4 0 3 0-9 0 0-1 10 0-9-1-1 0 1 0 4 0 3 0 3-1-9 0-1 0 12 0-12 0 3 0-1 0-3 0 9 0-4-1 4 0-4 0-1-1 10 0-1 0-4-1-6 0 9 0-1 0-7 0 1-1 10 0-5 0-4 0 1 0-2 0 1 0-1-1 4 0 3 0 0 0-10 0 6 0-3 0 3 0 4-1-5 0 3 0-1 0 3 0 0 0-9 0 11-1-1 0-1-1 2 0-1-1 2 0-1-116-14-1 1-1 1-1-2-1 1-1-1 0 0-2 3 0 5 0-2-1-6 0 2 0 2 0-1 0 2 0-2-1-2-1 5 0 0-1-1 0-1 0-2 0 5 0 5 0-11 0 10 0 3-1 0 0-14 0 8 0 5 0-4-1-10 0 15 0-5 0-3 0 3 0-8-1 9 0-10 0 14 0-4 0-1 0-8 0 14 0-1 0-4-1 4 0-4 0-3-1 1 0-1 0 3-1-4 0 3 0-7 0 0 0 3 0 8 0-3-1-5 0 5 0-2 0-7-1 3 0 2 0 4 0 4 0-8-1-4-1 10 0-10 0 12 0-5 0 5-1-4-1-1 0-5-1-4 0 10 0-1-2-6-1 4-1 1-1-4-2 10-2-9 0-2-1 12-2 0-2 0-26-16-9 10-1-1-1-6 0 6-26 20 19-11 1 11 1 0 2-6 3-6 0 7 0-3 1-4 0 1 1 13 0 0 6-4 1-1 3 3 1 1 5-9 6-4 2 6 1-1 1 9 1-13 0 13 4-4 0 4 1-12 0 0 5 9 0-8 1 11 0-10 1 9 0 1 1-10 0-3 0 13 0-9 0 6 0 1 0 1 1 0 0-14 0 12 1-7 0 10 0-7 0 8 0-13 0-2 0 4 1-2 0 10 0-9 0 2 0 3 0-8 1 14 0-2 0 2 0-7 0 4 1-8 0 8 0-1 1 1 0-8 1-3 0 12 0-9 0 0 0 7 0-5 0 3 1 1 0-4 0 3 1-7 1 4 0 4 0-2 0 3 1-7 0 3 0 0 1-7 0 9 0-2 1-2 0 1 0-1 0 1 0 0 0-2 1 2 0 1 0-3 0 0 0-1 0 1 0 0 1 0 1-4 1 2 0 1 1 2 0-5 3 2 0-2 0 0 97 7 0 0 0 0 0 3 1 1 0-4 0 2 0-4 0 1 1 4 0-4 1 4 0 3 0-4 1-3 0-1 0 3 1 4 0-4 0-1 0 4 0 2 0-5 0 5 1-6 0 6 0 0 1-6 0 5 0-7 0 5 1 2 0 3 0-9 0 0 1 1 0-2 0 7 0-5 1 0 0 0 0 2 0-1 0 0 0 8 0-1 1-10 0 2 0 5 0 3 1-3 0-2 0 2 0-7 1 5 0 5 0-3 0-7 0 3 1 1 0 6 0-1 0 0 2-2 1-2 0 1 0 0 1 1 0 0 1 3 4 0 0 0 0-1 1 1 0 0 0-7 0-2 1 7 0 2 0-1 0-6 0 8 1-1 0-10 0 3 0 4 0-5 0 2 0 0 0 6 0-10 1 7 0-2 0 4 1-9 0-1 0 3 0 7 0-2 0-2 1 2 0 1 0-9 0 0 0 0 0 3 0 0 1 6 0-5 0-2 0 7 0 2 0 0 0-8 0-4 0 10 1-1 0-8 0 3 0 6 0-9 0-3 0 3 0-4 1 3 0-3 0 14 0-3 0 0 0 3 1-8 0-4 0 0 1 9 0 3 0-6 0 4 1-3 0 5 0-4 0-5 0-1 0 0 0 2 1-4 0 13 0-9 0-2 0 9 1-7 0 0 0 4 0 5 0-9 0 3 1-4 0-4 0 3 0 9 0-12 0 4 0 4 0-3 0 2 0-5 0 11 1-3 0-6 1-2 0 3 0 7 0 1 0-9 0 6 1-9 0-1 0 4 0 3 0-8 0 6 1 9 0-9 0-1 0 10 0-2 1-6 0-4 0-1 0 0 0 1 0 10 1-6 0-4 0 13 0-1 0-5 0 4 0-9 1 4 0-8 0 1 1 4 0 8 0-7 0 7 1-10 0-2 1 1 0 10 1 2 0-9 0 0 0 10 0-11 0 6 0-8 1 2 0 5 0 4 0-7 1-3 1 9 0-3 0 3 0-12 0 6 0 1 0-3 0-1 1 4 0 6 0-2 0-7 1 11 1-9 0 5 0-10 1 13 0 0 0-7 0 2 1-9 0 1 0 14 0-3 1 2 0-13 1 8 0 0 0-1 1 4 0-2 0-4 0 5 1-2 0-3 0-4 0 3 1 3 0-6 1-2 0 8 0-2 0 4 1-10 0 12 0-7 1 0 1 8 0-12 0 14 0-4 0-5 1 1 0 6 0 1 1-13 0 12 0-1 2-10 1 5 0-1 0 2 1 4 0-11 0 5 0-7 0 3 0 3 0-1 1-4 1 5 0 4 1-2 0 1 1-3 0-3 0-1 1 6 0-4 0 0 1-1 1-1 0 5 1 4 0 5 0-8 1-3 0-4 0 8 0-3 1 6 0 1 0-10 0 9 1-7 0 6 0-11 1 0 0 3 0 10 1-2 0-7 1-3 0 11 1 3 0-15 0 2 1 11 1-2 0-2 0-4 1 3 0 7 1-14 1 11 0-6 1 0 1 1 0-6 1 11 0-8 1-1 1 8 0 4 1 1 3-9 0 8 1-7 1-6 0 1 1 11 2-10 0-4 0 3 1 4 0 7 2-4 2-4 0 0 1 0 2-5 1 4 2 8 1-8 3 6 1-6 5 8 3-6 6-2 0-3 0 9 20-11 10 4 8 10 40 6-20 3-46 4-4-1-8-10-7 8-5-6 0 13-5-14-2 6 0-6-1 0 0 3-9-1-1-2-7 7 0-1-1 1 0-5 0 7-1-10 0 8-1-7-1 4 0 4-2-9-1 7-1-2-3-4-1 13-1-10 0-2-3 3-3 3-1-8-1 16-1-7-1-4-1 7 0 0-3-3 0 4-1-9 0 3-1-6-1 5-1 5 0-8-2 1 0 4 0 0 0 3-1-4-2 8-1-8 0-3 0 6-1-7 0 8-1-1-1-6-1 8 0-6-1 4 0-6-1-2 0 5-1-5 0 1-1 2 0 4 0-2 0-7-1 12 0-9 0 2 0-2-2 4 0-4 0-3-1 13-1-5 0 3 0-7 0-1 0 11 0-6-1-6 0 3 0-4 0 1 0 1-1 0 0 1 0 4-1-6 0 9 0-5-1 0 0 8 0-10-1 4-1-7 0 10 0-10-1 11 0-9-1 8 0-3 0 8 0-11 0 9 0-4-1-3 0 6-1-5 0 5 0-12 0 14-1-4 0-3 0-3 0-5-1 1 0 0 0 6 0 3-1 0 0-7 0 4 0 0 0 3-1-2 0-6 0 9 0-6-1 7 0-7-1-3 0 3 0 5 0 2 0-9 0 1-1 12 0-15 0 10 0-8-1 5 0-8 0 15 0-6 0 0-1 7-1-14 0 0 0 5 0-3-1 2 0-1-1-5-1 4 0 1 0 0 0-3 0 6 0 0 0 7-1-9 0-4 0-2 0 3 0 8-1-9 0 2 0 0 0 11 0-8 0 2 0-8 0 5-1-2 0 7 0-10 0 4 0 8-1-6 0-5 0 1 0 9-1-8 0 0 0 5-1-5-1-3 0 11 0-1 0 1 0-9 0-1-1 0 0 1 0-1 0 10 0-9 0 1 0 5-1 0 0-2 0 3 0-9 0 10 0 0 0 0-1-4 0 1 0 7 0-4 0-7 0 3 0-6-1 10 0-6-1 0 0 5 0-1 0 5-1-3 0-5 0 4 0-4 0 10 0-5-1 1 0 1 0-8 0 4 0 6 0-15-1 6 0 10 0-8 0-2 0 1-1 2-1 0 0-4 0 4 0-3 0-2 0 1 0 3-1 4 0-2 0 4 0-3-1 4 0-4 0 3 0-4-1-7 0 3 0 0 0 5 0-7 0-1 0-2 0 9-1-8 0 8 0-2-1 2 0-4 0-1 0 0 0 6-1 4 0-3 0-2 0 5 0-12 0 8-1-2 0-3 0 2 0 0 0-4 0 11 0-4 0 3-1-6 0-1 0 8 0-10 0 9 0-6 0 1-1-1 0-4 0 1 0 3 0 5 0 1 0 1-1 0 0-2 0 2 0 1-1-1-3 1-1-2-1-1 0-2 0 5 0-1-1-1 0-1 0 1-1 2 0-1-1 0 0-2-2 3-6-8 0 1 0 1-1 0 0-4 0 0 0 4-1-1 0-3 0 4 0-3-1-1 0-1 0-2-1 5 0 1 0 1 0 2 0 1-1-9 0 5 0-5-1 8 0-9 0-1-1 1 0 9-1-9 0 4 0 0 0-5 0 2 0 3 0-4 0 1 0-2 0 6-1 1 0-1 0 0 0 2-2-3 0-2-1 4 0-3 0 1 0-4-1 6 0 0 0 1 0-3 0 3-1-4 0 4 0 1 0 4 0 0-1 0-1 0 0 0 0 1-1 0-77-12 0 2-1 2 0-7 0 7-1-2 0-5 0 8 0-7 0 4 0 1 0 6 0-11 0 11-1-2 0-4 0 2 0 6 0-3 0-10-1 11 0-7 0 4-1-7 0 10 0-3 0 6-1-10 0 5 0 3 0-8-1-5 0 14 0-7 0 0 0 1 0 0-1 1 0-9-1 10 0 0 0-8-1 8 0-8 0 6 0-8 0 10-1-7 0 11 0-9-1 7 0-8 0 6-1-1 0 4-1-1 0 3-1-8 0 4-1-10-1 8 0 2 0-8-1 7 0 4 0-10-2 8 0 2 0-1 0-10 0 2-1 4-1 0 0-7 0 6-1 3 0 3 0-7-1-2 0 0-1-6-1 6 0 5-3-11-1 5-1-1 0 2 0-5-1 4 0-1-1 8-5-8-3 6-2-6-2 7-1 1-1-8 0 5 0-2 0-3 0 12 0-1 0 1 0-6-1-6-2 11 0-10-2 10 0-3-2-3 0-6-4 7-1 1-2 2-8-4-5 5-2 6 1 9 1 1 4 1 7-8 4 9 1-9 3-1 2 9 0-14 1 10 1-2 0-8 1 2 1 11 0-5 1-3 0 0 1 7 0 1 0-6 0-6 0 7 0-2 1-5 0 10 0 0 0 4 0-7 1 5 0-13 1 0 1 9 2-4 1 5 0-9 1 10 0-7 0 8 1-8 0-2 2 6 2 3 0-9 0 7 1-3 1-7 1 16 1-15 1 12 0 2 1-2 0-6 0 1 1-4 0 7 0-6 1 7 0-9 1-2 0 0 1-1 2 5 0 7 0-6 1-4 0 12 1-9 1 8 0-1 0-7 1 8 1-12 0 2 1 4 1-5 0 0 1 11 1 1 0 0 1 1 0 1 0-15 0 5 0-2 0 4 0 3 1 1 0-10 0 5 1 9 0-3 0-10 1 7 0-6 0 8 0 0 0-10 0 7 1-4 0 0 0 7 0-3 0 0 0-3 1-3 0 0 0 3 0-2 0 4 0-2 0-4 0 3 1 2 0-4 0 6 0-2 0-6 1 12 0-12 0 12 0-12 0 6 0-6 1 9 0-7 0 12 0-5 1 5 0 1 0-6 0 1 0-11 1 9 0 5 0-3 1 0 0 4 0-3 1 0 0 3 2 0 0-8 0-4 1 5 0-1 1 0 0 2 0-5 1 0 1 0 0-1 0 6 0-6 0 1 1-3 0 3 0-1 0 4 0-2 0-3 0 2 1-3 1 7 0-1 1-3 0 1 0 0 2-1 0-1 0 3 0-2 0 3 22-4 0 2 1-2 0 1 0-3 0 2 0 1 0-1 0 2 1-1 0 1 0 10 0-1 1-12 0 11 0-7 0 9 0-10 0 11 1-14 0 13 0-2 0-10 0 13 0-10 0 7 0-12 0-1 0 1 0 11 1-12 0 0 0 8 0 8 0-15 1 15 0-3 0-1 0-9 0 9 0-3 0 7 0-1 0-1 1-7 0-5 0 6 0-4 0 2 0 6 1-11 0 2 0 7 1-8 0 3 0 6 0 3 0-5 0-4 0 10 1-5 0-4 0 5 0 1 1 2 0-3 0-6 0-2 0 4 1-1 0-4 0 12 0-12 0 5 0 8 1-5 0 3 1 1 0-6 0 1 0 3 1 2 0-5 1 4 0-1 1 4 0-5 0 0 0 5 0-6 1-1 0 3 0 3 1-2 0 1 0 0 1-2 1 3 0-4 1 0 0-1 0 5 1-3 1 0 0 3 1-2 0 2 0-3 1 1 0-4 0 5 1-5 0 4 0 0 0-2 0 3 0-5 0 1 1-2 0 7 0-2 0 1 0-5 0-3 1 6 0-3 0-1 0-2 0 0 0 1 0 7 0-3 0-6 0 4 1-2 0 8 0-2 1-2 0 1 0-7 0 6 0 4 1-10 0 0 0 6 0 2 1-4 0-2 0-2 0 9 0 1 0 0 1 0 0 1 0-10 0 3 0 0 1 0 0-2 1 1 0 7 0-8 1 5 0 2 0-2 0-5 0 1 0 1 0 5 1-3 0-5 0-3 0 2 0 4 0 3 1 2 0-8 0 1 0-5 0 11 0-11 0 13 0-3 1-4 0-5 0 11 0-7 0 2 0 1 0-3 0 2 0-3 0 1 1 0 0 5 0-7 0 0 0 5 0-3 0-1 1 1 0 5 0 2 0-8 0 4 0 4 0-12 0 14 0-11 1 7 0-9 1 11 0 0 0 2 1-12 0 5 0 6 0-10 1 1 0-5 0 12 0 2 1-9 0-3 0 5 0-7 0 1 0 8 0 1 0-4 1 4 0-4 0-2 0-2 0 10 1-8 0 6 0-9 0 7 0-2 0 1 0-6 1 9 0 0 1 3 0-7 0 6 0 2 1-2 0-2 0 0 0 0 1 2 0-3 1-1 0 2 0-4 0 2 0 5 0-4 0 0 1 4 0-6 0 7 0-6 0-4 1 3 0 3 0-1 0 5 0-7 0 5 1 1 0-7 0 0 0 3 0-4 0 7 0-7 1 1 0 6 0-2 0-6 0 0 1 9 0-11 0 1 1 7 0-8 0 4 1 3 0-7 1 0 0 9 0-7 0 4 0-1 0 3 1-2 0-5 0 1 0 2 0-1 1-2 1 3 0-1 0-6 0 5 0-5 0 15 0-8 1-2 0-1 0 3 0 0 0-5 0 4 0 2 0-1 1-4 0-1 0 8 0-3 0-5 0 3 0-4 1 11 0 2 0-12 0 5 1-6 0 12 1-5 0 0 0-2 1-4 1 13 0-7 0-3 1 3 0 2 0-2 1-6 0 5 1 2 0-8 0 2 0-3 1 1 0 0 0 3 0-2 1-1 0 2 1-2 0 7 1-7 0 10 1-9 2 5 0 0 0 3 1-3 0 4 0-9 1 3 0 9 0-3 1-4 0-5 0 3 0 8 0-9 1 3 0-4 1 3 0-1 0-2 0-2 1 12 0-1 1 3 2-15 0 0 0 1 0 9 1-8 0 1 1 6 0-2 2 0 1-2 0 0 0-1 0 0 1-1 3 1 0 4 1-1 0-4 1 0 1 8 0-2 0-8 1 10 0-6 0 6 1-3 1-8 0 5 0 1 3-6 0 3 4 2 5 2 3-6 0 10 9-1 2-1 1-1 1 1 1-6 1-1 1 11 0-7 1 3 8 0 13-8 1 4 1 10 4-12 1 7 5-3 1-6 1 1 8 0 2-1 9 8-62 9-10 4-4-6-24 8-12-6-1 1 0 0-5 5-1-6-3-2-2 1-3 3 0 5-2-7-1 3-7-4-2 1 0 0-1 1 0 4-2-7-1 2 0-1 0 0 0 2 0-2-1 4 0-1-2-3 0 8 0-7-2 6 0 3-1-9-1-2 0 5-1-1 0 9 0-12-1 11-1-11-1 5 0-2 0 0 0 2-1 0 0 2 0 0 0-6-1 1-1 11 0-8 0-5 0 0 0 2 0 12-1-5 0-3 0-2-1 1-1-1 0-4 0 5 0 0 0 0-1-5 0-1 0 11 0 2-1 1 0-2 0-2 0-10 0 4 0-3-1 4-1-5 0 1 0 0 0 3-1 1-1-4 0 0 0 5 0-6-1 6-1 0 0-4 0 6-1 1 0-7 0 5 0-2 0 4-1-2 0 2 0-5 0 5-1-7 0 12-1-14 0 15 0-14 0 2-1 0 0 3 0-5 0 3-1 3 0 3 0-4 0-1-1-4 0 2 0 2 0 1 0 0 0 9 0-14-1 7 0-1 0-5 0 3-1-3 0 2 0 0-1 0 0 4 0-5 0 6 0-8 0 10 0-3-1-3 0 5 0-8 0 12 0-13 0 11 0 0-1-6 0-2 0 6 0-4 0-2 0 1 0 9 0-13 0 3-1 9 0-6 0 4 0 0-1-3 0 2 0-8 0 13 0-10 0 8 0 0 0-9 0 2-1 8 0-5 0 6 0 0-1-4 0-8 0 0 0 11-1 2 0-11 0-4-1 10 0-4 0-1 0 5-1-6 0-3-1 3 0-1 0 8 0-10 0 0-1 2 0 5 0 1-1-10 0 7 0 4 0-5 0-2-1 8 0-11 0 9 0 4-1-13 0 1 0 6 0-3 0-4 0 7 0-1 0-1-1-3 0 1 0 5 0-4-1 3 0-3 0 1 0 3-1 2 0-4 0 0-1 4 0-5 0 2 0 6 0 0-1-8 0 2 0 1 0-1 0 7 0-10-1 3 0 1 0 4 0-6 0 9-1-11 0 1 0 7-1-6 0 1 0 0 0 3 0-3-1-1 0 0 0-1 0 2-1 3 0 4 0-8-1 9 0-7 0-2 0 2 0-1 0-2 0 10 0-1 0-4 0 2-1 0 0-4-1 4 0 0 0 2-1-7 0 1 0 2 0 1 0 1 0-2 0 3 0 1 0-7 0 4-1 0 0 1-1 0 0-5 0 7-1 1 0 0 0-1-1-1 0-3 0 4 0-3 0-1-1-3 0-2 0 8-1-7 0 0 0 4 0 4 0-4-1-3 0 0 0 4-1-2 0 6 0-8 0 7 0-3-1-5 0 5 0-5 0 8 0-1 0-1 0 1 0-4-1 3 0-2-1 3 0 1 0-2 0-1-1 1-1 0-1 0 0-12 0 11 0-10-1 11 0-12 0 14 0-11 0 11 0-3-1-10 0 1 0-1 0 2-1 10 0-1 0-4-1-7 0 12 0-11 0 5 0 5 0-3 0-3 0-7 0 7-1 1 0 7 0-8 0 3 0-2-1 1 0 2 0-6 0-2 0 9 0-11-1 8 0-1 0 7-1-10 0 0 0 10 0-9 0-3 0 12 0-9 0 2 0-1 0 6 0-5 0 0-1 6 0-14 0 4-1 6 0-9 0 12 0-8 0-4 0 1 0 9-1-5 0 6 0 0 0-8-1-4 0 4 0 6 0 2-1 3 0-13 0 0 0 0 0 2-1 8 0-12 0 11-1-9 0 3 0-5 0 8-2 2 0 0-1-7 0 3-1 6 0-10-1 6 0 1-2 3 0-10-1-2 0 10-1 1 0-9 0-1-1 3 0 10 0-7 0-6-1 9 0-1 0-8-1 2 0 7 0 3-1-1 0-8-1 5 0-5 0 3-2-5 0 6-1-1 0-3 0 2-1-4 0 8 0-5-4 8 0-12-1 0-1-1-2 15 0-13 0-1 0 2-3 9-1-4-1 5 0-7-3 8-2-9-1-2 0-2 0 0 0 3-1 10 0-11 0 6-1-4 0-5 0 8-1 4-1-7-1-1-2-4-1 3-2 0 0 12-1-6-1 5-7-6-10 3-9-6 0 7-1-12-6 5 35 20 4-4 4-3 0 1 0-1 0 1 1-2 0 1 0-1 0 8 0-9 1 4 3 11 1-2 3-1 2-4 2-6 0 4 2 2 1-5 1 6 3-6 5 2 1-4 1 4 1-4 1 3 1-1 1 0 1 4 0-5 1 1 2-2 0 0 1 6 0-3 1-3 1 3 2 3 2 0 1-3 0-2 2 7 0-2 1 6 0-3 0 5 1-4 0-10 0 3 0-1 1 2 0-5 1 0 0 3 0 4 0-1 0 0 0-5 1 8 0-4 0 0 0-4 1 7 0 5 1-10 0 1 0 7 1 0 1-8 0 10 0 1 0-2 0-8 1-4 0 6 0-3 1 1 2 3 0 5 1-6 0-3 0 0 0-2 1 9 0-1 1-7 1-1 0 11 0-9 1 2 0 0 1-5 0 2 0 9 1 3 0-9 0-1 0-3 0 4 1-1 0-1 1 3 0-5 1-1 0 4 0-1 1 8 0 3 1-10 1-4 0 1 0 10 0-11 0 7 4-2 0-1 0 3 0-6 1 0 0-1 1 7 1-2 0-2 2 2 1-2 0 3 0-2 0-2 1-1 0 0 1 1 0-2 1 1 0 8 0-4 2 4 1-4 0 1 1-4 1 3 0 0 2 0 0-1 1 5 0-8 2 4 3-4 1 5 0 0-45 13-8 6-33-9 0 4" fill="none" stroke="none" marker-start="url(#m)" marker-mid="url(#m)" marker-end="url(#m)"/></g></g><line x1="388.7" y1="504.78" x2="668.7" y2="296.42" stroke="#0e820e" stroke-width="1.3"/><rect x="374.7" y="286" width="308" height="229.2" fill="none" stroke="#000" stroke-width="0.75"/><path d="M384.92 515.2v3M374.7 507.6h-3M447.98 515.2v3M374.7 460.67h-3M511.04 515.2v3M374.7 413.74h-3M574.11 515.2v3M374.7 366.81h-3M637.17 515.2v3M374.7 319.88h-3" stroke="#000" stroke-width="0.75" fill="none"/><g font-family="DejaVu Sans" font-size="8.7" fill="#222"><text x="384.92" y="527.8" text-anchor="middle">50</text><text x="368.8" y="510.8" text-anchor="end">50</text><text x="447.98" y="527.8" text-anchor="middle">100</text><text x="368.8" y="463.87" text-anchor="end">100</text><text x="511.04" y="527.8" text-anchor="middle">150</text><text x="368.8" y="416.94" text-anchor="end">150</text><text x="574.11" y="527.8" text-anchor="middle">200</text><text x="368.8" y="370.01" text-anchor="end">200</text><text x="637.17" y="527.8" text-anchor="middle">250</text><text x="368.8" y="323.08" text-anchor="end">250</text><text x="528.7" y="536.3" text-anchor="middle">actual glucose (mg/dL)</text><text transform="translate(349.8 400.6) rotate(-90)" text-anchor="middle">predicted glucose (mg/dL)</text></g><text x="528.7" y="283.7" text-anchor="middle" font-family="DejaVu Sans" font-size="10.38" fill="#222">Glucose Estimation of future 45 mins</text>
<g transform="translate(31.5 551.3)"><path d="M144 148 141 148 140 147 140 145 139 145 137 142 134 140 130 140 129 142 124 141 124 143 120 145 119 144 119 142 117 142 116 140 114 140 113 141 110 141 109 140 109 139 111 137 113 137 113 136 110 136 105 140 101 140 99 139 96 145 90 145 89 146 88 146 87 144 85 145 79 145 79 148 74 152 71 152 71 153 72 154 74 154 75 156 71 159 70 161 68 161 65 165 62 165 61 171 58 173 58 177 56 179 56 187 58 188 58 190 61 194 63 195 64 194 67 194 69 191 74 192 76 189 79 189 82 187 84 187 86 186 88 183 91 183 92 185 93 185 94 183 98 183 100 180 106 179 107 177 111 178 113 174 117 175 120 172 122 173 126 173 126 171 127 170 129 170 129 167 132 163 134 164 134 167 136 167 138 165 138 164 134 164 133 163 132 157 133 156 135 156 136 157 136 160 137 160 138 159 138 157 139 156 141 156 143 153 145 152ZM94 179 96 178 98 181 97 182 95 182 94 181ZM122 166 126 168 126 169 123 171 120 169ZM134 153 135 152 137 152 138 154 137 155 135 155ZM131 150 133 149 134 150 134 152 132 153 131 152ZM80 150 80 148 81 147 84 147 85 148 83 152ZM137 145 139 146 139 149 138 150 136 149 136 146Z" fill="#1f77b4"/><g transform="scale(.5)"><path d="M315 94l-95-1 137 56-15 4-67-1-7 5-19-5-22 5-52 5 120 2 38 8 7 3 109-6 3-7 144 15-117 5-171 2-8 0-8 4-13 2-18-5 0 6-7-4-6-10-4 13-15-7-2 4-5-10-15 8-10 6-23-1-24 15 18-7 12 3 0 2 3 0 0-7 3 12 6-14 8 13 2-7 10 4 3-9 0 7 1 0 23-5 4 10 1-9 0-2 8 10 19-3 0 4 1-13 2 4 19-3 7 8 6 3 70-7 29 1 9 7 5-12 23 7 13-4 45 6 51 11-12-2 0 3-26 3-9-2-117 7-6-5-12-10-20 5-3 10-1-3-15 0 0-8-4 1-2 9-2-5-12-4-3 1-8 7-2-3-5 3-6 0-2-2 0 2-1-7 0 1-5 1-14-6-6 11-4-14-2 14-3-2-2 4-3-7-1-7-3 7-2 5-1-6-2 2-1-3-2-6-1 7-3 1 0 1-1-2-4 0-1 8 0-5-4-8-4 7-6-9-3 4-2 5 0 3-3-1-2-7-1 8-3 2-6-10-2 2-1 4-5 2-6 1-1-9-1 6-4-11-2 13-11-2-7 0-15-10-11 15 6 3 7 11 6-6 2 2 3 0 0-6 2 5 5 2 4 0 3 3 8 0 1 1 2-1 1 1 0-11 1 3 0-2 1 3 1 2 1 2 0 0 0-4 1 2 1 1 2 5 1-5 4-5 1-2 2 9 2-4 1 7 1-14 1 2 1-2 0 9 1-6 0 6 0-5 1 9 0-9 2 7 0-3 3 6 0-6 0-3 2 2 0 6 0-6 2 4 1 2 1-9 1 6 1-10 3 8 5-1 1-7 1 2 0 12 2-2 2-6 0-6 2 14 1-15 0 3 1 1 1-5 0 8 1 5 1-7 0 2 1 2 1-6 0 8 1 3 1-5 1 5 0-2 1-11 3 3 0 9 1-12 2 5 2 8 0-1 1-4 2-5 1 4 0 0 1 1 1 0 3 2 1-4 0-4 0-3 1 8 1 4 1-1 1 3 2-8 1 2 1-3 0-1 2 5 1-5 0 6 2 1 1 0 1-10 5 13 2-8 0-1 3 0 2 7 2-8 0 0 2 9 2-14 0 11 2-6 6 6 1 2 0-1 1 0 1-7 3-1 2-3 1 12 1 0 1-1 2-5 1 4 1 4 1 1 1-9 1 1 1-3 0 2 2 2 1-5 1 7 2 4 0-7 1-2 4 0 0 8 9-11 2 8 4-4 2 4 8-3 9-4 1 8 6-11 2 12 3 2 1-1 2-6 2 5 2-11 2 2 2 5 4 2 3 2 13-5 7 8 37-4 17 4 3-13 8 0 6 10 21 3 3-14 22 8 68-6-43 24-2-3-20-4-48 0-10 3-3-5-7 9-2-1 0 4-2-2-3-2-11 0-17-7-16-1-7 6-3-3-6 5-5 0-21 1-1 0-1 0 0-10-1 7 0-1 0-8 0 6-2 5-1-9 0 11-7-6-1 4-5 0-2 1 0-4-2-6-1 1-2 8 0-9-4 10 0-6-1 0-2-2 0 4-2 4-1 3-1-11-1 1 0-2-1 12-1-6 0 3-2-9-3 13-3-6-1 5-1-11 0 1-1 5-1-8 0-1 0 6 0 4-1 2-1 2-1-3-2-5-1 9-2-12 0 10 0-10 0 6-2-10 0 13 0-10-1 9-3 0-1 1 0-13-1 9 0-2 0 2 0-6-1 4 0-4-1 2-4 9-1-5 0 5-1-10-3 3-5 6 0-2-1-3 0 6-1 1 0-5-2 1 0 1 0 2-2-13-2 8 0-5 0 4-1 5 0 1 0-6-1 6-1-8 0-4-1 13 0-4 0-2-1 6 0-10 0 11-3-15-1 12-1-12-1 11 0-11-1 11 0-4-2 6 0-5 0 7 0-14 0 14-2-10 0 3 0 3-1-7 0 8-1-9 0 3-1 8 0-13-2 11 0-10-1 9-2 3 0-11-1 5-2 7 0-1 0 0-2-6 0-3-1-4 0 7-1-1 0-8-1 10 0 6-1-9 0 7 0-4-1-7-1 8-1 1 0-4 0 0-1 2-1 1 0 5 0-1 0 0-3-2 0-2 0-8-1 4-1 3-1 4 0-10-1 8 0-3-1 6-1-12 0 12 0-10-1-1 0 6 0 0 0 3-1-2 0-2-1 4 0-3-1 5-1 1 0-10-1-4-1 8 0-1 0-6-1 5-2 7 0-5-1 5 0-12-1 12 0-12-1 8 0 2 0 1-1-5 0 4-1-2 0-1 0 0-1 1 0 2 0 3 0-14 0 11 0 1 0 0-1-10 0 0 0 12-1-2 0-5-1 3 0 4 0-1-1 1 0-4-1 1 0-6 0-1 0 0-1 3 0-3-1 7 0 1 0-12-1 8 0 1-1 4 0-3 0 2-1 1 0-11 0 9-2 2 0 0-1-11-1 8 0-7 0 9-1-6 0 7 0 0 0-9-2 6 0-9 0 10-1-2 0 4-1-4-2 1-4 1 0-5 0 1 0-4-2 8-1 0 0 2 0-4-2 1 0-9 0 3 0 8-1-8 0 6 0-3-1-3-1 6-1-8-1 6 0-3 0-6 0 6 0 7-2-11 0 5-1 5-2-2-1-7 0 3 0-5 0-1-1 7-2-5 0 8 0-7-1 3 0 6-1 2-1-13-1 3-1 2-1-1-1 3-1 4-1-2 0-5-6 5-1-1-3-7-2 9 0 0-1 1-3 2-4-12-19 4-4 8-34 1-12 4 52 0 7 9 4 3 0-10 4 9 1-9 1-5 0 11 2 4 0-5 3 4 0-7 1 1 1-3 0 3 2 4 1-10 2-2 1 1 0 1 1 2 0 1 0 5 1-10 1 7 2-4 0 10 0-6 1 3 0 5 2-10 0-2 0 10 1-4 1-8 1 12 0-4 0 4 1-9 0 3 0-1 0-4 1 4 1 8 1-1 0-2 0 0 0 1 0-3 1-4 0 2 0-5 0 6 0-7 1 1 1 5 0 6 0-8 1 1 0 8 0-2 0 1 1-12 0 14 0-3 1 2 0-12 0 9 0-2 1-8 0 7 1-1 0-5 0 9 0-8 1-2 0 11 0-11 0 6 1 4 0-8 0 11 0-4 1-7 0-1 0-1 0 9 1 4 0-2 1-12 0 2 0 0 0 12 0 0 1-5 0 0 0 6 0-3 1 2 0-9 0-3 2 12 0 0 0 0 0-5 1-5 0 10 0-12 0 5 1-6 0 12 0-1 0 3 1-4 0-8 0 0 0 8 1 0 0 0 0-3 1-2 0-1 0 4 0 3 0-11 1 13 1-3 0-4 0-3 0 10 1-1 0-8 0 2 0 4 0-4 0 5 0-7 1 4 1-2 0-5 0 9 1-10 0 1 0 3 0 1 0 8 0-6 1-6 0 7 1-3 0 3 0-9 0 10 1-6 0 0 1 10 0-11 0 4 1 7 0-7 0-7 1 14 0-8 0 0 0 8 0-9 0-6 1 7 0 3 0-2 0 1 0 4 1-6 0 5 0 3 1-12 1 2 0 6 0 1 0-7 0 10 0-6 0-1 0 2 0-3 0-1 0-2 1 9 0-9 1 10 0-5 0 6 1-14 0 1 0 8 0-1 1-6 0 12 0 0 0-2 1 0 0-9 0 8 0 1 1-7 0 6 0-8 1 5 0-4 0 2 1-2 0 5 0 0 1 6 0-1 0-15 0 5 0 4 0-5 0 8 1-4 1 5 0 0 0 1 1-1 0-4 0 0 0-8 1 11 0 0 1-4 0 7 0-6 1-3 0 9 0 0 1-5 0-7 0 13 0-8 0 4 1-11 0 0 0 10 0-4 0-4 0 6 0 2 0-4 1-3 0 5 1-4 0 11 0-8 0-2 0 7 0-5 1-3 0 5 1 0 0 3 0 1 0-3 0-4 1-7 0 7 0 6 0-8 0 6 1-1 0 2 0 1 0-7 0 10 0-1 0-7 1-8 0 3 0 8 0 0 0-8 0 5 0 7 1-15 0 1 1 4 0 8 0-8 0-2 1 7 1 4 0-12 0 6 0 3 0-8 0 7 0 5 0-2 1-9 0 0 1 11 0-14 0 0 0 5 0 1 0-4 1 7 0 0 0-2 0 1 0 2 1-1 0-1 0-1 0 1 0 5 1-2 1 0 0 3 0-9 0 2 1 0 0 7 0-8 0 5 0-2 1-2 0-4 0-2 0 6 0 5 0-3 1 1 0 4 0-15 0 11 1 3 1-6 0-2 0 6 0-6 0 7 1 2 0-6 0 7 1-12 0 6 0 5 0-2 0 3 0-12 1 4 0 3 0-9 0 10 1 0 0-8 1 6 1-4 0-3 0 12 0-10 0 1 1 2 0-8 0 11 0-10 0 5 0 7 1-5 0 0 0-3 0-4 1 6 0 5 0 4 1-4 0-5 1 7 1 1 0-3 0-10 0 11 1-5 0-5 0 13 0-9 0 1 0 2 0 5 1-3 0 0 0 1 0 2 1-10 0 6 0-1 0-6 0 11 1 1 0-2 1 1 0-2 1-12 0 9 0-1 0-2 0 3 1 5 0-3 0 0 0 3 0-13 1 1 0 9 0-7 0 9 0 0 1-5 0 1 0-6 1 7 0-9 1 9 1 2 0 1 0 0 0-8 1-2 0 11 0-15 0 13 1-12 0 13 0-13 0 7 1 0 0 8 0-15 0 10 0 3 0-6 1 4 0-11 0 12 0 0 0 0 0 2 1-9 1 5 0 5 1-9 0-3 0 4 0 7 1 0 0-11 1-2 1 8 0 2 1-3 0 3 0 3 2-6 0 0 1 4 0-12 0 11 1-7 0 2 0-4 0 5 0 7 1-4 1-5 0 5 0-3 0 4 1-8 0 2 0 1 1-1 1 4 0-9 0 1 0 9 2-3 1 6 1-11 0 12 0 1 0-1 1-9 0 3 0 4 1-12 1 12 0-8 0 10 1-4 0-9 0 4 0 8 1-4 1-3 0 5 0-1 0-3 1 3 0-11 1 4 0-4 1 11 0-10 1 1 0 7 1 4 0 3 0-3 0-3 2-8 0 13 1-4 1-7 0 7 1-9 0 10 1-1 1-10 1 12 1-9 0 3 0 3 1-2 0 7 0-12 0 5 0 1 1 5 1-2 1 0 0-5 0 6 2-6 0-6 1 0 0 11 0 0 1 1 0-2 1 1 1-4 0-3 1 5 0-5 0 7 3-10 0-2 0 4 1 12 0-14 4 7 0 5 4 0 0-1 2 0 1-4 0-5 1-2 2 12 0-9 1 0 1 7 0 3 0-1 0-3 0-11 1 10 1-1 2-9 0 14 1-12 1 10 3 4 0-4 0-8 1 5 1 3 2-6 4 0 2 4 0-3 1 2 4 2 1 2 6-4 0-9 0 6 6-2 4-4 1 11 1-6 0 3 0 7 1-1 3-7 2 4 7 2 1 0 9-5 8 4 12-1 1-1 2-1 9 3 0-5 70-4 21 4 28 7 11 1-33 7-28 0-6 7-1-7-22 1-14 9-10-10-5 4-13-3-3-6-23 6-6-1-7 4-2-4-9 9-3-11-1-1 0 8-5-4 0 4-1-4 0-1-1 6-3 1 0-1-1-2-1 4 0-1-3 1-1-7-1 4-2-10-2 0-1 11 0-1-1 0-2 2-1-12-1 1-1 8-2-4 0-5 0 15-1-2-1 2 0-6-1 0-1-6-2 5 0 5-1 2-1-15 0 2-1 3-1-1-1 8-1-10 0 1-2 7 0-2 0 1-1-9 0 6 0 6-1 3 0-7 0 7-1-8 0 0-2 5-1-12-1 4-2 9 0 1 0-15-1 10-1 3-1-10-2-1 0 7 0 5-1-6 0 6 0-5 0-4 0-3 0 8 0 3-1 1 0-13-1 10 0 1-1 0 0-2-2 3 0-1-1-9-1 0 0 5 0-5 0 11-1-4 0-2 0-7 0 7-1 1 0-3 0 5 0-8 0-3-1 4 0 3-1-5 0-2 0 8 0 5 0 2-3-8 0 3 0 5 0-4 0 3 0-12-1 7 0-8-1 13 0-5 0 2 0-10 0 14-1-1 0-4 0-3 0 1 0-8 0 5-1 8 0-9 0 8 0-1-1-5 0 8 0-12 0 6-1-3 0 11 0-7 0 3-1-3-1 5 0-3-1 0 0-3 0 7 0-10-1 5 0-5-1 4 0 4-1-8 0 2 0 5 0-4-1 4 0-4 0 0 0 7 0-2-1-5 0-4 0-1 0 5 0 2 0 0-1 3 0-1 0-9 0 0 0-1-1 7 0 0 0-4 0 10 0-3 0-8-1-1 0 0 0 5-1 4 0-3 0 4 0-11 0 13-1-2 0-10 0-2-1 13 0-2 0-5 0-4-1 4 0-5 0 11-1 1 0-1-1 0 0-9 0-2 0 10-1-6 0 7 0-2 0 2 0 3-1-14 0 3 0 3 0-7 0 13-1-1 0-1 0-9 0 11-1-6 0-5 0 2-1 3 0-5-1 13 0-12 0 12 0-6 0 5-1 0 0-12 0 4-1-2 0 2 0 3-1-10 0 15-1-5 0 6 0-14-1 2 0 1 0 9 0-11 0 5 0-5-2 8 0-9 0 12 0-4-1 1 0 1 0-2 0-4 0-5-1 10 0 3 0 2 0-8 0 1 0 7-1-4 0-1 0 4 0-5-1 6 0-12 0 8 0-7 0-2 0 11 0-10 0 8-1 1 0-4 0-4-1 4 0 1 0-2 0 1-1-1 0-7-1 7 0-7 0 4-1 1 0-2-1 0 0 3 0 1 0-7-1 7 0-8 0 4-1 2 0 0-1-3 0 5 0-4-1 4 0-4 0-1 0 5-1 0 0-1 0 0 0 0-1-6 0 7 0-5 0 4 0-2 0 2-1 2 0-7 0 7-1-3 0 4 0 0 0-3 0-3-1 0 0 3 0 2-1-9-1 0 0 11 0-1 0 2-1-1 0 2 0 0 0-5-1 4 0-8 0 9 0-2 0-2-1 4 0-9 0 4-1 2 0-4 0-4 0 5 0 4 0 0 0-5-1-3 0 5-1-6 0 2 0 1 0 5-1-9 0 10 0 0 0-4 0-5 0 9-1-6 0 6 0-10 0 7 0-2-1 7 0-12 0-1 0 7 0 1 0 6-1-10 0 3 0-6 0 1-1 10 0 2 0-5 0 0 0-7 0 14-1-2 0-5 0 0-1-4 0 6 0-10-1 4 0 2 0-2 0 4 0 7 0-8-1 8 0-10 0 5 0-8-1 1 0 9 0-2 0-9 0 14 0-9 0-6 0 6 0 2-1 1 0-5 0 9 0-12 0 5 0 2 0 3 0-10 0 8 0 0-1 1 0 0 0-8-1 13 0-1 0-14 0 3 0-3-1 0 0 0 0 2 0 12 0-1 0 0 0-13 0 3 0-2-1 13 0-3 0-7 0-1 0 1 0 7-1-4 0 0 0-1 0 0 0 1 0-5 0 10-2-12 0 2 0 7-1-1 0 1 0-1 0-4 0 1 0 1-1-1 0-3 0 7 0-10 0 10 0-6-1 6 0-2-1-4 0 0 0-3 0 0 0 8-1-2 0-5-1 3 0 0 0 0-1 3 0-1 0-6 0 0 0 7-1 0 0-1 0-6 0-1 0 2-1 3 0-4 0 0 0 1 0 9-1-6 0 1-1-3 0 0 0 1 0-3 0 0-1 9 0-10 0 9 0-1 0-7 0 2-1 8 0-4 0-4 0 1 0 0-1-4 0 2 0 6 0-4 0 2 0 0 0-5-1 8 0 0 0-6-1 0 0 1 0-1 0 2-1-3 0 1 0 2-1-1 0-2 0 3 0-4-1 2 0 3-1 0-1-1 0-4 0 6-1-5 0 5 0-2-1 0-1 0 0 3-1-6 0 6 0 1 0-1-1-2-1-5 0 1-1 6 0-8 0 5-1 4 0-3 0-4 0 4 0 2 0-7 0 0-1 4 0-4-1 4 0 1-1-5 0 3 0-1 0 0 0 4 0-7 0 4-1-2 0 3 0 0-2 4 0 1 0-10 0 6-1 4 0-3 0 1 0-3 0-2 0 10 0-10-1 1 0 10 0-5-1 6 0-3 0-8 0 8 0-9 0 4 0 4 0 4-1-6 0 2 0-10 0 1-1 2 0 12 0-2 0 2 0-11-1 1 0 10 0-7 0 4 0-3-1-6-1 6 0 5 0-12 0 7 0-6 0 5-1-4 0-2-1 1 0 11 0-1 0-2 0-1-1 0 0-2 0-2 0-7 0 5 0 0 0-1-1 1 0 3 0 1 0-5 0 0 0 7-1-1 0-8 0 4 0 1 0-2 0 8-1-2 0 5 0-9-1 6 0-11 0 0 0 12-1 1 0 1 0-8 0-5 0 11 0-2 0-8 0 4-1 2 0-4 0 4 0-8 0 4-1 10 0-13 0 0 0 0 0 2-1 4 0-1 0-8 0 9 0-5 0 5-1-7 0 9 0-11-1 12 0-1 0-11 0 13 0-4-1 6 0-9 0 2 0 7-1-6 0 4 0 1 0-3 0 2-1-1 0-2 0 6 0-13-1-2 0 14 0-1 0 2 0-4-1-10 0 3 0-1 0 4 0-1 0-1 0 4 0-3-1 2 0 2 0 4 0-2-1 3 0-16 0 13 0-4-1 1 0 0-1-6 0 9 0 2-1-9 0 4 0-9-1 4 0 0 0 3 0 0 0-7-1 2 0 11 0-10 0 2 0 4 0-2 0 7-1-3 0 4 0-4-1-3 0-2 0-4 0 8-1-2 0 1 0 3 0-6 0-4 0 2-1-2 0 13 0-2 0-6 0 1 0 3 0-8 0 10-1-2 0-5 0-6-1 3 0 11 0-4 0 3 0-6 0-4-1 3 0-1 0 5 0 0-1 2 0-6 0 8-1-2 0 1 0 0-1-3 0-2-1 3 0 0 0-2-1-2 0-4-1 8 0 3 0-7 0 1-1 3 0-1 0-2 0 5 0-1-1 0 0-4-1 2 0 3 0-12-1 10 0-1 0-3-1 1 0 0 0 5-1-7 0 7-3-3 0-3-1 0-1 0-1 3 0-1-2-6 0 5 0 0-1-1 0-2-1-4-2 11-2-6 0-5-1 6-1-2-2 6-3-11-4 8-3-7-1 12-46-5 0-4 0-5-5 8 5 17 0-3 20 5 10 3 18 1 2-13 0 13 3-14 2 11 2 2 1-1 1-8 0 10 1-6 2 5 1-10 1 9 1-3 0 0 0-2 0 5 0-7 1 10 1-1 0 0 1-6 0 6 1-14 0 14 0-2 0-11 1 13 1-10 0 9 0 0 0-3 1 3 0-8 1 2 0 5 0-12 0 12 1-2 0 0 0 1 1-4 0-5 0 3 0 3 0 4 1-5 0 2 0-5 0 8 0-3 0 5 1-2 0-1 0-8 1 0 0-1 0 12 0-6 0-8 1 6 0-4 0 8 0-3 1-7 0 0 0 13 0-4 1 2 0-10 0 10 0-12 0 9 1-6 0 6 0-6 0 6 1 2 0-11 0 10 1-2 0-7 0 4 1 4 0-1 0-2 1-4 0 1 0-3 0 5 0-2 1-1 0 1 0 5 1-2 0 0 0 4 0 0 0 1 1-6 0-2 0 5 0-8 0 13 0 0 0-2 0 2 0-6 0-6 0 8 1-3 0 1 0 6 0-11 0 12 0-1 0-5 1 4 0-10 0 11 0 1 0-10 0 0 1 4 0-2 0 0 0 3 0-6 0-3 0 9 1-4 0 0 0 0 0 10 0-1 0-1 0-7 0 9 0-12 1 2 0 9 0-2 0-10 0 0 1 8 0-6 0 8 0-8 0-2 1 5 0-2 0 8 0-7 0 3 1-2 0-5 0 0 0 5 0-4 0 4 1 7 0-14 0 10 0-3 0 3 0 3 0-7 0 8 1-1 0 0 0-3 0-5 0 0 2 0 0 2 0 4 1-11 0 1 0 1 0 0 1 0 0 1 2-2 0 2 0-2 1 3 1-1 1-3 0 2 1-2 1 1 0-1 0 1 1 2 0-1 1-2 1 1 0 1 1 0 1-1 0-1 2 2 3 0 0 0 1 0 0-1 0 1 4-2 45 2 0 0 1 0 2-2 0 1 1 0 1-1 14 10 0 5 0-3 0 2 1 1 0-3 0-3 0 2 0 4 0-2 1 1 0-3 0 1 0 0 1-1 0 3 0 1 0 0 0-5 1 1 0 1 1-3 0 0 0 2 1-3 0 1 0 6 0-2 1-3 1 4 0-4 0 3 0-1 1 4 0-3 0 3 0-3 1 1 0-2 0-3 0-5 0 3 0-1 0 2 0-6 1 8 0-7 0 3 0 2 0-5 1 0 0 3 0-2 0 10 0-6 0-2 0 3 0-3 0 1 0-3 0 9 0-8 1 0 0 5 0-9 0 8 0 6 0-12 0 13 1-6 0-8 0-1 0 7 1 7 0-2 0-4 1-8 0 3 0 4 0 3 1-6 0 10 0 0 0-13 0 5 0-6 0 1 0 13 0-5 1-9 0 9 1-6 0-3 0 4 0 1 0-6 0 2 0 3 1 2 0 0 0 3 0-2 0-4 0 3 0 0 1-2 0-3 0 4 0-5 1 5 0-5 0 1 0 0 0 1 0-2 0 0 1 2 1 1 1-1 0 6 0-2 0 1 0-6 1-1 0 14 1 0 0-10 0 4 0-6 0 8 0-3 0 3 1-8 0 8 0-4 0 7 0-3 0-6 0 2 0-7 1 8 0-2 0 7 0 1 0-1 0-8 0 5 0 4 0 1 1-7 0 6 0-4 0 3 0-8 0 0 1 10 0-6 0 0 0 6 0-10 1 10 0-13 0 9 0 2 1-6 0-7 0 9 0 4 0-7 0 8 0-8 1-1 0 6 0-6 0 10 0-10 0 2 0 7 1 1 0-7 1 6 0-8 0-5 0 7 0-8 1 11 0-1 0-3 0 6 0 1 0-4 1-6 0 2 0 8 0-10 0 3 0-6 0 9 1-9 0 14 0-6 0 3 0 1 1-11 0 10 0-6 0 1 1-2 0-4 0 0 0 10 1-8 0 11 0-2 1 2 1-13 0 15 0-6 0 2 0-11 0 9 1 3 0 0 0-6 0 6 0-9 0-1 1 8 0-8 0 5 0 5 0-1 0-8 1-1 0 8 0 2 0-2 0-3 0 5 1 0 0-6 1 2 0 5 1-3 0 3 0-13 0 9 0 5 0-2 1-10 0 6 0-4 0 1 1 1 0 8 0-12 0-3 1 11 0-6 1 3 2-6 0 9 1-1 0 2 0-7 0 10 1-3 1-3 0 4 0-10 0 10 1 1 0-8 0-2 0 10 1-9 0 6 0-8 1 1 2 8 0 2 0-2 0-10 1-2 0 7 1 8 0-13 0 10 0-4 1-3 0-3 1 13 1-10 0-3 0 10 0-3 1 1 0-2 1 6 0-8 2 3 0 0 1-2 0-1 0 1 1 5 0 2 2-2 0 0 0-2 0-6 2 6 0-4 0 1 0-2 0 5 1-1 2 2 1-9 0 10 0 1 2-2 0-9 0 9 1-2 0-4 0 1 2-5 0 5 1 9 0-15 3 2 1 11 0-13 1 2 2 8 1 3 0-3 0 5 0-14 2 5 0 7 2 1 2-14 0 5 0-2 3 11 1-11 1 3 1 7 1-8 0 2 0-6 1 0 0 13 1-10 1-4 1 1 1 12 1-7 1-5 0 10 3-5 5-3 1 11 1 2 4-15 3 12 3-11 13 8 5 0 2-7 12 1 3 12 2-4 16-10 8 2 46 4 8-5 29 2 11 18-36-2-8 9-24-11-20-2-41 12-18 2-3-8-6-6-7 7-4-8-4 13 0-6-1 6-1-8-2 7 0-10-5 0-2-1-3 12-1-12-6 2-2 2 0-1-3 9-1-1 0-7-2 8-4-5 0-3 0-1-1 0 0 4-2-6 0 5 0-6-1 7-2 3-3-9-1 5 0 9-1-10-2 5-3-8 0 3-2-4 0 13-1-1 0-10 0 2-1-5 0 13 0-10 0 6-1 1 0 2 0-13 0 8 0-4-1 6 0-5 0-3 0 2 0 0-1 8 0-1 0-7 0 7 0-4-1-6 0 0 0 1 0 5-1 4 0-1-1-2 0-5-1 5-1-1 0-3 0 9 0-4 0-7-1-1 0 1 0 0-1 7 0-3 0 0 0 8-1-9-1 2 0-3 0 8-1-3 0 4 0-10-1 5-2-3 0-4-1 4 0 6 0-10-1 13 0-1 0 3 0-2 0-9-1 10 0-1-1-3 0-9 0 9 0-4 0-6-1 14 0-11 0 10-1-14 0 3-1-1 0 0-1 3 0 6-1-3 0-3 0 7 0-3 0-7 0 6 0-4 0-3-1 6 0 0 0-3 0 6-1-3 0 6 0-5-1 0 0 3 0-6 0-3 0 12 0-8 0 10-1-12 0 1 0 3 0 3 0 3-1-5 0 4 0 1 0-7 0 9 0-3-1 0 0-1 0-2 0 4 0-8-1-5 0 11 0-6 0 6 0-7-1 1 0-4 0-1 0 3 0 11 0-9-1 0 0-2-1 2 0 2 0-3 0 4 0-2 0 7 0-7-1 7 0-13 0 14 0-10 0-4 0 7-1-2 0 4 0-7 0 3 0 7 0-5-1-7 0 13 0-7-1 4 0 3 0-5-1-9 0 2 0 4 0-4 0 8 0 2 0 1 0-4-1-5 0 5 0 3 0 1 0-12 0 4 0 9 0-2-1 4 0-5 0-8 0 12 0-7 0-5 0 2 0-2-1 12 0-14 0 4 0 10 0-6 0 7 0-6 0 2 0-2-1-5 0 0-1 6 0 4 0-9 0 4 0-3 0 2-1 3 0-5 0 1-1 3-1-5 0 1 0 3 0 1 0-4-1-2 0 7 0-5-1 4 0-3 0-3-1 10 0-7 0 2 0 2 0-10 0 13 0-1-1-5 0 5 0-4 0 3 0-11 0 1 0 5 0-8 0 2 0 8 0 3 0-4-1 3 0 0 0-1 0 0 0-9 0 13 0-5 0 4 0-4 0 4-1-5 0 2 0-2 0 6 0-1 0-7 0 2 0-7-1 13 0-1 0-5 0 6 0-9 0 8 0 1 0-1 0-8 0 3 0-1-1 6 0 2 0-15 0 6 0 7 0-1-1-7 0-3 0 5 0-1 0-1 0 1 0 2 0-1-1-1 0-5 0 6 0-2 0 0 0-3 0 1 0 4-1 8 0-15 0 7-1-5 0 2 0 6 0-8 0-3-1 7 0 8 0 1 0-2 0-3 0-6 0-3 0-2 0 7 0 3 0 2-1-8 0 12 0-2 0-12 0 5 0 2-1 1 0 4 0-2 0-3 0-2 0 9 0-7-1 2 0-1 0 4 0 1 0-1-1-7 0 8 0-2 0 1 0-1 0 1-1-13 0 12 0-3 0 0 0 4 0-1-97-13 0 1-13 3-1 4 0-5 0 6 0-1 0-3 0 3-1-4 0 4-1 2 0-7 0 5 0 2 0-7-1 1 0 7 0 2 0-6 0-1-1 7 0-10 0 7 0 2 0-12 0 8 0-3-1-5 0 4 0-2-1 0 0 3 0 0 0 0-1 6 0 4 0-2 0-2 0 2 0 2 0-14 0 0 0 0-1 2 0 11 0 2 0-13 0 9 0 3-1-12 0-3 0 6 0 4 0-1 0-2 0-5 0-2-1 5 0-4 0 8-1 0 0-6 0 1 0 12-1-14 0 11 0-4 0-9-1 8 0 1 0-3-1-4 0 1 0 13 0-1-1 1 0-4 0-3 0 6-1-13 0 7 0-6 0-3-1 5 0 6 0-3 0-2 0 0 0 2 0-4-1 7 0-11 0 1-1 8 0 1 0-8-1 12 0 1 0-6-1-1 0 4 0-5 0 0-1 5 0-1 0-2 0 7 0-3 0 0-1-5-1-1 0 6-1-4-1 6 0-3 0-10 0 2 0 9-1-7 0 9 0-14 0 3 0 0-1 8 0-9-1 10-2-3-1 2 0 3 0-1-11-2-5-4-8-1-24-1 0-3 0 5-1-3-31 2 18 21 3-1 1 1 9-5 0 4 1 1 0-3 0 0 0-5 1 0 0 5 7-2 3 6 0-4 0-1 1 2 2 4 0-4 1-1 6-4 2-3 0 11 7 1 0-3 1-2 0-4 1 6 1 3 0-7 1 6 2 1 0-5 4 3 1-2 0-7 1 9 0-8 0 8 0-3 0 5 1 1 1 0 0-2 0 3 0-8 0 7 1-4 0 4 0 1 0-2 2-13 0 0 0 1 0 3 0 7 0-4 1 8 0-11 0 11 1-9 0 1 0-8 0 12 0-2 1 4 0-4 0-5 1 9 0-4 0 0 1-1 0 2 0-2 1 2 0 4 0-13 1 5 0 2 0-6 0 1 1 10 0-9 0 10 0-7 0 1 0 0 0 5 0-8 0 1 1 4 0-4 0 2 0 2 0-10 1 9 0-6 0-3 0 1 0 5 0-4 2 5 0 2 0-2 1 1 0-4 0 4 1-1 0-2 1 2 0 1 0-5 0-1 1 3 1 0 0-5 0 4 0-2 0 0 0 0 1 4 0-7 0 3 1-2 0 0 1 1 1 0 0 0 0-1 3-1 96 14 0 0 1 1 0-2 0 2 0-1 0 1 1 0 1-2 0 3 1-2 0 1 0 1 0-5 1 2 0-2 1 3 1-5 0 2 0 2 0-1 1-2 0 3 0-4 0 0 0 2 1 4 0 0 0-1 1-2 1 1 0 1 0-1 1 1 0-2 2 3 1 0 1-2 0 2 0 1 2-1 0-2 0 1 1 0 0 2 1-1 0-3 0 0 0 3 0-1 1-1 0 1 1-3 0 0 1-1 0-2 0 1 0 0 0 7 0-9 0 1 0 7 0-9 1 4 0 3 0-3 0 4 0-6 1-1 0-1 0 5 0 2 1-2 0 0 0-5 0-1 0 5 0-2 1-4 0 1 0 3 0 5 0-12 0 0 0 3 1 2 0-1 0 10 0-14 0 4 0 9 0-12 0 12 0 1 0-14 1 8 0-1 0-5 0 12 0-5 1-7 0-2 0 14 0-9 0 10 0-7 0-4 0 10 1-1 0-7 0-4 0 11 0-8 0 5 0-10 0 8 0 0 1-4 0-2 0 8 1-4 1 8 0 0 0-3 0-8 0 9 1-2 0-3 0 6 0 0 1-9 0 4 0 6 0-13 0 9 0-8 1 7 0-2 0 5 0-7 0-4 0 8 1-5 0 2 0 8 0-11 0 4 0 4 0-2 1-2 0 1 0-5 0 5 0 0 0 4 0-5 0-4 0 2 0-5 1 0 0 14 0-13 0 14 0-5 1-4 0 4 0 2 1-7 0 1 1-7 0 2 0-2 0 8 0 6 0-3 0-7 1 5 0 0 0-8 0 1 0 3 0-5 1 12 1-2 0-9 0 11 0-3 0 1 0 1 1-11 0 6 0-2 0 5 0-6 0-3 1 3 0 3 0 4 1-3 0 4 0-11 0 6 0-3 0 12 0-13 0 9 0-10 1 14 0-7 0-8 0 15 1-4 0 5 1-5 0 3 1-3 0-8 0 3 0 8 1-7 0 0 0 3 0-8 1 7 0 2 0-10 1 12 0-12 0 10 0-4 1 0 0 6 0-1 0-10 0 4 1-5 0 11 0 3 0-11 0 1 0 11 0-6 1-3 0-3 0-2 0 9 0-9 1 2 0 0 0-4 0 7 0 2 1 1 1 1 0 2 0-12 0 12 1-8 0-2 0-1 1 12 0-2 0-3 0-1 1 3 0-5 0 1 1 5 1-12 0 14 0-12 0 3 0 7 1-8 0 1 2 8 1-2 0-1 1 4 0-12 0 9 0 1 0 4 1-14 0 5 0-4 0 8 1-2 0-3 1-4 1 2 1 6 1-7 0 10 1 2 0 0 0 1 1-2 0-5 0 4 0-4 1 7 0-12 0 4 0-7 2 8 1 1 1 5 0-15 0 9 2 2 0-3 1 2 0-6 0-4 1 9 0 2 0 4 3-12 1 10 1-10 1 7 1-7 0 2 1 11 0-7 0-9 2 3 1 0 2 8 0-9 2 11 0-11 0 4 2 0 1 8 1-7 2 9 1-2 10-6 0-7 3 4 3 3 2 4 5 2 1 1 2-5 2-9 3 11 36-6-11 24-4-11-20 1-8-4-2 12-5 2-4 2-3-13-9 8-4-10-3 0-1 0-5 8-3 1-2-5 0 3-1-2-3-4 0 13-1-5 0-1-1 3 0-10-4 1 0 6-1-8-2 1 0-1-1 10 0 1-1-12-3 9 0-5-2-2 0 3 0-4-1 14-1-10-2-2-1-3-1 7-1-3 0 4 0-2 0-1-1-4-1 0-1 1-1 1 0 0 0 0 0-2-1 0 0 4 0-3 0 1-1 7 0 3-1-8-1 9-1 0 0-5 0 6 0-2 0-13-1 2-1 6 0-1-1-5 0 11-1-1 0-10-1-1 0 6 0-6 0 6-1-4 0 5 0-8 0 3-1 9-1-3-1-9 0 1-1 5 0 0 0 5-1-5 0-6 0 8-1-7 0 7 0 1 0-3 0 6-1-2 0-6 0 12-1-12 0 1-1 0 0 1-1 5 0-8 0 1 0 9 0-9 0-3-1 3 0 2 0 3-1-7 0 9 0 0 0-7-1 1 0 1 0-3 0 10-1-3 0-9 0 2-1 7 0 5-1-14 0 0-1 10 0-10 0 9-1 3 0-4-1 4 0 1-1-3 0-2 0-4 0 3 0 2 0-1-1 7-1-12 0-1 0 1 0 5-1-3 0-4 0 8 0-5 0 0-1 4 0-9 0 15 0-2 0-5 0-2 0 4-1 5 0-9 0-4-1 12 0-8-1 6 0 4 0-2 0-11 0 8 0-7-1 1 0-1 0 10 0 2 0-2-1-13 0 13 0-3 0-3 0-3-1 9 0-8 0-5 0 9 0-10 0 14-1-5 0 5 0-10 0 2 0 10 0-9 0-3 0-4 0 4-1 4 0-8 0 7 0-6 0 10-1 0 0-1 0 2 0-6 0-3-1-2 0 7 0-5-1 1 0-1 0 5 0 7 0-2-1-11 0 4 0-3 0 13 0-8-1 4 0-9 0 0 0 7 0 5 0-5 0 6 0-7-1 0 0-3 0 6 0-4 0 8 0-4 0-4-1-3 0 6 0 4 0-13 0 0 0 11-1 2 0-1 0-5 0-8 0 4-1 8 0-5 0 0 0 3 0-2 0-6 0 2-1-1 0 4 0-7 0 1-1 5 0 1 0 2 0 2-1-3 0 2 0 1-1-3 0-2 0-1 0 8 0-3 0 5 0-11 0-2-1-1 0 5 0 0 0 0 0-4 0 5 0 0 0 3 0 2-1-8 0 6 0-9 0 2-1-2 0 3-1 6 0-5 0-5 0 8 0-8-1 1 0 9-1-10 0 1 0 12 0-12 0-1 0 2 0 6 0-1-1-7 0 9 0 0 0 3 0 0 0-3 0-1 0 5 0-6-1-1 0 3 0 0 0-2 0 1-1 1 0-2 0 2 0 0 0 2 0 1-1-2 0 0 0 0 0 0-1 2 0-1-1 0 0 0 0 2-1-3 0 4 0 1 0-3 0 2 0-2-2-1-1 1-1 2 0-5 0 2-1-2 0 1 0-2 0 4 0 1 0-3 0 5-1-5 0 0-1 3 0-1 0-1 0 0-1 1 0 3 0-4 0-1 0 2-1 3 0-3-6 3-1 0-1-1-91-14 0 5 0-6-1 4 0-1-1 2 0 2 0-1 0-5 0 4 0-4-2 0 0 4 0 2 0 0 0-3-1 0 0 4-1 2 0 3 0-13 0 14 0-2 0-12-1 0 0 12 0 3 0-10 0 11 0-7 0 5 0-4 0-1 0 6-1 1 0-2 0-8 0-1 0-4 0 1 0 0-1 11 0-5 0 1-1 1 0-6 0 6 0 1 0-11 0 0-1 2 0 6-1 6 0-1 0-6-1-5 0 8 0 4-1-3 0-11 0 15 0-3-1-4 0-5-1 13 0-4 0 1 0-7 0-4 0 0 0 14-1-5 0 3-1-5-1-8 0 13-1-10 0 9-1-10 0 11 0-2 0-11-1 2-1 4-2-5 0 8 0 2 0-4 0-5 0 0 0 4-1 7 0-11-2-1 0 7-1-1-3 4 0 2-1-11-1 6-2 1-2-1-4 3-3-3-1 1-1-10-5 13 0-1 0-9-1 3 0-6 0 15-1-5 0-6-6 6 0 2-6-7-2 5-1 1-33-5 13 14 6 12 0-6 3-10 5 8 4-2 4-1 1 3 3 7 0-13 1 12 2 0 0-1 3-7 3-1 0 3 1 8 0-7 0 3 0-11 1 4 0-2 5 10 2-1 0-5 1-3 1 10 0 0 0 0 2 0 1-11 0 10 0 0 1-9 0 7 0 3 0-2 1-10 0 12 1-10 1-3 0 9 1 5 1-8 0-3 0-2 1 6 0 2 0-10 0 8 0 7 1-2 1-8 1 11 1-3 1-9 0-2 0 5 0-6 1 15 0-8 0-6 1 3 0 9 0-4 1 2 0 1 0-10 1 9 1 0 0-6 0 1 1 2 1-8 1 10 1 0 0 3 1-1 0-3 0 0 0 5 1-10 0 5 0-4 1 4 0-9 0 4 0 11 0-6 1 0 0 2 0-1 0 2 0-1 1-10 0 6 0-4 0-1 0 12 1-9 0-5 0 13 0 0 0-12 0 8 1-2 0 7 0-7 0-3 0 2 1 3 0 5 0-8 0 1 0-7 0 12 0-12 0 13 0-14 0 14 0-8 0 9 0-10 0 8 1 0 0-9 1-2 0 1 1 1 1-2 0 0 0-1 0 1 55 12 1 2 1-1 0 1 0-2 0 1 1 1 0-2 0-1 0 1 1-1 1-1 0 2 1-3 0 4 0-4 0 2 0 0 1-1 1 1 0 0 0 0 1 0 1 1 0 0 0-1 0 3 1-3 1 1 0 1 0-1 1 2 1 0 0-8 0 7 1-5 0-3 0 1 0-1 0 7 0-4 1-5 0 2 0 1 0-2 0-1 0 1 1 6 0-6 0-1 0 8 0 3 0-5 1-6 0 2 0 3 0-3 0-3 0 7 1-9 0 8 0 2 0-10 0 10 1-7 0-1 0 10 0-1 0-8 1 8 0 1 0-4 0-3 0 8 0-10 1-1 0 5 0 1 0-7 1 11 0-3 0 1 0-2 0 3 0-3 0 4 1-8 0 6 0-5 0 8 0-5 0 2 0-4 0 3 1 4 0-8 0 5 0 3 0-7 1-3 0 8 0-3 0 3 1 0 0-2 0 0 0-3 1 5 0 1 0-6 0-1 0 7 1-9 0 2 1-1 0 6 0 1 1-5 0-3 0 11 0-4 0-4 1 4 0-6 0 0 0 9 1-6 0-4 0 3 0-2 0 1 1 6 0-5 0-2 0 3 0 5 0-4 0-5 0 5 1 2 0-3 0 3 0-1 1 1 0 1 0-8 0-2 0 2 0-1 0 1 1 1 0-2 1 8 0-3 0-2 0 2 0-5 0 0 0 2 0 8 1-13 0 12 0-6 0-4 0 3 0-3 0 2 1-2 0 6 0-5 0 9 0-3 0-5 1 7 0-7 0-4 1 10 0-6 1-1 0-1 0-3 0 0 0 8 0 4 0-4 0-7 0 8 1-8 0 15 0-16 0 7 0-6 1 0 0 11 0 1 0-12 0 0 1 2 0-1 0 1 0 8 0-6 0 3 0-7 0 0 0 14 1-14 0 7 0-6 0 4 0 4 1-8 0 6 0 0 0-5 0 3 0 3 0 2 0 0 1-10 0 1 0 6 1 6 0-10 0 0 0 1 1 1 0-6 0 6 0-5 0 1 0 3 0 1 1-1 0-2 0-2 1 8 0-2 0-5 0-1 0 0 0 11 0-5 0-6 0 11 1-8 1 10 1-12 0 5 1-3 0 8 0-1 0 1 0-7 0 0 1 0 0-4 1 8 0 6 0-10 0-4 0 7 0-3 1 1 0 2 1-2 0-5 0 0 0 11 1-12 0 5 0-2 0-2 0 1 1 12 0-1 0-12 1 10 0-4 1 1 0-6 0 12 0-12 0 2 0 3 0-4 1 6 0-3 1-3 0 5 1 2 0 1 0-7 1-1 0-1 0 2 0-1 0 9 0-3 1-4 0 5 1-2 0-7 0 4 1 0 0-4 0 1 0-1 0 7 0-6 1 4 1-4 0-2 1 1 0 3 1 5 0-3 2 1 0-3 2-2 1 3 1 4 0 2 1-9 1 0 0 5 0 7 2 1 0-10 1 3 0-4 1-2 0 5 0-2 0-3 1 3 1-3 0 8 2-8 2-1 1 6 0-6 1 9 0-9 1 3 1 3 0 0 0-1 0-2 2 0 2 1 1 6 2-8 0 2 1-2 1 1 0 9 0-6 2-6 3 8 0-6 6 11 2-4 2 0 1 0 0-8 9-1 0 5 0 0 2 3 2-5 5 7 3-5 2 8 0-3 2 3 0-11 26 3 13 4 4-4 1 8 35-12 26 9 26-8-85 15-4-1-3 11-114-9-6-1-1 5-3-2-6-4-7 7-1-3-2-4-2 12-2-13-1 1-1 0-1 7 0-3-3 1 0-5-3-1 0 11-1 0-1-9 0 14-1-15 0-1-2 1 0 0-1 4-1 1 0 0-1 1-1-4-1-2 0 0-1 2 0-1 0 7-1-7-1-2 0 13 0-3-1-8 0 4 0 5-1-8-1 0 0-3 0 9 0-8-1 4 0 3 0-6 0 5 0 7-1-12 0 8-1-9 0 3 0 9-1-9 0 1 0-1 0-3 0 3 0 3 0 0-1 4 0-8 0 6 0-8 0 1 0 5 0 4 0-7-1-2-2 13 0-14 0 9 0-8-1 2 0 7 0-1 0 4 0-9-1-3 0 3 0-2 0 1-1 7 0 2-1 0 0-12 0 3 0 3 0-5-1 2 0 8 0 1 0-10-1 12 0-8 0-5 0 11 0-3 0-7 0-1-1 2-1 2 0-6 0 4 0 5-1-7 0 7 0-6 0 0-1-1 0 6 0-5 0 4-1-6 0 6 0-4 0 4-1 0 0-4 0 4 0 2 0-4-1-1-1 6 0 5 0-10 0 0-1 10 0-6 0-2 0 1 0-2 0 2-1-1-1-3-1 7 0-3 0-1 0 9-1 0 0-11 0 3 0 0 0-3 0 9 0-6 0 5-1 0 0-8 0 4 0-3-1-1 0 5 0-3 0 5 0-6 0 5-1-6-1 5 0-3 0 3 0 0 0 5 0-5-1 2 0-5 0 8 0-3 0-1-1 0 0-1 0 2 0-5-1 3 0-3-1 4 0-3 0 3 0-3 0 4 0-3-1 2 0-1-1-1 0-2 0 1 0 2-1 0 0-1 0 4 0-1-1 4 0-6 0 0 0 0-1 0 0 6-1-4 0 1 0 1 0 2 0-3 0-1-1 0 0 0 0 2 0-1-1 2 0-3 0 2-1-1 0-1 0 1-1 2 0 1 0-2 0 2-1 0-1-3 0 1-1-3-1 4 0-2-1-1-1 0 0 2 0-2 0 0 0-1-1 2-1 2 0-1 0 0-2 2 0-1-11 0-2 1-1-1 0-1-1 0 0-1 0 0 0-1-1 0-1 3 0-3 0-2 0-2 0 5 0-1 0-5-1 5 0-4 0 4 0-1 0 2-1 2 0-9 0 2 0-1 0-2 0 6 0-5-1 0-1 5 0 1 0-4 0 5 0-7 0-2-1 9 0-12 0 0 0 6 0 0 0-2 0 8 0-11 0 4 0 8 0-9-1 3 0-2 0 6-1-8 0 9-1-1 0-6 0-2-1-4 0 5 0 8 0-2 0-5 0 1 0-1-1-4 0 8-1 0 0 0-1 6 0-7-1-3-1-2 0-4-1 14-1-6 0 1-1-5 0-2-1 9 0-4-1 2-1 5 0-8 0 3-1 5 0-2 0-8-1-2 0 5-1 1 0 7 0-15 0 1 0 3 0 4-1 3 0 3 0-4-2 1-1-9 0 8 0-6-1 11-1-9 0-1-2 5-1 2 0-10-1 6 0-7 0 3-1-2-1 4 0 9-1-4 0-2-1 3 0-5-1 3 0 0-1-3 0 0 0 0-1 7-2-13-1 7-1-5-1 6-1-5 0 7 0 1-1-5 0 5 0-6 0 9 0-12 0 12 0 0 0-10-1 9 0-5 0-6 0 11-1-6-6-4-2 3-1-4-4 7-4-5-2 3-3 0-2 5-6-6-6-4 3 14 7 3 1 11 4-5 0-7 9 2 9 4 2-8 3 6 0 0 0-6 1 9 0-9 0 3 1 4 3-3 0-1 0 10 0-13 1 0 0 6 1 7 2-5 2-7 0 10 1-7 1-5 1 1 0 9 3 1 2-9 1 5 2-5 0-1 3 3 4 4 0-1 2-3 0 11 0-12 0 2 0-3 1-2 0 10 2-6 0-2 0 3 1-4 1 2 2 3 1 4 0 0 0-4 1-2 0 1 0 1 1 3 0-9 0 5 1-2 0-2 1 10 1-11 1 0 0 5 1 1 0 3 0-5 0-2 0 10 1-5 0 4 0 0 0-2 0-2 0-5 1 12 0-6 0-4 1 9 0-2 0-7 0 3 0 5 0-10 0 9 1-11 0 3 0 1 0 7 0-4 0 1 0 2 0-7 1 12 0-13 1 0 0 7 0 0 0 2 0-9 1 6 0 5 0-11 0 13 0-12 0 12 1-6 0-4 0 0 0 2 1-1 0 4 0-2 1-3 0 1 0 8 0-5 1-7 0 1 0 0 1 2 0 3 0 6 0-9 0-2 0 1 0 0 0-3 1 2 0 2 0-3 0 2 1-1 0 5 0-5 0-1 0 2 1 12 0-9 0-4 0-1 1 3 0 9 0-5 0-2 0-5 0 6 0-5 1 0 0-1 0 1 0 4 0-2 1-2 0-1 1 0 0 2 0 2 1-3 0 1 0 5 0-3 0-6 0 13 1-12 0 5 0 1 0-6 1 6 0 9 1-7 0-7 0 3 1-5 0 2 0-1 0 9 1-5 0 2 1 3 0-9 0 8 1-9 0 8 1-8 1 0 0 14 0-11 0 6 1-8 1-1 0 3 0 1 2-3 0 11 0-9 0-3 1 7 0-5 0 0 0 5 1 2 1-4 0 3 0-7 1 7 1-3 1-2 0 0 0-2 1 0 0 0 1-1 1 3 4 6 2-9 2 12 0-12 4 1 0 6 2-6 3 6 2 0 2-5 1 0-24 19-12-1-2-2-6-1-15 9-4-8-4 5-15 3 0-2" fill="none" stroke="none" marker-start="url(#m)" marker-mid="url(#m)" marker-end="url(#m)"/></g></g><line x1="45.52" y1="770.08" x2="325.98" y2="561.72" stroke="#0e820e" stroke-width="1.3"/><rect x="31.5" y="551.3" width="308.5" height="229.2" fill="none" stroke="#000" stroke-width="0.75"/><path d="M41.73 780.5v3M31.5 772.9h-3M104.9 780.5v3M31.5 725.97h-3M168.06 780.5v3M31.5 679.04h-3M231.23 780.5v3M31.5 632.11h-3M294.39 780.5v3M31.5 585.18h-3" stroke="#000" stroke-width="0.75" fill="none"/><g font-family="DejaVu Sans" font-size="8.7" fill="#222"><text x="41.73" y="793.1" text-anchor="middle">50</text><text x="25.6" y="776.1" text-anchor="end">50</text><text x="104.9" y="793.1" text-anchor="middle">100</text><text x="25.6" y="729.17" text-anchor="end">100</text><text x="168.06" y="793.1" text-anchor="middle">150</text><text x="25.6" y="682.24" text-anchor="end">150</text><text x="231.23" y="793.1" text-anchor="middle">200</text><text x="25.6" y="635.31" text-anchor="end">200</text><text x="294.39" y="793.1" text-anchor="middle">250</text><text x="25.6" y="588.38" text-anchor="end">250</text><text x="185.75" y="804.7" text-anchor="middle">actual glucose (mg/dL)</text><text transform="translate(6.6 665.9) rotate(-90)" text-anchor="middle">predicted glucose (mg/dL)</text></g><text x="185.75" y="548.5" text-anchor="middle" font-family="DejaVu Sans" font-size="10.38" fill="#222">Glucose Estimation of future 60 mins</text>
<g transform="translate(374.7 551.3)"><path d="M141 139 139 140 140 144 138 145 137 147 135 146 135 142 133 142 132 141 131 141 130 143 126 142 124 145 122 145 121 144 121 142 122 141 124 141 124 139 121 136 118 138 118 140 117 141 114 140 112 138 109 138 104 141 100 141 100 143 99 144 97 144 95 142 95 139 91 139 90 140 88 140 89 143 83 148 81 147 81 144 78 144 78 145 81 147 80 151 79 152 74 152 71 154 71 156 69 157 67 160 67 162 65 163 65 165 64 166 61 166 60 169 57 172 56 176 58 178 58 180 59 181 58 185 59 186 59 188 61 189 61 192 65 191 67 189 69 189 70 190 80 189 87 185 91 184 91 182 92 181 94 182 94 184 97 184 99 181 102 181 104 178 108 178 108 174 110 172 112 173 112 177 116 177 116 173 121 169 123 170 123 172 121 173 121 174 122 174 123 172 127 172 130 168 134 170 135 169 135 167 136 166 138 166 138 163 140 161 141 161 142 162 142 164 143 164 143 162 142 162 141 160 138 158 139 156 143 156 143 155 141 155 140 154ZM125 164 126 166 123 168 122 166ZM131 162 133 161 134 163 132 164ZM74 154 75 155 75 157 71 160 70 159 70 157ZM117 143 119 142 120 144 118 145ZM119 140 121 139 122 141 120 142Z" fill="#1f77b4"/><g transform="scale(.5)"><path d="M573 127l-398 10 108-5 144 9 154-7-265 25-46-7-4-3-9 7-20-3-9 2-8 4-33-15-24 29 40-8 5 3 6 2 3 0 1-6 9 8 11-1 4-5 68-5 241 29-252-1-47-7-3 7-3-4-4-5-8-2-1 9-11-2-7-2-3 5-13-2 0-4-15-3 0 7-7-7-13 1-13 7-19 16 42 0 23-9 11 5 7 9 2-2 3-2 17-4 2-7 27 4 47 3 9 5 5 0 27-9 6 2 14 8 99 0 72-3 32 20-42-8-27 4-14 0-43-9-36 12-17 0-5-11-30 9-1 3-5-3-9-12-3 13-5-1-4 3-7-2-7-8-6 0-10 4 0 4-4-1-2-4 0 8-1-5-7 5-2-12-4 5-2 3-6 4-1-8 0 6-5 1-1-1-4-8-10-1-1 10 0 1 0-11-3 10-1 1-3-5-1-7-10 9-6-2-3 0-4-5-1-1-5 7-4 3 0-6-8 1-9 3-7-6-6-3-1 8-1-8-2 3-3-4-2-2-1 9 0 6-6-10-7 2-3 1-6-5-8 5-8 4-26 17 17-5 10-2 4 7 3 2 10-15 2 4 1 10 1 1 0-14 5 9 2 2 2-2 1 1 2 3 5-3 2-11 1 8 1 3 2-11 6 5 4-1 3-2 1 12 1-13 4 14 1 0 1-3 0-13 3 9 1 1 1-7 0-3 2 10 7 6 1-3 1 1 3-3 0-2 2 2 1 2 3-3 4 5 0 0 1-3 0-8 1 9 0 2 1-9 1 1 1-5 1 14 1-6 3-7 1 10 3-1 0 1 3-12 1 5 0 2 0 8 3-12 0 7 1-1 1-5 2 9 1-5 0-7 3 12 1 0 0-9 1 10 1-14 1 3 1 0 0 5 1-8 1 12 1-4 4 6 7-10 3-2 1 12 2-12 0 3 1 2 1 6 2-6 0-3 1 5 0 6 1-14 0 14 1-13 2 3 5 7 6-1 1-3 1-1 2 6 0 2 1-14 4 10 9-3 1 6 5-11 2 5 4 0 1 5 3-12 12 2 6 11 0-7 3 6 1-1 1-8 0-1 16 6 1-7 3 7 14 0 20-5 8 8 0-5 4 1 0-2 21 4 15-8 32 2 23-4 66 7 11 15-32-3-7 6-42 3-4-10-14 1-4-2-36 7-7-3-8 5 0-5-10-3-23 5-12-2-4 1-1-4-1-2-4 14-3-12-2 11-1-2-8-3 0 6-8-12-1 4-1 3-5-7 0 10-4-2-3-7-1 10-2-12-1 7-3-5-4 0-1-2-1 13 0-7-1 0 0 6 0-1-4-2-1 5 0 0-2-12-2 8 0 2-4-7-5 6-1-4-3 3 0-12-1 9-4 2-5-7-1 7-1 3 0-5 0 6-2-4 0-10-2 13 0-13-2 8-1-6 0 7-1 3 0 2-1-10 0-2 0 8-1-9 0 7 0 3 0 2-1 2-1-7 0 0-3 6-1-6 0 3-1 1-2-7-1 7-2-11-2 5-1 7-2-1-1-11 0 2-2 12 0-6-1-7 0 0 0 9-2 1-1-3 0 5 0-10-3 0 0-1-1 3 0-5 0 11-1-3-1-7 0 4 0 0 0 0-2 0 0 4-1-3-1 2 0 3-1-2 0-10 0 10 0 5 0-5-1-3 0 0-1-3 0-4 0 2-1 11 0-9 0 3 0 3-2 3-1-3 0 1 0-7-1 2-1-2 0 7-1-11 0 1-1 2 0 4-1 4-1-6 0 4 0-4-1 6 0-1 0 5 0-14-1 11 0 1 0 1 0-12-1 11-1 1-1-2-2-4 0-5 0-4 0 15 0-5-1 0 0 2 0 2-1-7-1-6-2 11-1-6-1 10 0-13 0 13-1-2 0-12 0 4-2 10 0-2 0-11 0 1-1 12 0-11 0 5 0-1 0 1 0-7-1 9-1-3 0-6-1 6 0 5-1 0 0-4 0-5-1 6-1 0 0 4 0 0 0-3-1-8-1 0 0 7-2 1 0-2 0 4-1-8 0 4 0 4-1-7 0 6-2 3 0-11-2 3-1 6-2 0 0 0 0 2-1-10 0-3-1 6 0 7 0-1-1-3 0 3-3-8 0 6 0 2-1-9 0-5-1 13 0 1-1-13 0 7-1-1 0 3-2 1 0-9 0 9-2-5 0 8-1-5 0-3-1-2-3 7-3-5 0-2 0 0 0 10-1 0 0-14-1 3-1 0 0-2-1 9 0 0-1 1 0-6 0 9-1-2 0-3 0-7 0 6-1-6-1 11 0-2-1 1 0 0 0 3 0-16 0 1-1 4-1 7-1-1-3-11-1 7-1 3-5-8 0 13 0 0-1-2 0-8-1 3-2-4-2 8 0 1-1 3 0-16-2 7 0 6 0-12-4 11-3-10-2 11-2-8-1 11-1-3-5-4-4-7-3 3-1-2-4-3-13 4-44 1 45 19 10 1 9 4 2 3 2-3 1-12 1 15 2-16 4 11 0-2 2 0 0-6 1 10 4-9 0 2 1 4 0 5 1-4 0 5 1-15 0 7 1 4 1-3 0-3 2 0 0-5 0 11 1-3 0 6 0-8 1 2 0 0 0 3 1-5 1 6 0 0 1-12 1 1 0 5 0 1 1 8 0-4 0-2 0 4 1-2 0-3 0-1 1 3 1 2 0-10 1 11 0-5 1-4 0 4 1 5 1-14 1 5 0 5 0 4 0-4 1 5 0-9 0-5 0 2 0 6 0 1 0 3 0-3 0-2 0 8 1-6 0-5 0 6 1-5 0 9 1-5 0 2 1-6 0 1 1 2 1 6 0-1 1-5 0 3 0-8 2-2 0 7 1 3 0-4 0 5 1-3 0 2 0-6 0 7 0 0 0-8 0 6 0-7 1 11 0 0 0-7 0 2 0 2 0-1 1 4 2-13 0 2 0 8 0-10 0 2 1 11 0-11 0 5 1-7 0 6 0-6 1 4 0 7 0-1 1-1 0 1 1-9 1 1 0-2 1 12 0-8 0 2 0-4 0 4 1-7 0 4 1 1 0 1 0-4 0 8 0 5 0-6 0-8 1 6 0 1 1-3 0 6 0-2 0 0 0-4 1-3 0 10 0-7 0 4 1-2 0 7 0-9 0 2 1-8 0 15 0-12 0 8 0 3 0 1 1-8 0-5 0 0 0 9 0 2 0-13 1 13 0-1 0 3 0-5 1-5 0-2 1 0 0 4 0-4 0 11 0 1 0-2 0-10 1 7 0-2 0-3 0 0 0 1 0-3 0 9 0-6 1 2 0 4 1 2 0-5 0-1 1-1 0 2 1-3 0 6 0-11 0 10 1-7 0 8 0-4 1 4 0-9 0 0 0 9 0-11 0 8 0 1 0 5 0-2 0-1 1 0 0 4 0-15 0 15 0-9 1 1 0 5 0 1 0-2 0 2 1 0 0 1 1-4 1 1 0-8 0-1 0 10 1 0 0-10 1 4 0-4 0 9 0-8 1 0 0 5 0 1 0 3 0-7 0 4 0 4 0-3 1 0 0-10 0-1 1 6 0-3 0 8 1-11 0 4 1 10 0-1 0-7 0 8 0-2 2-5 0-6 0 7 0-7 1 14 0-11 0-4 0 16 1-3 0-6 0 7 0-3 1-10 0 0 0-1 0 2 1 6 0-5 0 11 1-10 0 5 0-2 0 6 1-12 0 14 0-7 0 3 1-2 1 2 0-7 0 10 1 1 0-3 1 2 0-6 0-6 0 8 0-4 0 8 0-4 1-4 0-1 0 6 0 4 0 0 0-3 1-8 0 9 0-5 1 3 0-9 0 5 0 5 1 2 0-8 0-3 1 2 0-4 0 14 0-13 0 6 1 4 0-4 0 2 0-5 0-4 0 6 1 1 0-7 0 9 0 4 1-11 0 7 0-1 0-3 1-4 1 10 0-5 2 5 0 4 0-2 0-1 1-9 0 1 0 6 0 0 1 0 0 1 0 2 0 1 0-8 0-4 1 8 0-3 0-3 0 4 1 3 0-3 0-9 0 4 0-1 1 11 0 1 0-2 0 1 1-3 0 2 0-12 0 11 0-9 1 9 1-6 0 0 0 0 0 3 1 5 0-9 1 3 0 5 0 2 0-3 0-7 0-1 0 10 0-2 1-9 0 9 0 4 1-15 0 14 0-13 0 13 1-6 0 3 1-3 0-3 0 5 1 1 1-10 0 13 0-1 0 2 1-14 0 13 0-10 0 7 0-5 0-1 1 2 0 8 1-7 0-1 0-1 0 4 0-7 0 3 1 4 0-6 0-1 0 3 1 0 0 7 1 1 0-1 0-12 0 11 1-7 1 3 0 4 1-1 0-3 1-1 0-8 1 5 0-3 1 7 0 3 1-9 0 3 0 3 0-5 0 11 1-7 0-7 0 8 0-5 0 2 0 6 0-8 1 0 0 9 0-10 1 6 0-4 0 0 1 9 1-10 0-3 0 7 0 4 1-6 0 8 1-5 0-6 1 12 0-12 0 3 0 6 0-2 1 4 2-10 0 7 0 3 0 1 1-1 0-12 0 4 1 9 1-14 0 4 0-1 1 9 0-4 0 2 0-2 0-1 1 1 0 3 0 1 0-10 1 2 0 8 0 1 1-3 0-4 1 5 0 3 0-1 1-4 1-3 1 2 0 1 1 2 1-1 0-3 1-3 1 11 0-4 0-7 1-2 0 10 0-3 1-4 0-1 0 7 1 0 0 2 2-2 0-8 1 5 1 1 1 0 0 2 1-12 2 15 0-1 0 1 0 1 2-2 1-10 1 8 0-4 1-1 1 5 0-5 2 6 1-7 0 8 0-12 1 8 1-4 0 5 0 1 3-2 0-5 1 2 1 7 1-12 1 6 1 0 0-6 4 13 0-4 1-3 0 2 1 3 0-7 1 6 2 0 2 3 0-14 1 12 1-11 1 2 0-3 0 15 2-5 4-4 1-6 1 15 2-7 2-8 0 8 2-4 1 3 0 6 2-13 1 14 1-4 1-8 1 10 0-9 0-2 1 3 2 8 6-9 1 7 1-1 2 4 3-3 5-6 0 4 8 5 1-2 0-5 1 4 2-2 4 2 2-2 4-9 1 1 21 1 10 8 10-9 7 5 6-2 23 1 0-2 32 2 26 8 20-7-24 19-8-3-15 1-40-4-11 11-5-1-4-12-38 9-4-7-1 10-2-7-1-5-10 5-1-1 0 10-1-8-10-5-3 6-2 6-4-7 0-1-5-4-1 13-3 0-1-13-2 6-2 5 0-4-5 0-4-4 0 8 0-4-5 4-2-6 0 0 0 2-1 1 0 5 0 0-1-11-1 1 0 10-1-11-1 5-3-2 0-6 0 13-1 0 0-1-2-3-1 3-1 3-2-3 0 2-1-2-2-12 0 7-1 0 0 5-2-6 0-4 0 4 0 4-1 3-2 2 0-10-2 5-1 1-1-4 0 3-1 0-1-6 0 2 0-6 0 11-1-5 0 6 0 2-2-2 0-1 0 1 0 0-1 1-1-11 0-3 0 3-1 0 0 4 0 2-1-8-1 12 0-12 0 11-1 1 0-5 0-5 0 3-1 3 0 2-1 4-1 1-1-4-1-9-1-1-1 5 0 4 0 3-1-3-1 1 0 3 0-4-1-6 0-3 0 6-1 0 0 2 0 0-1-6 0 10 0-6-1 5 0-8 0-1-1 9 0-9 0 4 0 2 0-9-1 5 0 9 0-13 0 1 0 2-1 11 0-15 0 13 0-5 0-3-1-1 0 8-1-3 0-2 0-7 0 1-1-1 0 0 0 3-1-2 0 12 0-6-1-2 0 8-1-2 0-9 0 10 0-10 0 4-1 3 0 3 0-9 0 4-1 6 0-6 0 5-1-8 0-4 0 0 0 2 0 11 0-10 0 9 0 2-1-9 0 1 0 6 0 2-1-6 0-7 0 12-1-8 0 6 0 1 0-2 0 3 0-9-1 11 0-4 0-6-1 9 0-10 0 10-1-10 0 4 0-7 0 12 0 1 0-10-1 9 0-6 0 4-1 1 0-10 0 3 0 2 0 2 0-6 0 11 0-5 0 5-1-8-1-3 0 3 0 0 0-4 0 1-1 8 0 0 0-8 0 4 0 8-1-4 0-7 0 1 0 9 0-8 0-6 0-1 0 11 0-4-1 8 0-4 0-4 0 3 0 0 0 3 0 0 0 3-1-10 0 6 0-10 0 9 0 2 0-5 0 2-1-8 0 4 0-5 0 5 0 7 0-8-1 5 0 5 0 0 0-8-1-2 0 4 0 0 0-2 0-5 0 12-1-5 0 1 0-5 0 9-1-3 0-2 0 0-1-4 0-4 0 1 0 8 0-10 0 4 0 11 0 1-1-10 0-5 0 13 0-12 0 2-1 6 0 3 0 0 0 2 0-3-1-2 0 4 0 2 0-4-1-1 0 1 0-2 0 2 0 1 0-1-1 2 0-11 0 0-1-1 0 5 0 1-1 1 0 2 0-1 0 1-1-9 0 5 0 2 0-3-1 1 0 4 0-4-1-7 0 11 0-1-1 2 0-7 0 4 0-2-1-7 0 9 0-7 0 11 0 0 0-1 0-3 0-2-1 0-1 4 0-3 0-2 0 0 0 9 0 0-1-5 0-2 0-7 0 11 0-6-1 6 0-7 0-3 0 7 0-2 0-5-1 0 0 10 0-3-1-5 0 2 0 7 0-3 0-6 0 9 0-13-1 11 0-6 0 3 0-7 0 9 0-7-1 8 0-11 0 9 0-4 0-1 0 9-1-10 0 11 0-14 0 11 0 0 0-9-1 2 0 9 0-12 0 0 0 9 0 2 0 2-1-9 0 9 0-9 0 1-1 3 0-4 0 7 0-1-1-8 0 0 0 9 0-8 0 2 0 0 0-1 0-3 0 7 0 3-1-5-1 2 0-5 0 4 0 3 0-1 0 1 0-6 0 3-1-6 0 3 0 9 0-5 0-5 0 0 0 4-1-2 0 3 0 6 0-13 0 11 0-12 0 6 0-2 0-5-1 14 0-5 0-8 0 13 0-1 0-8 0-5 0 2-1 4 0-6 0 12 0 0 0 1-1-1 0-2 0 3 0-8 0-4 0 3-1 11 0-11 0 0-1-1 0 7 0 4 0-12 0 10 0 3 0-4-1-11 0 7 0 0 0 2 0 5 0-3 0 4 0-15-1 9 0-1 0-2 0 3 0-7 0 3 0 5-1-4 0-2 0 6 0 4 0-8 0-1 0-3-1 10 0-2 0-2 0-1 0 1 0 3 0 2-1-13 0 12 0-9 0 2 0-3 0 2 0 11-1-1 0-2 0-1 0 1-1-9 0 1 0-1 0 13 0-5 0 3-1-5 0-5-1 4 0-3 0 0-1 3 0-1 0-1 0 2 0-2 0 2-1-8 0 7-1-2 0 1 0-6-1 5-1-1 0-1-1 3 0-5 0 1 0 1 0 1-1 0 0-2-1 2 0-1 0 1 0-4 0 5 0-4 0 0-1 2-1 0-1 1-1 0-1 0-1-2-1 1 0-2 0 3-1-4-1 4-1-2 0 3 0-1 0-2 0 4-1-4 0 3 0 0 0-2-1-2-1 3 0-4 0 1-1 6 0-5 0-1 0 1 0 3-1 0 0 1 0 4-1 0 0-3 0-5 0 2 0 4 0 3 0-2-1-5 0 4 0-5-1 3 0 3 0 1-1-9 0 9 0 0-1-3 0 1 0-2-1-4 0 1 0 7-1 3 0-3 0 0 0 0 0 4-1 0 0-11 0 3 0 7 0-4 0-4 0-4 0 2 0 11-1-4 0-7 0-3 0 3 0 6 0 1 0-5-1 2 0-7 0 6 0 0-1 3 0-5 0 6 0-6 0 1-1-2 0 4 0-6 0 9-1-3 0-7 0 3 0 10 0 2-1 0 0 0 0-9 0 9 0-13 0 12-1-7 0 4 0 3 0-7 0-3 0-3-1 5 0 5 0-2 0-1 0 5-1-1 0-2 0 2 0-7-1-2 0 0 0 4 0 4 0-5 0 3 0-3-1 3 0 3 0-8 0 1 0 3 0-4-1 6 0-9 0-1 0 5 0 2-1-3 0-2-2 2 0 3-1-4 0 3 0-3 0 3-1 0 0 0 0-3 0 3 0 1-1-2-1 0-1-4 0 5 0 7 0-1 0-6-1 5 0 0 0 1-1-4 0-1 0 0 0-1 0-4 0 10-1 4 0-6 0 2 0 1-1-6 0 2 0-8 0 14 0-6 0 7-1-10 0 0 0 3 0-2 0 2 0 3-1-11 0 5 0 0 0-6 0 5-1 2 0 7 0-3 0-5 0 8 0-4 0-10-1 9 0 6 0-7 0-3-1 7 0 3 0-15 0 15-1-5 0 1 0-4-1 6 0-11 0 0 0 9 0 4-1-1 0-12 0 0 0 8 0-1 0-1 0 4-1 3 0-8 0 0 0 1 0-3 0 5-1-5 0-3 0 3 0 3 0 4 0 1 0-4-1 6 0-6 0 2-1 3 0-4-1 5 0-11 0 11 0-13 0 8-1-2 0 5 0-9 0-1 0 11-1 0 0-7-1-6 0 4 0 8 0-10-1 8 0-2 0 6-1-2 0-9 0 11 0-4-1 2 0-11 0 4 0 6-1 3-1-13 0 9-1 0-1-2 0-1-1 6-1-13 0 10 0-4 0 2 0 1-1 0 0 2-2 3 0-11-1 9 0-8-1 0 0-5 0 16-1-8 0-5-2 6 0-8 0 14-1 0-1-4-1-1-1 4-1-1 0-3 0 5-1-13-1 3-1 11-4 0-1-2-1 0-1-5-1 2-3 0-1 2-3-6-1 7-5 1-1-11-43 17 2 0 1 4 31 7 8-14 0 10 6 0 0 1 1 1 6 1 1 1 0-7 3 3 0-3 0 6 1-1 0 1 0-8 0 1 0 5 0 1 0-9 2 6 0 5 1-1 1-8 0 0 1 6 0-9 0 1 0 3 1-5 0-1 0 6 0 7 1-14 0 11 1-2 0-7 0 0 1 4 1 3 0 0 0 5 0-11 0 6 1-9 0 8 1 1 1-1 1-2 1 2 0-9 0 3 1 11 0-2 0 1 0-12 0 6 1 5 0 3 0-6 0 3 0-7 0 11 1-11 0-1 1 0 0 9 0-4 0 7 0-10 0 2 1-3 0 8 0-10 1 12 0-11 0 7 0-5 0-4 0 14 0-14 1 14 0-9 0 3 0-5 0 9 0 0 1-4 0 1 0 4 0-7 0 1 1 6 0-5 0-7 0 13 0-14 0 11 0-11 0 4 1-3 0 7 0-9 0 14 0-13 0 7 0-7 0-1 0 10 0 3 1 0 0-6 0 4 0-12 1 6 0 0 0-2 0-2 0 8 0 2 1-2 0-10 0 14 1-13 0 0 0 1 0-2 0 6 1 4 0-5 0-1 1-2 0 8 0-8 0 9 0 3 0-3 0-5 0-2 0 11 0-9 0-6 0 13 1-2 0-7 0 5 0-5 0 2 0 3 0-6 1-3 0 8 0-3 1 4 0 1 0-7 0-1 1 7 0-3 1-5 1 4 0-5 0 2 0 2 1 2 0-2 1 2 0-1 0 1 1-4 0 2 1-2 0 2 2-2 1 3 0-3 1 0 0-1 0 1 2-1 17-1 2 1 37 0 1-1 0 1 3 2 0 0 0-1 0-1 0 2 0-2 0 1 1 1 3-2 2 0 1 0 1 1 0 0 0 0 1 1 2-2 0-1 0 0 3 0 17 4 0-3 0 2 0-1 1 2 0-3 0 2 1-2 0-1 1 2 1 2 0-3 1 3 1-3 0 0 3 0 0 2 1-1 0 1 0 2 0 0 0-2 0 12 1-15 0 10 0 0 0-6 0-4 0 1 0 9 0 6 0 0 0 0 1-13 0 13 0-13 0 5 0 6 0-5 0-3 0 0 0 3 1-2 0-5 0 4 0-3 0 9 1-11 0 9 0-8 0 13 0-13 0 11 1-8 0 3 0 4 0-8 1-4 0 7 0 4 0 2 0-5 0 2 0 2 0-7 0 7 1-2 0-1 1 4 0 2 0-13 0 8 1 0 0-10 0 6 0 5 0 3 0-8 1 0 0 0 0 7 0-13 0 16 0-3 0-12 1 15 0-1 0-5 1-2 0 8 1-15 0 10 0-3 0 3 0 4 0-4 0-5 1 9 0-15 0 15 0-7 0-2 0 6 1 0 0 0 0-9 1 3 0 8 0-1 0 0 0 0 0-12 0 9 0-4 1 0 0 7 0-2 0-6 0-2 0 3 0 9 1-14 0 4 0-5 0 9 0-1 1 8 0-2 0 0 0-7 0 5 1-11 0 13 0-8 0 3 1-3 0 5 0 1 0-6 0 2 0 1 1 3 0 1 0-4 0-3 0 7 0-8 1-5 0 12 0-4 0-6 0 6 0-8 1 7 0 1 1 7 0-6 1 0 0 2 0-2 0-2 0 6 1-11 1 11 0 1 1-7 0-5 0 1 0 0 1 6 0 0 0 6 1-10 0 9 0-7 0 1 1 6 0-9 1 0 0 2 0 8 0-7 0 4 0 1 1-6 0 1 0 5 0 0 0-9 1 0 0 2 0 6 1 1 0 2 0-13 1 6 0 2 0-1 0-4 0 1 1 1 0-5 0 1 0 3 1 6 0-4 0 6 1-8 0 9 0-6 0-4 1-3 0 4 0 2 0 2 0 2 0-12 1 2 0 8 1-7 1 3 0 7 0-6 1 6 0-7 0 10 0-11 1-2 0 0 0-3 0 3 1 2 0 5 0 0 0-1 0-1 1 4 2 4 0-14 0 0 0 5 1 2 1-6 1-2 0 5 0-1 1 11 1-6 0-10 1 15 1-2 1-9 0 2 1 1 0 8 1-11 0-3 1 13 1-10 1 3 0 2 1-7 1-1 2 12 1-4 0 6 1-6 0 0 1-7 1 2 4 6 1-3 2 3 1 4 2-11 0 8 3-2 0 2 2 2 1-5 2 8 0-12 1 1 2-5 0 1 1 9 0 1 1-6 3-2 1 1 2 12 2-9 0-3 5-1 1 0 3-2 0 2 0 12 1-2 3-3 3 5 3 0 4-14 8 4 0-1 14 9 10-4 25-6 3 4 14 1-35 12 0 1-13 4-5-1-1-3-1 9-4-11-1 8 0-1-4-9-3 12-4-10-11 0-4 4-7-4-1 6-3-2-2 6-1-10-3-1-1 14-1-10-3 6-2-7-4 3-2 7-2-10 0 11-1-6-1-1 0 2-1-8-2 7 0-6-2 2 0-2-3-1 0 3 0 4-1-10-1 12 0-1 0 4-1-10-1-1 0 6-1 1-1-8-4 9 0-11-2 4 0 3-1-4-1 4-3-1 0-6 0 3-1-3 0 0-1 6-1-6 0 14-1-1-2-10 0-1 0-2 0 5-1 8-1-12 0 0 0 10-2-8 0 5-1 1 0-5 0 1 0 5 0-8-1-1 0 8 0 1 0 4 0-5-1-7 0 13-1-3 0 1-1 0 0-13-1 11-1 4 0-10 0 9 0-8 0-2-1-2 0 13 0 0-1-6 0 0-1 4 0-14-1 10 0-1 0 6 0-2-1-6 0 0 0-2 0-2 0 3 0 9-1-7 0 5 0-7 0 1 0-6-1 9-1-3-1 9 0-15 0 4-1-5 0 9 0-1 0 4-1-6-1-2 0 11-1-4 0-2 0 0 0-6-1 10 0-10 0 3 0 4 0 0 0-1-1-8 0 7 0-6 0-1-1 1 0-1 0 0 0 11 0 2 0-13-1 0 0 15 0-14 0 10 0-9-1 4 0-2 0-1 0 0 0 6 0 4 0-6-1 3 0 3 0-8-1-5 0 12 0-6 0 4-1 5 0 0-1-15 0 4-1-1 0 12 0-15 0 9 0-3 0-4 0 10-1-12 0 8 0-3-1-2 0-2 0-1-1 7 0 7 0-5 0-8 0 7 0-3-1-4 0 6 0-5 0 8-1 1 0-8 0 2 0-3 0 4-1-5 0 3 0 3 0 3 0-6 0 7-1-4 0-2 0 2 0 5 0-7 0-5-1 13 0-12 0 14 0-6 0 2-1-8 0 5 0-5 0 3 0 1 0-7-1 11 0 0 0-3 0-4 0 10-1-9 0-2 0 10 0-14 0 7 0-1 0 7 0 1 0 2 0-10 0-4 0 5 0 9-1-11 0-5 0 8 0-3 0-2-1 9 0 1 0 0 0-2 0-5-1 6 0-9 0 0-1 6 0-1 0 0 0 3-1-2 0 0 0 0-1 2 0 0-118-11-5 4 0 2 0 3-1-4 0 5 0-4 0 0 0 4-1-6 0 3-1 1 0 1 0 3-1-8 0 10 0-3 0-1-1 4 0-6-1-5 0 10 0-12 0 7 0-5 0 0-1 6 0-3 0-3 0 8 0-9 0 3 0 1 0 0-1 3 0-9 0 7 0-7 0 6-1 6 0 2 0-9 0-3 0 4 0 9 0-4 0-3 0-5 0 1 0 2-1 1 0-4 0 12 0-9 0 0 0 8-1 1 0-6 0 3 0-2 0-6 0-3 0 6 0 7 0 1-1-7 0-6 0 7 0-5 0 3 0 2-1 2 0 0 0-6-1 6 0 0 0-4 0 7 0-3 0-9 0 0-1 5-1 6 0-3-1-2 0 2 0-2 0 5 0-5 0-2 0 9 0-1-1-12 0 3 0-2-1 12 0-1 0 0 0-1-1-1 0-7 0 1 0 10 0-1-1-5-1-7 0-2 0 12-1 0 0-3 0 1-1 2-1-4-1-3 0 9 0-5 0-4 0 6 0 2-2-14 0 6 0 3-1 5-1-2-1-2-1-5-1 10 0-9 0 8-3-2-1 0-2 0 0-2-2-4-5 0-28 0-2 6-2 2-2-4-2-6-39 15 17 12 17-4 4-4 1 0 0 0 0-2 1 10 0-9 0 0 1 0 1 4 3-3 5 7 4 1 1-13 6 9 3-8 0 12 0-6 1 2 1 1 0-1 0-11 1 16 2-13 2 8 2 2 2 3 1-7 0-1 1-1 1 3 2-8 0 7 0-2 0 6 1-4 0-3 0 3 2 4 1-5 1-4 0 10 1 1 0-5 0-10 0 13 1 2 0 1 0-4 0-8 1 11 0-10 0 2 1 6 0-7 0 2 0-7 0 2 0 8 0 1 1 2 0-9 0 10 0-3 0-8 0 2 1-3 0 5 0 3 0-2 1 2 0 4 0-12 0 2 0 7 0-6 1 7 0-11 0 8 1-8 0 5 0 5 0-7 0 7 0-2 0-8 1 3 1 4 0 3 0-2 1-1 0-1 0 3 0-9 0 2 0-2 1 3 0-3 1 0 0 4 0-2 0 3 0-6 0 8 0-2 0-7 0 4 0-1 1 7 0-1 0 0 0-3 0-3 0-2 1 9 0-1 3-7 0 2 1 0 0-3 0 3 0-3 7-1 0 1 0 0 1-1 98 14 0 2 0-7 1 1 0 5 0-4 1 1 0-2 0-3 0 4 1-3 0 1 0 1 0 2 0-3 0 0 1 4 0-4 0 2 0-1 1 6 0-2 0 2 0-2 1-7 0 0 0 0 0 3 1 2 0-4 0-2 0 0 0 6 1-2 0-1 0-2 1 1 0 7 1-4 0 3 0-2 1-1 0 2 0-6 4 8 3 1 0-1 0-2 1-6 0 0 0-4 0 0 1 1 0 1 0 8 0 1 1-7 1-5 0 13 0-7 1-3 0-3 0-1 0 7 0-2 0-4 1-2 0 5 1 1 0-4 1 1 0 10 0 0 0 1 0-12 0 3 1 6 0-9 0 3 0-3 0 4 1-4 0 9 0-4 0 6 0-7 0 8 0 1 0-1 1 1 0-1 1-1 0 0 1-1 0-1 1 1 0 1 0 1 0-5 1-5 0 2 0-2 0 3 0 5 1-7 0 7 0-8 0 4 1 0 0 3 0-8 0 8 0-3 0 0 0 5 0-8 0-3 1 1 0 10 0-1 0-9 0-1 0 6 1 3 0 4 0-1 0-8 1 9 0-3 0-3 0-6 0-3 1 1 0 1 0 7 0 4 0 2 0-10 0-2 0 7 0-4 1-5 0 11 0-1 0-7 1 7 0-10 0 3 0-4 0 4 1 10 0-10 0 8 0-3 0 5 1-8 0-1 0-2 0-1 0 11 0-5 0 1 0 0 0-3 0 0 0-5 1 2 0 2 0-2 0 0 0 3 0 3 1-2 0-5 0 3 0-3 0 7 0 1 1-6 0 6 0-3 0 4 0 5 1-11 0-1 0 2 1 1 0 9 0-4 0-8 0 9 1-3 0-6 0 10 0-11 1 7 1-9 1 0 0 5 0 7 0-1 1-9 1 5 0 2 0-7 0 8 0-4 0 2 2-6 1 6 0 2 0 5 0-11 1-3 0-1 1 0 0 2 1 10 0-7 0-6 0 3 1 0 0 13 0-14 1 9 2-1 0-3 1 5 1-7 0 7 1 0 0-7 0-2 1 9 1 2 0-6 2-6 0 10 0-4 0-2 0-5 2 9 0 5 1-14 0-1 0 1 1 10 0 3 1-7 0-6 1 7 1 7 0-11 2 0 1 10 1-13 1 11 1-6 0 0 1-5 2 0 0 3 1-3 1 14 0-8 2-6 0 8 0 6 1-5 0 0 1-3 1 1 0-4 2-4 6 0 2 8 2-4 2 1 0 1 2 9 2-3 3-3 3-9 5 14 2-8 2 0 0-5 62 8 11-7 18 9-26 19-18-6-35 4-4 0-2-5-2 2 0 0-8-6-14 9-12-5-6-6-2 14 0-8-1 1-2 2-1-5 0 4-2-2-1-5-4 12-1 0-2-4-4-1 0-7-1 13-1-7-1-4 0 10 0-11-1 7-1-3-2-7 0 15 0-7 0-6-1 2-1-2-1 5-2-7-1 11-1 0-1-2-2 0 0 4 0-12-1 10 0-1-1-7 0 5-2-4 0 5 0-8 0 9 0 4-1-12 0 2-1 1-1 4 0-1-1 0 0-5 0 2 0-1 0-3-2 0 0 6-2-5 0 5-1 9 0-6-1-1-1-5 0 6 0 3-1-6-1 4 0-1 0-3 0 2 0 7-1-8 0-5 0 10 0-9 0 0 0-3-1 5-1-1 0 11 0-16 0 0 0 4-1 5 0-6-1 8 0-7 0 1 0 9-1-3 0 3 0-11 0 0-1 0 0 6-1-8 0 13 0-12 0 10-1-11 0 5 0-1 0 3 0 2 0-2-1-1 0-3 0 2 0 5 0-8 0 0 0-2-1 1 0 2 0-1 0 2 0-2-1 4 0 0 0-4 0 9-1-8 0-3 0 10 0 0 0-2 0-5 0 6-1-5 0 5 0 4 0-13 0-1 0 13 0-1 0-9-1 3 0-3-1-3 0 13 0-7 0-6-1 6 0 4 0-6 0 0-2-2 0 5 0-5 0 13 0-5 0-3 0-6 0 5-1 8 0-13 0 2-1 5 0-4 0 6-1-2 0-6 0-1 0 0 0 9 0-3-1-4 0 9 0-5 0-6 0 5 0-4 0 2 0-3 0 6-1-1 0 2 0 0-1 0 0-3 0-3 0 11 0-7-1 6 0-5-1 5 0-6 0 7 0-4 0 5 0-7-1 5 0-6 0 4-1-3 0 7-1-7 0 0 0 1 0-3 0 3-1 1 0 0 0-4 0 10 0-7 0-7-1 2 0 1 0-3 0 0 0 12 0-7 0 9 0-13-1 14 0-2 0-3 0 1 0-7 0-3 0 8-1-1 0-6 0 12 0-3 0 2 0-6 0-6 0 8-1 0 0 4 0-12 0 7 0-3 0-2-1-3 0 9 0-9 0 11-1-12 0 7 0-2 0 10 0-3 0-2 0-8 0 10-1-9 0 0 0 1 0 3-1 7 0 0 0-3 0 3 0-1 0-5 0-3-1 4 0-6 0 0 0 5 0-7 0 2 0 0 0 2 0 7 0-8 0 11 0-12-1 4 0-1 0 2 0-2-1-2 0 4 0 5 0-6 0-4 0 1 0 2 0 10-1-9-1 5 0 4 0-2 0-6-1 2 0 1 0 1 0 1 0 3 0-9 0 9 0-8-1 2 0 1 0-3-1 1 0 0 0 1 0 2 0-3 0 4-1-4 0 0 0 3 0 3-1-7 0-1 0 2-1 7 0-1 0 1-1 0-1 0-1-6-1 3 0-4 0 4 0-5-1 5 0 1 0-4 0 4 0-5-1 4 0-2-1-3-1-1 0 5 0-3 0-2 0 6-1-6 0 9-1-2 0-3 0 2 0-4 0 0-1-2 0 6 0-5 0 3 0-2-1 1 0-1-1 5 0 2 0-5 0 2 0 2 0-1 0-4-1 3 0 1-1-2 0 0-92-9 0 0-1 0-1-2-1 2 0-2-1 1 0 3-1-5-1 5 0 3 0-2 0 7-1-6 0-1 0-3 0 4 0-3 0 5 0-2-1 5 0-9 0 11 0 2 0-1-1-13 0 9 0 0 0-3 0 2 0 5-1-4 0 0 0 3-1-6 0-4 0 10 0-4 0-6-1 7 0-7 0 8-1-7 0 9-1 1 0 1 0-3 0-1 0-3-2-1 0-6 0 12 0 0-1-3-2 2 0-12-2 6 0-3 0-4-1 9-1 6-1-11-1 11-2-12-1 7-3 1-2 0 0 4-1-3-3-1-1-5-1 9 0-11-1 5 0-4-1 5-6-5-4 8 0-4-1 6 0-14-4 1-2 4-10 4-10 4-1 11 3 7 0-3 4 2 1-3 2-7 4 0 1 7 1 0 0-8 2 8 0-2 0 1 7-6 2 1 1 6 0-9 0 7 0-5 0-2 0 9 0 2 1-10 1 11 2-5 1 0 1-1 0-6 1 3 0 1 0 6 0-4 3 1 0 1 1-8 1 0 0 10 0-9 1 6 1 2 0-2 1 5 0-10 1 3 0 8 0-5 0-8 0 8 1 0 0 4 2-3 1 2 0 1 0-1 2-9 0 9 0-10 0 5 1 1 0-3 0-6 2 1 0 7 0-7 0 9 1 5 1-7 1-6 0 4 1 4 0-8 0 1 0 4 0-8 1 5 0 9 1-9 0-2 0 1 0-3 0-1 0 9 1-1 0 8 2-15 2 3 0 6 0 0 0 5 1-11 0 11 0-14 0 10 0-3 1-4 0 8 0-7 0 7 0-5 0 7 1 0 0-10 0 7 0 2 1-12 0 1 0 6 0-4 0-1 1 10 0-3 1 5 0-7 0 5 0-6 0-6 0 7 1-2 1 3 0-6 0 11 0-13 1 8 0-5 0 10 0-7 0-2 0 1 0 9 0-10 0 10 0 1 1-13 0 7 0 6 0-9 0-4 0 0 0 11 1-6 0 0 0 1 0-3 0-3 0 0 0 10 0 0 0-3 1-2 0 2 0-1 0 3 0-4 1 5 0-3 56 5 3 0 1-1 0 1 0-3 1 0 0-1 0 3 0-5 0 1 1 4 0-5 0 5 1-5 0 1 0 2 0 3 0-5 1 2 1 3 0-1 0 0 0-7 1 1 0 7 0-6 1 3 0-2 0 2 1 1 0 0 1 2 0-5 1 2 0 1 0 1 0 1 0-1 1 0 1 1 1 0 0-2 0 0 0 1 1-3 0 0 0 4 1-3 0-1 0-2 0 2 0-2 1 5 0 1 0-1 0 0 0-2 0 4 0-6 1 4 0-4 0 1 1-2 0 0 0-2 1 6 0-2 0-1 0-1 1 5 1-6 0 2 0 4 0-6 0 5 0-3 1-3 0 9 0-9 0 2 0 3 1-3 0 7 0-4 1-2 0 4 0 0 0-4 0-1 0-1 1-4 0 11 0-10 0 3 0 0 0 6 1-7 0 0 0 1 0 1 1-1 0-4 0 7 0 1 1-4 0 2 0-6 0 2 0 2 1-6 0 5 1-4 0-1 0 4 0 0 1-4 0 7 1 4 0-2 0-6 0-3 0 7 0-3 1-4 0 2 0 3 0-5 1 4 1 6 0-8 0 4 0-7 0 5 0-4 0 4 0 3 1-5 0 6 0-7 0 0 0-1 0 7 1-5 0 0 0 4 1-3 0-5 0 13 0-11 1 8 0-2 0-5 0 4 0 2 1-4 0 2 1-2 0-5 1 12 0-7 0-1 1 1 0-4 0 7 0-5 1-1 0 1 0 4 0 4 0-9 0 1 0 2 0-3 1 12 0-12 0 11 1-10 0-2 0 0 0 1 1 2 0 5 0-8 0 0 1 0 0 11 0-5 0-3 0-3 0 9 1-10 0 4 0 1 1-3 1 4 0-6 0 11 0-2 0-7 0 10 1 4 0-9 0-5 0 1 1 4 0 2 0 3 0-5 0 1 0-8 0 4 1 0 0 1 1-2 0 4 0-1 1-3 0-2 0 6 0-5 1-1 1 3 1-3 0 12 1 1 0-7 0 8 0-8 1-6 1 0 0 2 0 1 1-3 0 11 0-4 0-5 1 6 0-1 0-6 0 10 1-3 1-6 0 10 0-8 0-3 1 11 0-6 0-3 1 4 1 3 0 1 1-10 1 7 0-6 1 0 0 0 0 4 0 3 0 2 1 2 1-12 1 5 1 2 0-9 0 8 1 7 0-14 0 1 2-1 0 6 0-4 0 3 0-2 1 6 0-6 1 0 2-1 0 1 2-3 0 8 1-3 1 1 7-1 0 0 1-4 0 0 1 4 3-6 8 15 2-14 4 12 0-3 2-7 2 4 3-3 2 1 0-2 2-3 15 4 3 1 3-4 4 1 12 14 61 1-77 3 0-2-6 5-16-6-38 2-27-1-3 0-5 2-1-2-2 0-3 3-4-4 0 5-7 2-2-6-1 2-2-2-1 6-1-4 0-3-1-1 0 14-2-7 0 3 0-4-1-5 0 1 0 3 0-3-2 1-1-2-1 0 0 1 0 1 0 0-1 0 0 2-1 1-1 0 0 3 0-2 0-5-1 2 0 0 0-2 0 5 0-5-1 3 0 0-1-4 0-1-2 2-1 0 0-2-1 1 0 2 0 2 0 0 0 6 0-6-1 5 0-10 0 2-1 1 0-2 0 0 0 2-2-1-1 10 0 0 0-10 0 5-1-3 0 3 0-1-1-1 0-3-1 4 0-3 0 4-1-6 0 0 0 3 0-2 0 1 0 5 0-3 0-5-1 1-1-1 0 9 0-5 0-2-1 1 0 1 0 2 0 2 0-7-1 7 0-7-1 0 0 2 0-2 0 9-1-5 0-3 0 5 0-4-1 3 0-1 0 3-1-4 0 2 0-5-1 2 0 1-1 0 0 10 0-1 0-6-1 0 0-3 0 1 0 0 0-2-1 0 0 5 0 2 0-2 0-4-1 2 0-1 0 1 0 1 0-3 0 3 0 0 0 6-1 0 0-6-1 2 0 3 0 1 0-3-1-1 0 3 0-7-1 0 0 2-1 2 0 0 0-2 0 6-1-4 0 5 0 0-1-6 0-1 0 2 0 2 0 4-1-6 0 0-1 1 0-1 0 3 0-1 0 5 0-5-1 1-1 3 0-5-1 5 0-7 0 4 0 4 0-6 0 1-1 1-1 4 0-6-1 2 0 0 0-2-1-1 0 6 0-2 0 3 0-7 0 0-1 4 0 3 0-6-1-1 0 3 0-3 0 1 0 4 0-4-1 3 0 1 0-4 0 0 0 1-1 3 0-2 0-2-1 5 0-1-1-3 0 3 0 0-1-1 0 2-1-5 0 1 0 1 0 0-1 0 0 3 0-1 0 1-1-3 0 3-1-6 0 5 0-1-1-4 0 6 0 0 0-8-1 1 0 1 0 0 0 3 0 4 0-4-1 3 0-7 0 1-1 1 0 1-1 3 0-3 0 0-1-1-1 1-1 4 0-1 0-3 0 2 0 2 0 0 0-5 0 3 0 1 0-3-1 1 0 2 0-4 0 0 0 4-1-2 0-1-1 4 0-3-1 2 0-3-1 5 0-1-1-2-1 2 0-1 0-7 0 6 0 2 0-3 0 4 0 0-1-7 0-2 0 3 0 2 0-1 0 0 0 0-1 3-1-5 0 5 0-4-1-7 0 0 0 1 0 1-1 10 0-9 0-1 0-1 0 3 0 0 0-4 0 0 0 8 0-4 0 6-1 0 0-8 0 4 0 0-1-1 0-7 0 15 0-8 0 1 0 5 0-4-1-9 0 11 0-7 0 6 0 4 0-13 0-1 0 12-1-4 0 5 0-12 0 14-1-5 0 3 0-1 0-4 0 2 0-11-1 8 0 7 0-13 0 5 0-2-1-5 0 14 0-11 0-2-1-1 0 15-1-8 0-7 0 8 0 4 0-12-1 9 0-7 0 4 0 2-1-8 0 9 0-8 0 10 0-8 0 9 0 0 0 0-1 4 0-11 0-4-1 2 0-3-1 5 0 1-1-5 0 1-1 11 0-2 0-8-1-2 0 15 0-13-1 0 0 10 0-8 0 7-2-8-2-1-2 7 0 1-1-7-1 6 0 0-1-2-1 5 0-7 0 2 0 3-1 0 0-5-2-2-1 7-3 4-1-13-1 4-1 5-1-7-1-3 0 12-1-10-1 3 0 10-1-11-1 10 0-10-1 10-1-10 0 6-2-4 0 8 0-11 0 4 0 0-1 8 0-3 0-6 0 3 0 6 0-14 0 10-3-11 0 5-3 2 0 3-1-2-1-9 0 11-1 1-5 1 0-11-7 11-8-2 7 11 7 0 0 1 3 1 1-5 3 6 7-3 1-4 0-1 1 3 0-1 7 8 3 1 3-7 2-3 1 6 4 7 1-11 2-1 2-3 1 1 3 0 2 10 1 2 1-7 1-3 0 4 1 9 0-9 0 2 1 1 1 3 0-4 0-3 2-6 1 0 0 5 0 1 2-2 0-1 0 0 1 4 0-7 0 7 0 1 2 0 1-7 0 2 1 6 0 1 0-7 1-1 0 12 0-4 1-10 0 4 1 1 0 3 0 4 1-11 0 15 0-15 0 6 0-7 0 3 1 0 0 1 1 7 0-4 0 2 0 0 0-1 0-8 0 2 0 12 1-10 0 2 0 8 0-12 1-1 0 1 0 7 1 0 0-4 1 6 0-5 1-1 0 0 0-1 0-1 1-2 0 8 0-7 1 3 0-1 0 5 0-5 0-1 1 2 0-5 1 10 0-6 0-2 0 2 0-1 0 10 2-7 0 1 0-6 0 6 0-7 0 12 1 2 0 1 1-6 0 3 1-10 0 1 0-3 0 12 1-9 0 7 0-6 0-1 0 3 0-6 1 0 0 2 0 6 0-6 0 5 1-1 0-5 1 2 0 5 0-5 0 0 1 6 0-1 0-4 0 8 1 0 0-1 0 1 2-6 0 1 0-1 0 0 0-1 1-4 0 6 1 1 0-6 0 7 1-5 1-3 0 3 1 6 1-5 0-4 1 8 0-2 1-7 0 7 1 2 0-4 2-4 2 6 1-4 0 2 0 0 2-3 0 1 1 4 2 2 0-4 0 7 2-3 2-3 0-1 9-1 0-2 4 5 3-6 4 8-57 12-2-4-5 7-6-8-8 4-17-1-4 3" fill="none" stroke="none" marker-start="url(#m)" marker-mid="url(#m)" marker-end="url(#m)"/></g></g><line x1="388.7" y1="769.99" x2="668.7" y2="561.71" stroke="#0e820e" stroke-width="1.3"/><rect x="374.7" y="551.3" width="308" height="229.1" fill="none" stroke="#000" stroke-width="0.75"/><path d="M384.92 780.4v3M374.7 772.8h-3M447.98 780.4v3M374.7 725.89h-3M511.04 780.4v3M374.7 678.98h-3M574.11 780.4v3M374.7 632.08h-3M637.17 780.4v3M374.7 585.17h-3" stroke="#000" stroke-width="0.75" fill="none"/><g font-family="DejaVu Sans" font-size="8.7" fill="#222"><text x="384.92" y="793" text-anchor="middle">50</text><text x="368.8" y="776" text-anchor="end">50</text><text x="447.98" y="793" text-anchor="middle">100</text><text x="368.8" y="729.09" text-anchor="end">100</text><text x="511.04" y="793" text-anchor="middle">150</text><text x="368.8" y="682.18" text-anchor="end">150</text><text x="574.11" y="793" text-anchor="middle">200</text><text x="368.8" y="635.28" text-anchor="end">200</text><text x="637.17" y="793" text-anchor="middle">250</text><text x="368.8" y="588.37" text-anchor="end">250</text><text x="528.7" y="804.7" text-anchor="middle">actual glucose (mg/dL)</text><text transform="translate(349.8 665.85) rotate(-90)" text-anchor="middle">predicted glucose (mg/dL)</text></g><text x="528.7" y="548.4" text-anchor="middle" font-family="DejaVu Sans" font-size="10.38" fill="#222">Glucose Estimation of future 75 mins</text>
<g transform="translate(31.5 821.7)"><path d="M148 151 146 150 145 148 142 150 137 151 136 150 136 147 133 145 132 143 129 144 129 148 127 149 123 146 124 143 120 144 117 142 117 140 114 141 113 143 110 143 109 144 106 143 106 144 109 146 108 148 105 148 101 142 99 142 99 144 98 145 96 145 95 143 94 143 95 145 95 147 94 148 89 147 87 150 85 150 83 152 80 151 80 153 78 155 75 155 75 159 73 160 71 163 69 162 70 159 69 159 68 160 69 164 67 166 62 167 62 171 60 172 59 174 59 177 57 179 57 184 55 186 55 187 59 187 60 188 58 191 58 194 61 194 62 192 65 192 66 190 68 191 68 194 71 194 71 192 72 191 75 191 77 188 79 188 80 190 81 190 85 187 91 186 91 183 93 181 98 182 99 181 102 181 103 179 106 179 107 178 109 178 110 180 111 180 112 179 115 179 115 176 116 175 118 176 120 175 122 176 129 174 129 172 131 170 133 170 133 167 134 166 142 166 141 164 142 159 143 158 147 159 147 156 143 156 141 153 142 152 145 153 146 152 148 152ZM138 156 140 155 141 156 141 158 139 159 138 158ZM129 149 131 148 132 150 130 151ZM99 148 101 147 102 149 100 150Z" fill="#1f77b4"/><g transform="scale(.5)"><path d="M295 137l51 22-151 11 1 4 14 0 19 2 2-3 4-10 299 28-189-2-13-5-33 8-15-6-8 5-3-3-21-1-6 2-15 1-26 1-2-10-58 6 22 18 19-5 30 1 8-7 3 12 1-11 4 7 23 3 0-1 7-6 14 1 22-1 18 8 1-1 32-1 14-3 13 3 15-3 129 1 10-7 53 0-120 15-25 9-19-9-13 1-13-1-7 11-35-7-5 9 0-2-6-4-18 5-5-1-1-4-4 5 0-8-6 5-6-1-2-3-2 6-3-13 0 3-2 0-23 6-1 7-3-9-6 1-14 3-8-9-14 10-2 3-1-5-7-4-2 5-3-3-7 0-10-6-3 10-4-4-2 4-1-11-4 5-2 6-1-12-4 5-13-3-2 6-3 5 0-2-14 1-13-6-60 10 66 8 14 1 9 3 10-7 1-1 11 5 0-5 4 9 1-4 2-9 4 1 2 5 7 7 0 0 12-6 0 4 2-3 2-6 7 7 0 6 1-1 6-13 2 15 1-5 1-10 0 11 1-4 1 5 3-3 1-7 2 11 2-2 2-11 1 12 1 2 1-7 0-3 5 0 0 9 0 1 1-13 1 3 0 9 9-11 2 11 3-8 4 5 1-7 1 6 3 3 3 2 4-9 3 4 5 1 5-7 4 10 6 2 3-3 1-4 5-3 13 4 5 4 0-11 6 3 1-4 1 14 6-1 11-15 3 10 4 4 1-1 0-10 2 10 7-9 2 11 11-13 6 8 15-5 25 11 1-4 9-8 4 12 4-9 11 7 26-10 4-2 38 11 4-7 9 9 6-1 6-6-2 21-2-10-21 10-26 0-11-4-16-4-1 3 0-8-8 2-2 7-4-7-2 8-37-6-1-1-24 7-14 2 0-1-2-9-2 12-9 2-7 0-6-6-2 4-7 1-2-2-1-5-2 7-1 1-2-2-2-1-3-7-2 4-6-5-1 11-2-13-10 10 0-3 0-5-1 7-1-4 0-6 0 12-1-11-2 7-1 5-2-8-3 5-1 2-2-4 0 3-2-3-2-2 0 6-1-7-2 6-2-5 0 2-1-6-1 11-1-10-1 8-1-3 0-6-1 3-1 1-1 4-5-4-1 0-1 5-2 1-1-6 0 6 0 0 0-2-1-10-2 1-1 2 0 3-1-8 0 7 0 4-1 2 0 0 0-1 0 2-1 0-1-1-1 3 0-1 0-14-2 13 0-9-1-3-2 14 0-7-3-4-2-1 0 10-2-12-2 14-2-9 0 7 0-8-1 5 0 3-2-4 0 5-2-14 0 13-1-3 0-5-1-6-2 6 0 0-1 0-1 3 0-1-4 5 0-4-1-8-2 0-2 7 0 7-2-9 0 8 0 1 0-1 0-4-1 4 0-3 0-7-1 6 0 0 0 5-1-9-1 8 0-4 0-4-1-2 0 7 0-8-1 12-3 0 0 0 0 0-3-14-2 3 0 5-1 5 0-9 0-5 0 6-2 4-1 0-2 0-1 4-1-7-2 7-3-3-2-6-2 9 0-10-1 10 0-7 0 6-1-7 0-1-6 7 0-1-1-2-1-6 0 5-1-2 0 3 0-1-1-3 0 7 0-3-2 4-1-2-1-3-2 4 0 2-1 0-2-14-2 15 0-2-4 2-1-2-9 3-2-4 0-7 0 6-3-7-3 10-2-6-4-5-23 10-13 4 2 0 13 8 9 4 17-10 2 7 0 0 1-10 0 7 0 4 1-7 1 3 4-4 0 11 0-3 1-5 1 8 1-12 0 13 0-2 2-4 0-5 1 0 1 9 0-11 2 5 0 7 0 0 1 1 0-2 3-3 1-9 0 13 0-1 1-4 0-6 1 6 1 6 0-5 1 5 1-1 1 0 1-11 1 8 0-10 0 7 1 3 1-4 0 7 0-8 0 0 1-4 0 13 1-4 0-1 0-7 1 11 0-6 0 4 2-5 3 2 0-9 0 13 0-2 0-5 2-3 1 4 0-2 1-1 0-2 0 8 1 2 1-4 1 6 0 1 2-9 0-2 1 1 0 8 1 2 0-5 0-9 0 5 1-2 0 6 0 4 1-1 0-1 0 1 1-3 0 0 0 2 1-4 0 1 1-7 0 3 0-2 0 12 1-13 0 5 0 9 0-4 1-9 0 12 1-4 2 0 0 4 0-8 0-2 0 8 1-2 0-6 1 0 1-1 0-2 1 3 0 9 0-7 0 2 0 1 1 5 0-4 1-4 0 7 0 0 0 2 1-1 0-4 0-10 0 10 1-3 0-5 1 3 1-3 0 11 0-12 1 2 0 4 0 0 0 1 0-5 0 5 1-5 0 0 1 11 0-2 2 2 1-8 0 9 0-5 0 4 1-6 0-6 0 8 1-9 0 7 0 3 1-2 0 3 1-7 0 0 0 10 1-11 0-3 1 11 0-9 0 1 0 10 1-10 0-3 0 1 1 6 0 0 0 3 0 0 1 2 0-13 0 10 0 4 0-1 1-11 0 7 0-9 1 14 0-5 0 4 0-11 0 9 1 4 0-8 0 1 1 4 0-4 1 1 2-7 1 5 0-7 0 5 1 6 1-12 1 5 0 5 1-10 0 8 0-1 0 8 0-13 0 0 0 12 0-2 1 1 0-1 0 3 1-4 1-6 0 2 1-2 0-3 0 13 0-10 2 5 0 4 0 1 2-9 0 7 0 1 1 0 0 2 0-13 1 7 0 4 0-10 1 7 0 4 0-2 2-1 0-2 0 3 0-2 0-5 1 4 0-9 0 10 1 1 0-5 0-6 0 3 1 2 0-6 1 2 0 12 2-9 0 2 1-3 0 5 1-1 1 2 0-2 1 6 1 1 0-3 0-3 0-2 2 9 0-2 1 0 1-11 1 0 1 3 0-1 0 4 0 4 2-1 0-4 1-5 0 6 1 4 3-8 0 8 1-6 0 3 0-6 0 1 1 1 1 0 0 8 0-4 1 1 0-2 1-8 0 1 0 12 1-5 1 6 0-7 0-2 0 2 1-5 0 7 1-2 0 4 1-9 0-2 1 13 0-4 0-6 0 6 0-7 0 7 1-2 1 1 0 3 1-4 2-6 0 12 0-7 1 3 0 4 4-6 1-4 0-3 1 9 0-7 1 5 0-3 1 0 0 8 1 2 0-15 0 11 0 4 1-15 1 13 0-11 1 14 0-13 0 5 0-3 0 5 0-3 1 1 1-3 0 5 1-4 1 4 0 0 0-2 0 6 1-13 0 15 1-8 1 0 0 0 0 4 0-4 3-7 1 9 3 1 0-11 1 14 3-6 2-4 1 6 0-2 3 0 0 2 1 0 1-9 0 14 0-15 1 5 3 8 3-9 1 3 2 9 1-4 3-7 1-4 2 11 2 4 2-2 0-1 2-9 0 1 1 9 1-1 1-8 0 4 4-3 3 0 3 0 0 8 2-3 2 2 8 2 0 0 1-2 1 2 3-11 0 3 1 4 5-9 2 12 7-9 8 8 5-2 3 3 3-6 12 1 17 3 0-8 5-4 0 15 0-6 30-4 20-2 0 11 21-6 10-6-32 16-16-1-31 13-14-13-30 7-5-3-1 7-7-3-3-8 0 15 0-11-5-5-5 14-4-11 0-2-3 14-1-3-3 3-3-10 0-4 0 5-3 9 0 0-6-4-5-8 0 1-1 7-2-11-4 12-1-10-1 4-1 5 0-3-2-4 0 6-1-3-1 6 0-4-1 1-2-9 0 7-2-4 0-3-2 10 0 0-1 2-1 0 0-4 0 6 0-9-1 9-1-11 0-3 0 14-1 1-2-15-1 9 0 5 0-8 0 3 0-5-2 8 0-12-1-1 0 4 0 2-3 10 0-14-1 9-1-4 0 9-1-15-1 7-1-7 0 3 0 7-1-10 0 13-1-5-1 7 0-6 0 0 0-9-1 6 0-4-1-2-1 7-1-4 0 12 0-6 0-3-1-5 0 5 0 0 0 8-1-2 0-10 0 11-2-3 0-10 0 7 0-1 0 7-1-7 0 9 0-12-1 10 0-5 0-3 0 8 0-8 0 10 0 0-1-3-1-5 0-5 0 2 0-2 0 5 0-5 0 12 0-12-1 12-1-6 0 0 0 1 0-7-1 8 0-10-1 6 0 4 0-6-1-1 0 5 0 3 0 3-1-12 0 6 0 0 0 7 0-12 0 3 0 6-1-9 0 12 0-15-1 4 0 5 0 6 0-15-1 2-1 10 0 2 0-11 0 5-1 6 0-5 0 3 0 0-1-2 0-4 0 2 0 4-1-12 0 13-1-9 0 8 0-1-1-7 0 5 0 2-1-7 0-1 0 11 0-7 0 2-1 0 0 0 0 0-1 0 0 4 0-10 0 7-1 5 0-6 0 2 0 2 0-7 0 3 0-9 0 4 0 6 0 0-1-11 0 0-1 11 0-3 0 3-1 2 0 1-1-7 0 8 0-5 0-1 0 4-1 2 0-2 0-2 0-6 0 9-1 0 0-4 0-7-1 2-1 9 0-11-1 4 0-6 0 7 0 6 0-7 0 2 0 6-1-12 0 10 0-2 0-1 0 5 0-5-1-7 0-3 0 5-1 9 0 2 0-2 0-7 0 8 0-8 0 1-1-2 0 1 0 2 0-5 0 4-1 5 0-10 0 8 0 5-1-15 0 8 0 2 0 3-1-5 0 6 0-9 0 1-1-6 0 12 0-2 0 4 0-8 0 5-1 0 0-7 0-2 0 4-1 1 0 5 0-12 0 7-1 2 0-5 0 4 0-3-1 6-1 2 0-9 0 5-1-5 0 2 0 9 0-12 0 11 0-8 0-2-1 4 0 1 0-6 0 4 0 0-1 1 0 5 0-2 0-4-1 7 0-9 0 1 0 4-1-7 0-2 0 6 0-5 0 13 0-10 0 4 0 2 0-8 0 7 0 4-1-12 0 12 0-3 0 2 0-12-1 6 0-3 0 3 0-5-1 0 0 13 0-13 0 8-1-10 0 14 0-10 0 7 0-11 0 10 0 3-1-4 0 4-1-3 0 5 0-15 0 14 0 0-1-12 0 13 0-14 0 7 0-2-1 2 0 5-1 1 0-15 0 7 0 9 0-7 0 6 0 0-1-5 0 3 0 1 0-11 0 9-1-4 0 5-1-9 0 5-1 4 0-1 0-5 0 4 0-1 0 2 0 2-1-8-1 9 0-15-1 8 0-2 0-4 0 8 0 4 0-8 0-5 0 2-1 11 0-1 0 2 0-6-1 4 0 0 0-11 0 14 0-13 0 13-1-4 0-4 0 2 0-1 0-2 0 6 0-4 0-4 0 1 0 10-1-2 0-3 0 2 0-8 0 10-1-12 0 6 0-8 0 3-1 10 0-10 0 9 0-8 0-3 0 13-1-6 0 0 0-3 0-3 0 3 0-5 0 0 0 9 0-5-1 4 0-1 0 7 0-14 0 3 0 4-1 3 0 4-1 0 0-8 0-2-1 8 0 1 0 1 0-7 0-5 0 11 0-1 0-1-1 2 0-1 0-8 0 4 0-2 0 5-1-5 0 1 0 1-1-6 0 0 0 2 0 6 0-3 0-2-1 0 0 0 0 6 0-1 0-1 0 2-1-10-1 6 0-7 0 6 0 5 0-4 0-5 0-1-1 0 0 7-1-8 0 8 0-2-1 5 0-6 0 4 0-3 0 3-1-5 0 2 0 0-1 0 0 5-1-2 0-6 0 3 0-5 0 4-1 9 0-1 0-2 0 2-1-2 0 1 0-4 0 5 0-3-2-10 0 12 0 0 0-6 0 6 0-3 0 2-1 2 0 0-1 0 0-10 0-2 0 8-1-8 0 6 0-2 0 4 0-9-1 9 0-5 0 1 0 7-1 0 0-1 0-4 0 1 0 3 0-4-1 1 0-5 0 5 0 1-1 5 0 0-1-1 0-8 0 1 0 6 0-8 0 10 0-4 0 5 0-1 0 0-1-4 0 2 0-12 0 7 0 2 0-3 0-3 0-2 0 9-1-9 0 13 0-4-1-6 0 5-1 4 0-11-1 1 0 11 0-2 0-3-1-4 0 7 0-7 0 3 0 6 0-4 0 4 0-3 0-8-1 3 0-7 0 4 0 1 0 0-1 10 0-6 0 7 0-2-1-10-1-2 0 5 0 6 0-2 0-2 0-7 0 12-1-4 0 1 0-1 0-1-1-7 0 11 0-6 0-1 0-2-1 7 0-7 0-3 0 10-1-10 0 2 0 11 0 0 0-1 0-1 0-7 0 2-1 7 0-9 0 2-1 1 0-3-1 10 0-7 0 3-1-2 0 2 0-7 0 8 0-11-1 14 0-4 0-7 0 1 0 4 0-4 0 5 0 4 0 1-1-6 0-1-1 0 0-6 0 7 0-3 0-5 0 2 0 12 0-1-1-3 0-8 0 9 0-2 0 4 0-7-1 9 0-2 0-6-1-5 0-1 0 8 0-6-1 10 0 1 0-3 0 0 0 1 0-10 0 13 0-6-1-6 0 11 0 0-1-7-1 7 0-2 0-6 0 5-1 2 0 1-1-3 0 0 0-2 0 2-1-1 0-5-1-2 0 7 0 0 0-9-2 0 0 14 0-2-1 0 0-10 0 6 0-1 0-4-1 1 0 8-1 1 0-12-1 10 0-3 0-1 0 6 0-6-1-3 0 8 0-2-1-1 0 3 0-6 0-6 0 0 0 0-1 0 0 8 0 4 0-1-1-1 0-3 0 3-1-1 0-10 0 13 0-10-1 3 0-1 0 6 0 0-1-1 0 4 0-1-1-3 0-9 0 3-1 6-1 1 0-3-2-8 0 14 0-5 0 2 0-3 0 4-1 2 0-6 0 1 0-5 0 9-1-6 0-4 0 5-1-7-1 11 0 2-1-7 0 5 0 2-1-13 0 9-1-2 0 5-1-7 0-5-1 2 0 10 0-7 0 6-2-7 0 0-2 9 0-14 0 11-2 0 0-6 0 7-3-9 0 5 0 4-1 1 0-12-1 13 0-4 0 3-1-5 0-5-1-1 0 6-1 7 0-1-1-7-1 3-1 1 0-2-1 2-1-4-2 3-1 5-1-3-3-9-2 8-3-11-3 0-51 24 1 0 29 0 18 4 4 0 2-6 0-7 2 7 1 8 0-2 2-2 1-1 0-9 0 15 5-13 0 1 0 1 1 3 0-8 0 4 2 11 1-1 0-14 0 8 1 5 1 2 0-1 1 0 0-1 0-3 0-4 1 2 0 0 1 6 1-7 0 4 1-11 2 6 0 6 0-2 0-3 2 9 0-3 0 0 0-4 0 7 1-9 0 6 0-12 0 7 0-2 1 8 0-5 0 0 1-6 0 8 0-3 0 6 0-9 1 6 0-5 0 7 0 1 1-13 0-1 1 14 0-4 1 1 0 5 0-14 1 8 0-5 0 0 0 0 0 4 0-7 0 3 1 3 0 8 0-10 1 5 0-2 0-3 0 4 0-3 0 8 0-9 0 10 0-6 0-2 1-5 0 8 0 0 0 4 0-13 1 4 0 7 0 1 0 0 0-9 1 10 0-11 1 0 0 9 0-4 0-2 0 2 0 4 0-1 0-3 0 5 1-11 0 3 0 2 0-1 0-7 0 8 0-8 0 15 1-14 0 10 0 4 0-8 1-7 0 3 1-2 0 12 0 1 0-7 1 6 0-1 0-9 0 10 0-6 0 7 0-9 1 6 0 1 0-4 0 5 0-7 0 7 1-3 0-4 0 1 0-3 0 7 0 0 1 0 0-3 0 4 0-1 0-4 1-1 0-5 0-1 1 2 0 4 0 1 1-5 0 1 0 4 0 1 0-2 1 3 0-8 1 9 0-6 1-1 0 8 0-4 0 0 0-6 0 7 0-5 1 3 0-4 0 5 0-6 1 5 1 0 0-3 1 2 0 2 0-6 0 4 1-5 0 3 0-3 1 7 0-2 0-4 0 7 1-7 0 4 1 2 0-3 0 2 1-5 0 6 0-4 0 5 1-4 1 1 0-5 0 3 1 1 1 1 0 1 0-6 0 6 0-4 1 4 0-4 2 0 1 0 0 0 1-2 0 10 1-2 0 0 1-2 0 4 0 0 0-2 0 2 1-5 0 0 0 3 0-1 1-6 0 6 0-3 0 0 1 0 0 6 1 3 0-8 0 2 1 3 1-5 0 1 0 4 0-2 0-2 0 2 1-5 0 2 0 6 1-6 0 5 0-5 0 1 0-6 1 4 0-1 0-1 0 0 0-1 1 5 0 0 1 1 0-5 0 4 1 1 0-7 0 7 1-5 0 4 0-4 0 3 0-3 0 7 0-9 1 9 0-4 1 2 1 2 0 0 0-4 1-4 0 2 0 6 1-6 0 1 0-4 1 2 0 3 0-5 0 1 0 0 0 0 1 0 0 2 0 2 0-3 0 2 0 2 1-2 1-2 25 3 0-5 0 5 0-2 1-2 0 3 1-1 0-3 1 3 1-1 0-1 0 4 1-2 0-1 1 6 0-6 0 3 0 3 0-1 0-1 0 1 1-5 0 6 0-1 0-2 1 3 1-7 0 2 0 4 0 4 1-2 0-4 0-4 0 2 0 5 0-5 0 7 1 3 0-3 1 0 0-8 0 9 1-2 0 2 0-3 0 2 0 1 0-5 0 7 0-12 0 5 1-4 0 9 0-7 0 5 0-5 0 4 0 0 0-8 1 0 0 6 0-3 0 0 0 0 0 7 0-4 1 4 0 2 0-4 0-1 0-2 0 8 1-8 0 9 0-4 1 2 0-12 0 1 0 9 1 2 0-1 1-10 0 7 0 0 1 0 0 1 0-8 1-1 1 3 0-1 0 2 0 0 1-3 0 1 0 1 1 2 0-1 0 3 0-1 0 6 0-9 0 0 0 8 1-2 0-1 0-2 0 0 1 0 0 6 0-7 0 3 0 4 0-11 0 7 1 5 0-11 0 4 0 6 0-5 1 5 0-6 0-2 0-3 0 10 0-6 1 6 0 3 0 0 0-5 0-7 1 12 0-11 0 8 0 3 0-9 0 6 0-6 0-2 0 6 1-8 1 3 0-2 0 2 1 4 0-7 0 9 0-3 0-2 0 0 0 2 0-2 0 8 1-4 0 1 0-1 1 1 0-9 0 0 0 12 0-7 1 1 0 3 0 5 0 0 1-4 0 5 1-13 1 5 0 7 0-1 0-9 0 5 0-2 0-7 0 5 1-5 0 0 0 14 1-7 0-6 0 4 0 1 0-5 0 2 0 11 1-14 0 0 0 4 0 0 0 1 0-1 0 4 0 0 0 2 1 4 0-7 0 1 1-8 0 9 0-8 0 4 0-3 1 1 0 12 0-11 0 4 0-1 0-6 1 10 0-5 0 2 0 3 1-1 0 3 0 1 0-9 0 7 0-3 0 6 0-7 0-7 0 1 1 4 0 2 0 5 0 0 0-2 0 3 1-13 0 5 0-4 1 11 0 1 0-11 0-1 1 10 0 0 0 0 0-7 0 9 0-11 0 11 1-4 0 3 0-11 0 6 0 0 0-4 1-5 0 14 0-7 0 3 0-1 0 5 0-6 0-5 0 6 1-3 0 1 0-3 0 11 0-3 1-10 0 5 1-1 0-4 0 10 1-7 0 3 0 1 0-5 0 5 1-7 0 10 1-3 0-6 0 11 1 1 0-14 0 0 1 2 0 7 0-7 0 7 0-6 0 1 1 0 0-2 0 7 0-3 1 0 0-5 0 6 1 0 1-5 0 0 1 9 0-5 0 5 0 2 0-11 0 6 1 1 0 3 0-10 0 12 1-3 0-12 0 14 1-4 0 5 0-1 0 1 1-13 0 14 0-10 0 7 0-3 0 3 0 2 1 1 0-15 1 15 0-13 0 6 1-2 0-6 1 12 0-6 1-7 0 7 0-3 0-4 1 5 0 2 0 0 0-4 1 6 0-5 0 2 1-3 1 11 0-10 0 4 1-2 0 2 1 2 0-3 0-6 0-1 0 12 1 2 0-14 0 10 0-8 1 10 1-4 1 8 1-3 0-11 1 9 1 4 0-10 0 2 1 7 1-2 1-12 0 14 1-8 1 1 0-5 1 12 2-3 1-5 0 4 0-6 1 3 1-2 0-2 1 8 0-1 0-5 0-4 0 4 1-3 0 12 0-2 1-7 0-2 2 8 0-8 1 9 1-8 2-1 0 12 0-1 0-2 0 2 1-10 0 2 0 1 0-1 1 8 3-2 3-6 1 1 0 8 1-13 1 14 0-14 1 1 2 12 2-2 0-10 3 4 2-7 4 11 1 3 4-2 0-3 2-5 2 3 1 2 4 0 12 3 9 2 11-7 1 0 9-3 0-3 9 0 53 4 19-2-35 19-32 6-21-8-25 9-2-3-4-4-2-5-5 8 0 3-3-12-6 2-6 6-2 2 0-9-2-1 0 11-1 4-1-8-2 4 0 4-2-11-2-2-1 11-2-12-1 12 0-3-2 0-1 0-1 3 0-2-1-4 0-2-2 2-3 4 0-5 0 9-1-13-2 6-1-8 0 11-1 5-1-7-1-8 0 4-1 2 0 8 0-11-1-1-1 3-1-2-1-3 0 6 0 7-1 0-1-13-1 10 0-5-2 2 0-4-1 5 0-4-1-4 0-1-1 7 0-3-1 10 0-10-1 1-1 5 0-4-1 10-1-8 0 3 0-11-1 12-1 2 0-3-1-4 0 0 0-3-1 1 0 0-1 8 0-7 0 2 0 0 0 5-1-7 0-2 0 0 0 8-1-2-1-3 0-5-1 3-1 6 0 0 0 0-1 3 0-10 0 8 0-3 0-7 0 3-2 3 0-8 0 8 0 2 0-5 0-5-1 9 0 3 0-5 0 7 0 1 0-9-1 0 0 6 0-8 0 2-1 3 0 1 0-3-1 2 0-2 0 5 0-2 0 6 0-7-1-5 0 11 0-6 0 3 0-3 0-1 0-4-1 0 0 10 0-4-1 4 0-2 0-5 0-5 0 10-1-2 0-7 0 5 0-7-1 13 0-12-1 9 0-9 0 2 0-4 0 1-1 7 0-4 0 11 0-5 0-8 0 7-1-3 0-3 0 10-1-13 0 12 0-12 0 6 0 8 0-7-1-6 0 13 0-8 0 10-1-1 0-5 0 4 0-4 0 5 0-5-1-5 0 3 0-7 0 12 0-8 0 1 0 7 0 3 0-8-1 0 0 6 0-2 0-7 0 7 0-3 0 4 0-6 0 6 0 0 0 0-1-12 0 12 0-10 0 10 0-4-1-6 0 10 0-6 0 6 0-8 0 7 0-4-1-6 0-1 0 13 0-1 0-9 0-4-1 3 0 10 0-2 0-7 0-3 0 10 0 1 0-12 0 15-1-14 0-1 0 4 0 3-1 1 0-4 0 9 0-8 0 3 0-5 0 9-1-4 0 2 0-1 0 5 0 1 0-5-1-6 0 9 0-1-1-9 0 1 0 11 0-10 0-4-1 4 0 11 0-5 0-8 0 6 0-2 0 2-1 0 0 0 0 5 0-1 0 1 0-10 0 0 0 7 0-8 0 6 0 6-1-13 0 13 0-12 0 5 0-3 0-1 0-1-1 3 0 1 0-2 0-3 0 11 0-12 0 0-1 5 0-1 0 1 0-1 0 3 0 5-1 2 0-8 0 0 0 6 0 0 0-10-1 12 0-5 0-1-1-4 0 8 0-3 0 0-1 2 0-4 0 5 0-6 0 6 0-1-1-4 0-1 0 0 0 4-1-6 0 6 0-1-108-10-1 1-4 0 0 0-1 1 0 1-1 0 0-1 0-1-1 3-1 1-1 0-1-3 0 4 0-6-1 3 0 2 0-3 0 1 0 2-1 2 0-1 0-6 0 7-1-6 0 3 0 2 0-3 0 5 0-5 0 9-1-3 0-6 0 7 0 1 0 4 0-1 0-6 0-1 0-5 0 11-1-6 0-4 0 2-1 2 0 3 0-4 0 7 0-3 0-6-1 2 0 8 0-6 0 5-1-1 0 4 0-12-1 12 0-11 0-3 0-2 0 7-1 1 0-1 0-1 0 5 0-6 0-1-1 5 0 0 0 1 0 3 0-2-1-1 0 4 0-8 0 9 0-14-1 7 0 6 0-9 0 9-1 0 0-8 0-2 0-3-1 6 0 7 0 0 0-9 0 2 0 4 0-6 0 10 0-8-1 1 0 5 0 1 0 1 0-6 0-6 0 9-1 3 0 1 0-12 0 3 0-5 0 1-1-1 0 13 0-11 0 12 0-6-1-4 0 9 0-15 0 13 0-2-1-2 0-6 0 11 0-6-1-5 0-2-1 7 0 5 0 1 0-6-1 6 0-14-1 13 0-8 0 0-1 5 0 2 0-1-1 4 0-5 0 5-1-11-1 12 0-1-2-1-1-6-2 7-2-6 0-1-2 0 0-4 0 5-1 3-1-8-12 2-3 4 0-5-4 9-19-4-6 1 0 4-1-2-1 3-7 7 6 4 1-5 0-4 1 2 0 12 0-12 1 9 0-6 7-5 15 11 3-3 6-8 4 4 0 5 2-8 2 12 1 0 0-1 0-3 2-8 1 12 0-8 1 8 1-6 0-4 1 8 1-5 0 8 1-1 0-5 0 3 1-6 0 4 1-4 0-2 1 8 0-1 1 0 0 3 0-3 1-8 0-3 0 13 0-1 1 1 0-1 0-13 0 1 0 5 0 5 2-6 0 7 0-7 1 3 0-3 0 1 0-4 0 6 0 5 1-5 0 1 0 1 0-4 1 4 0-6 0 4 1 5 0-10 0-2 0 11 0-12 0 12 0-10 0 10 0-3 1 1 0 2 0-4 0 3 0-4 1-4 0 0 0-1 0 2 1-1 0-1 1 2 0 7 0-11 0 10 0 0 0 0 0 0 1-5 0 0 1 1 0 3 0-2 0-5 1 2 0 2 0 3 0-5 0-2 0 6 1-3 0 0 0-5 0 5 0-1 1-1 0 2 1 0 1-4 1 1 1 1 1-3 0 2 0-1 0 0 1 0 117 11 1 3 0-2 0 2 0-4 1 2 0 2 0 0 0-2 1-1 1 1 0-2 0 4 0-2 1 0 0-4 1 1 0 1 1 3 0-4 1 0 0 1 0 0 1 2 0 1 0-1 0 0 0-3 1 2 0-1 0 3 1 1 0-3 0-3 0 2 2 0 0-1 0 6 1-5 0 1 0 0 0 3 1-3 0-3 0 1 0 2 1 3 0-5 1 0 0 2 0-2 0-1 0-3 1 2 0 1 0-3 0 8 0-6 0-6 0 12 0-8 0-3 0 1 0 5 0 0 1 4 0-9 0 3 0-5 1 9 0-9 0 3 0 3 0 6 1-8 0 8 0-1 0-12 0 11 0-4 0 6 0-3 0 0 1-6 0 2 0 6 0 0 0-1 0 0 0-10 0 4 1 8 0-11 0 3 0-4 0-1 0 12 0-1 1 2 0-12 0 5 0 1 1 3 0-4 2-5 0 1 0 10 0-10 1 11 0-11 0 4 0-6 0 15 0-15 1 7 0 0 0 4 0-1 0-5 1 0 0-5 0 9 1 4 0-12 0 8 0-10 0 14 1-9 0 10 0-6 0-2 0 9 1-2 0-7 0 0 1 0 0-5 1-1 0 2 0 10 0-12 1 1 0-2 0 2 0 11 0-13 0 3 0 6 1 4 0-12 0 14 0-5 1-9 0 7 0 5 0-8 0 6 0 5 0-11 0 11 0-2 1 2 0-11 1 8 0-4 0-4 1 1 0 2 0 4 1 0 0-5 0-2 2 5 0-4 1 7 1 0 0-5 0 2 0 3 1-10 0 5 0 0 0-4 0 0 1 6 0-6 1-1 0 5 0-7 0 2 0 10 0-11 1 7 0 6 0-3 2-3 0-4 0 7 1 2 0-5 0-4 0-3 1 3 0-4 1 5 0 5 0-4 1-1 1-2 0 10 0-7 0-6 1 10 1 3 0-5 2-4 0 8 1-7 0 8 1-12 0 11 1-1 0-3 0-6 1 4 0-2 0-3 1 1 1 12 0 1 0-14 1-1 0 10 1 3 1-6 0-8 0 13 1-2 0-9 1 1 1 5 1 0 0-7 1 12 0-5 3-5 1-1 2 12 0-4 0 3 1-12 3 0 3 9 0 2 1 2 0-11 2 3 4-4 3 4 2 2 3 6 7-11 17 7 2-5 26-1 22-3 7 11 36-3-88 21-20-9-5-2-14 1-9 10 0-9-2-3-4 4-3-6 0 6 0 1-1-1-1-4-1 5 0-3-1-2-4-1-2 12 0-8-2 8-1-13 0 2-1 0-1 1-1-1-1 7-4-3 0 4 0 0-1-7 0 12-2-15 0 11-1-6-1 6 0-6-1 2 0 8-1-12-1 8-1-6 0 5 0 2-1-9 0 1 0 8 0-2-1-5-1 2 0-6 0 4-1-1-1 11-2-6-1 5 0-13 0 2 0 6 0-4-1-4-1 10 0-5 0 3 0-1-1-7-1 3-1-1 0 9-1-2 0-1-1 2 0 5 0-8 0-4 0 10-1-7-1 0-1 9-1-13 0 9 0-2-1 0-1 5 0-6 0-4-1 7 0 1 0-9 0 7 0 2 0-8-1 2-1 7 0-9 0-1 0-4 0 5-1 5 0-9-1 1 0 0-1 10 0-10 0 6 0-8 0 10-2-1 0-6-1 11 0-8-1 9 0-5 0-5 0 3-1-4 0 3-1 5 0-11 0 0 0 1-1 14 0-14-1 4 0 8 0-4 0-10 0 2-1 3 0 3 0 6-1-6 0 3 0-8 0 0 0 10 0-1-1-2 0-5 0-4 0 8 0-3-1 0 0 5 0-3 0 2-1-7 0 9 0 2 0-9 0 0 0 3-1 7 0-12-1-2 0 6 0-5 0 12 0-12 0 6-1 4 0 3 0-2 0-8 0 2 0-7 0 2 0 7 0-5-1 1 0-3 0 10 0 0 0-11 0 0-1 0 0 6 0 6 0-11-1 2 0 11-1-8 0-2 0 8 0-1 0-2 0-7-1 2 0-1 0 9 0-4 0-1-1-1 0 8 0-4 0-7 0 3 0-2-1 0 0 2 0-4 0 8 0-2 0 6 0-11-1 8 0 3 0-8 0 7 0-4 0 0 0 6 0-9-1 8 0-6 0 5-1-4 0-4 0 2 0 4 0 1-1 0-1 2 0 1 0-3 0-2-1 1 0 2-1 0 0-1 0 1 0-2-1 1 0 0 0 0 0-1-1 2 0 1 0 0 0-4-1 1 0 2-1-2 0-1 0 5-1-2 0 0 0-1-1 2 0 1 0-2-1-1 0 3-1-2 0 0 0-1-2 3 0-1-1-4 0 4-1-3-1 4 0 0-1-1 0 0 0 0-1-1 0 1-1-2 0 1-1 1-1 0-1-2 0 2 0 1 0-4 0 0-1 1-1 1-1 0 0 1 0-1-1 1-1 0-102-12 0 3 0-2 0 1-1-3 0 5-1 0 0-5 0 0 0 4-1-6 0 7 0-7-1 1 0 4 0 6 0-5 0 3-1 1 0-10-1 1 0 8 0-1 0 5 0 1 0 0 0 0 0-1 0-13-1 2 0 7 0 0 0-1 0 5 0-10 0-2 0 13-1-1 0-7 0-5 0 5 0 2 0 7-1 0 0-4 0 0 0-7-1 8 0-9 0 1 0 11-1 0 0 1 0-15 0 12-1-4-1-4 0 2 0-6-1 13 0-2 0-10-1 12 0-3 0 1 0-8-1-1-2 9 0-6 0 6-2-7-1-3-1 6 0 4-2 2 0-3 0 1-1 1-1 1 0-3-1-9-1 3-4 9-1-10 0 9 0-4-3-2-1-2-8 5-4-2-1 0-2 4-1 3-2-10 0 10 0 0 0-4 0 0-1-3 0-1-4-1-14 2-1 10 2 2 8-3 1 3 2 5 2 6 0-4 3-5 1-3 1 10 0-4 0-1 0 4 0-6 0 5 1 3 0-3 1-4 3 8 0-14 0 8 0 6 2-3 0-12 0 15 0-6 1 5 2 0 0-12 0 5 2-3 1 4 1-7 0 6 0 4 1-3 0 4 1 2 1 0 0-3 1-8 0 11 0-1 0-3 1-1 0-8 1 6 2 3 1-1 1 0 0-7 0 8 0 1 0-8 2 8 0-6 0 10 0-1 0 0 1-3 0-5 0 4 2-1 0-9 0 11 0 5 1-4 0-7 2 4 1-5 0-2 0 10 0-12 1 7 0 5 0-5 0 4 0-5 2-3 0 12 0-7 0-2 1 9 1-12 1-1 0 12 0-4 0 0 0-8 1 8 0-1 0-3 0-5 0 4 1 7 0 0 0-10 0 5 1 7 1 1 0-10 0 4 0 1 0-6 0 3 0 0 0 0 0 1 0 1 0 2 1 1 0-2 0-5 0 6 0-3 0-1 0-3 0 10 0-13 0 12 0-11 0 9 0-4 1 5 0-7 0 9 0 0 0-2 0-7 1-1 1-1 0 0 1 0 0-3 0 1 0 2 61 9 1 2 1 1 0-4 0 3 0-3 1 3 0-1 0-2 0 5 0-5 0-1 0 3 2 2 0-5 0 4 0-4 0 1 1 4 1-7 0 2 1-1 0-2 0 5 0-2 0 4 0-5 0 1 0-2 1 0 0 5 0-4 1 3 0-2 0-2 0 2 1-2 0 1 0-2 0 3 2 6 0-6 0 1 1 3 0-3 0 5 0-4 1-2 0 3 1 2 0 1 0-2 0-3 1 2 0-3 0 3 0-3 0 0 1 0 0 1 0 0 0-4 0 0 1 3 1-3 1 0 0 3 0 0 0-2 0 1 0 4 1-3 0 3 0 0 0-1 0-1 0-3 0-2 0 8 1 1 0-3 0-6 1 7 0-2 0-4 0 5 0-1 1-3 0-2 0 4 0-1 0-4 0 0 1 5 0 2 0-7 0 0 0-2 1 1 0 4 0 5 1-6 0 4 0-6 0 2 0-3 0 7 1-6 0 1 1 1 0 1 0 0 1-3 0 8 0-4 0-4 0 5 0 3 0-8 0 0 1 0 0 6 0-2 0-2 0-4 1 3 0-1 0 4 0-3 0-2 0 3 0 6 0 3 0-10 1 4 0-6 0 3 0-5 1 0 0 4 0-1 0 8 0-11 0-1 1 0 0 0 0 2 0 5 1-4 0-3 1 5 0-4 0 6 0 4 0-7 0 7 0-2 1 3 0-7 0-1 0 2 1 6 0-5 1 5 0-2 0-2 0-3 0 2 0 7 1-7 0-3 0 3 0 2 1 1 0-5 1 0 0 5 0-5 0 0 0 5 1 2 0-7 0 8 1-4 0-4 0 4 1-4 0 4 0-4 0-1 0-2 1 9 0-9 0 10 0-7 0 2 0-4 0-3 0 2 0 3 1 2 0-5 0 11 1 0 0-5 0-2 0-2 0-4 0 0 0 0 1 5 0 4 0 3 0-7 1 3 0-3 1-3 0 0 0-2 0 4 0-1 1 2 0 4 0-4 0 0 0 6 0-7 0 4 0-9 1 8 0 3 0-4 0 2 0-3 1 5 0-1 1 3 0-3 0-8 0 5 1-6 1 0 0 1 0 4 1-6 0 8 1-3 0-1 1 1 0 3 0-7 0 3 1 0 1 12 1-14 0 1 0 12 1-3 0-10 0 0 1 1 0 0 0 0 0 11 2-13 0 3 0-4 0 5 0 5 3-4 0-5 0 2 1 8 1-7 0-3 0 1 2 11 0-6 1-2 0-3 1 5 0 1 1-1 1 6 0-11 1 1 1-1 0 3 1 2 1-2 0 0 0 5 1-9 0 12 2-12 0 11 1-9 2-3 1 2 1 11 1-11 0 0 0 5 1 2 0-6 0 1 1-1 1 3 0 5 0 2 1-3 3-6 0 5 0-1 0-3 2-5 0 8 3-8 0 1 3-1 1 0 3 7 4 6 1-5 0-5 0 10 8-6 2 0 1 2 3 6 4-8 1 0 12-3 0-1 3 7 3-4 14-6 5 3 15 13 4-13-23 15-4-2-15 4-1 6-18 3-23-3-19-5 0-4-3-1-7 8-8-7-5 4-9-2-8-2-3-1 0 7-5-5-1-1 0 2-1-3-1 3 0 4-1-6-2 2-1 1-1 6-1-5-1 0-2 7 0-9-1 0 0-1 0-1-1 11 0-11-1 0 0 0 0 4 0 3-1 5 0-1-1-9 0-2 0 4 0-5-1 8-2-6-1 0-1 4 0-5-1 2-1-3 0 0-1 3 0 4-1-3-1 9 0-6-1 3 0-3 0-1 0 0-1-4 0-1 0 0 0-1 0 9-1-6 0-2 0 9 0-9-1 6 0-7 0 2 0 3 0-1 0 0-1 1 0 6-1 2 0-9 0-3-1 12 0-12 0 10-1-3 0-4 0 6-1 0 0-7 0 2 0 1-1-2 0-1 0 0 0 0-1 6 0-3 0-5 0 6 0-5 0 8-1-6 0-1 0 9-1-10 0 1 0 2 0 9 0-12-1 0 0 2 0 1-1 1 0-4 0 1 0 12-1-7 0-6 0 7 0-3 0 6-1-2 0-6 0 8-1-5 0-3 0 4-1-4 0 2 0-2 0 3 0 5 0-3 0-4-1 1 0 0 0-1-1 9 0-5 0 3 0-7 0-2 0 3 0 4-1-4 0 1 0-4 0 10-1-9 0-1 0 3 0 10 0-10 0-2 0 0-1 2 0 1 0-2 0-1 0 1-1 2 0 6 0-8 0 2 0 1-1 4 0-3 0-2 0 2-1-2 0 3 0-3 0 2-1 2 0 2 0 1 0-2-1-3 0 7 0-8 0 5 0-5 0 2 0 0-1-1 0-1-1 5 0 0 0 3-1-7-1 1 0 2 0-5 0 3 0 1 0 1 0-3 0-2-1 5 0-2 0 1-1 3 0 1-1-5 0-3 0 3-1 5 0-3 0 2 0-7-1 0 0 1 0 0 0-1 0 0-1 0 0 0 0 1 0-1-1-2-1 9 0-5 0 0 0-1 0 4 0-2 0 1 0-3 0 6 0-3-1-2 0 5 0-3 0 3 0-7 0 3 0 6-1-2 0-6 0 5 0 2 0-6 0 3-1 0 0 1-1 1 0 0 0 1 0 0-1 0-1-2 0 2-1-3 0 1-1 0-2 1 0 0-1 0 0 1-4-1 0-3-1 2 0 2-1 0-1-2 0 1 0 0 0 2-1-3-1-3 0 1 0-1 0 1 0-2-1 7-1-5 0 1 0 1-1-2 0 4-1-2 0 3 0-5-1 1 0 2-1 0-1-1-1 2 0-1-1 2 0 0-1-1-2-10 0 4 0-4 0 4-1 1 0 5 0-8-1 4 0-4 0 5 0 0 0-4 0 4-1 2 0-5-1-5 0 1 0 7 0 3 0 0 0-10 0-2 0 11 0-2 0 4-1-11 0 9 0-7 0 2 0-3-1-2 0 7 0-5 0 2 0-8-1 0 0 16 0-8-1 3 0-1 0-7 0 3 0-3 0 0-1 0 0 7 0-1 0-1 0-5 0-2 0 2 0 3-1 10 0-15 0 8 0-4 0-3 0 3 0 8 0 3-1-4 0-6 0 9 0-9-1 7 0 2 0-13-1 5 0 0 0-2 0 2 0-4-1 2 0-2 0 1-1-2 0 5 0 4 0-9 0 4-1 0 0 7 0-2 0 1 0 3 0-1 0-8 0 7-1-2-1-8 0 8 0-5 0 4 0 0-1-1 0 5 0-3 0-2-1-4-1-3 0 10 0-5 0 3 0-6-1 10 0-11-1 13 0-13 0 1-1 0 0 2 0-5-1 0 0 7 0-2-1 2 0-4 0 3-1 1 0-2-2 1 0-5-1 2-1 5-1 5-1-14-1 14 0-1-1 2 0-10-1 10-1-14 0 14-2-8-2-7 0 16 0-5-1-5-1-1 0 8 0-13-1 4 0 11-1-10 0 9-1-13-1 3 0-4-2 9 0-7-1 2 0 1 0 10 0-3 0 4-2-4-1 3-1-14-3 14-2 1-1 0-2-8-11 0-17 6-1-2 8 7 6 8 19-7 1 9 2-1 2-11 0 8 2-4 0-4 1 2 0 1 0 4 1 3 1-9 0 9 1-4 0 4 3-2 0 5 1-8 3-4 5 2 1 10 0-7 2-2 2-3 0 3 1-3 1 1 0 8 1-4 1-2 1-2 1 3 0 2 0 5 1-1 2 1 1-10 0 0 0 2 1 0 1 0 0-3 2 13 1-12 0 3 0-5 0 6 1 5 1-3 0-8 1 14 1-6 0-1 1-6 1 12 0-11 0 2 0 10 0-5 1-6 1 10 0-7 0 4 1-7 0 11 0-3 0 2 0-10 1 4 0-8 0 1 0 0 0 1 1 4 0-3 0-2 0 2 0 1 0 3 0 8 0-13 0 2 1-3 0 12 0-6 0 7 1-12 0 2 0 3 0 0 0-5 1 12 0-13 0 1 0 7 0-3 0-4 0 3 1 5 0-8 0-1 0 1 0 2 0-3 0 5 0 3 1 5 0-9 0 3 1-5 0 9 0-8 0 1 0-3 1 4 0 4 0-1 0-6 1 8 0-4 0-4 0 8 0 1 0-10 1 10 1-11 0 11 0-11 1 4 0-4 0 0 1 3 0 8 0-12 0 6 1-5 0 12 0-9 1 10 0-5 0-8 0 5 1-6 0 15 0-14 0 11 0-9 1 0 0 3 0-3 0 11 0 0 0 0 0 1 1-1 0-11 0 5 0 5 1-5 0-5 1-1 0-1 0 1 0 1 0-1 0 10 0-6 1-1 0-2 0 2 1-2 0-2 0 7 0-4 0-3 1 12 0-11 0 0 0 4 1 4 0-6 0-2 0 1 0 12 0-12 0 2 1 0 0 1 0-5 0 0 0 5 0-4 1-1 0 5 1-2 0-4 0 4 1-3 0 6 0-1 1 4 0-6 0 2 0-5 0 0 1 1 0 0 0 3 1-3 0 1 0 9 1-5 0-3 1-2 1 2 0 4 0-3 2 0 0 8 0-10 0 1 1 9 0-10 0-2 2 2 0-1 0 6 1-8 0 1 0 10 1 0 1-4 1-6 0 2 1 3 0-2 0 0 0 0 0-1 1 3 0-3 0 5 3-7 1 11 0-11 7 7 2-7 0-1 1 3 4-3 0 4 8 4-44 18-5-6-1-3-4-1-1 1-6 3 0 10 0-8-2-4-1 5-1-5-3 7-1 5-3-9 0 4-2-8-3 5-6 0 0-6-3 7-3-4-13 5-9 2-12-9" fill="none" stroke="none" marker-start="url(#m)" marker-mid="url(#m)" marker-end="url(#m)"/></g></g><line x1="45.52" y1="1040.86" x2="325.98" y2="832.14" stroke="#0e820e" stroke-width="1.3"/><rect x="31.5" y="821.7" width="308.5" height="229.6" fill="none" stroke="#000" stroke-width="0.75"/><path d="M41.73 1051.3v3M31.5 1043.68h-3M104.9 1051.3v3M31.5 996.67h-3M168.06 1051.3v3M31.5 949.66h-3M231.23 1051.3v3M31.5 902.65h-3M294.39 1051.3v3M31.5 855.64h-3" stroke="#000" stroke-width="0.75" fill="none"/><g font-family="DejaVu Sans" font-size="8.7" fill="#222"><text x="41.73" y="1063.9" text-anchor="middle">50</text><text x="25.6" y="1046.88" text-anchor="end">50</text><text x="104.9" y="1063.9" text-anchor="middle">100</text><text x="25.6" y="999.87" text-anchor="end">100</text><text x="168.06" y="1063.9" text-anchor="middle">150</text><text x="25.6" y="952.86" text-anchor="end">150</text><text x="231.23" y="1063.9" text-anchor="middle">200</text><text x="25.6" y="905.85" text-anchor="end">200</text><text x="294.39" y="1063.9" text-anchor="middle">250</text><text x="25.6" y="858.84" text-anchor="end">250</text><text x="185.75" y="1074.2" text-anchor="middle">actual glucose (mg/dL)</text><text transform="translate(6.6 936.5) rotate(-90)" text-anchor="middle">predicted glucose (mg/dL)</text></g><text x="185.75" y="816" text-anchor="middle" font-family="DejaVu Sans" font-size="10.38" fill="#222">Glucose Estimation of future 90 mins</text>
<text x="333.9" y="233.7" text-anchor="end" font-family="Liberation Sans" font-size="25.4" fill="#000" stroke="#000" stroke-width="0.3" transform="translate(333.9 0) scale(1.09 1) translate(-333.9 0)">0 min</text>
<text x="682.6" y="233.7" text-anchor="end" font-family="Liberation Sans" font-size="25.4" fill="#000" stroke="#000" stroke-width="0.3" transform="translate(682.6 0) scale(1.07 1) translate(-682.6 0)">15 min</text>
<text x="331.1" y="500.7" text-anchor="end" font-family="Liberation Sans" font-size="25.4" fill="#000" stroke="#000" stroke-width="0.3" transform="translate(331.1 0) scale(1.07 1) translate(-331.1 0)">30 min</text>
<text x="672.2" y="500.7" text-anchor="end" font-family="Liberation Sans" font-size="25.4" fill="#000" stroke="#000" stroke-width="0.3" transform="translate(672.2 0) scale(1.07 1) translate(-672.2 0)">45 min</text>
<text x="331.1" y="766" text-anchor="end" font-family="Liberation Sans" font-size="25.4" fill="#000" stroke="#000" stroke-width="0.3" transform="translate(331.1 0) scale(1.07 1) translate(-331.1 0)">60 min</text>
<text x="672.2" y="766" text-anchor="end" font-family="Liberation Sans" font-size="25.4" fill="#000" stroke="#000" stroke-width="0.3" transform="translate(672.2 0) scale(1.07 1) translate(-672.2 0)">75 min</text>
<text x="330.9" y="1035.7" text-anchor="end" font-family="Liberation Sans" font-size="25.4" fill="#000" stroke="#000" stroke-width="0.3" transform="translate(330.9 0) scale(1.07 1) translate(-330.9 0)">90 min</text>
<path d="M470 1005V854M443 984.3H667" stroke="#1b6189" stroke-width="2.4" fill="none"/>
<path d="M465.3 855.2L470 845.8L474.7 855.2Z M666 979.8L675.3 984.3L666 988.8Z" fill="#1b6189"/>
<text x="490.3" y="1015.5" font-family="Liberation Sans" font-size="25.4" fill="#000" transform="translate(490.3 0) scale(1.086 1) translate(-490.3 0)">Actual Glucose</text>
<text transform="translate(433 1039) rotate(-90) scale(1.066 1)" font-family="Liberation Sans" font-size="25.8" fill="#000">Predicted Glucose</text>
</svg>
</body></html>
